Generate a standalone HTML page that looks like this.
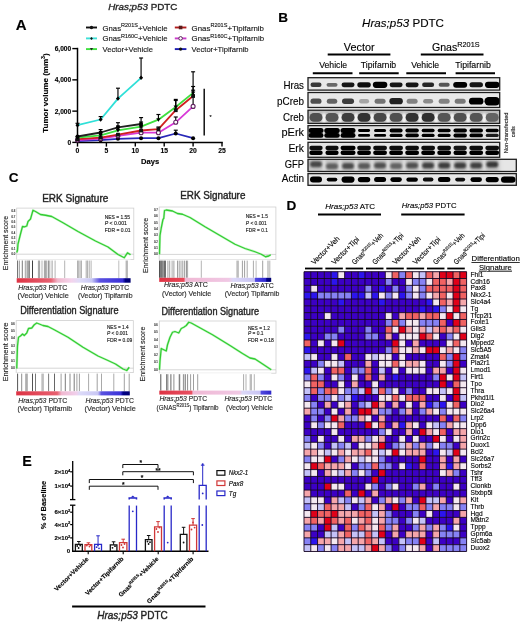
<!DOCTYPE html>
<html><head><meta charset="utf-8"><title>Figure</title>
<style>
html,body{margin:0;padding:0;background:#fff;}
body{width:520px;height:623px;overflow:hidden;}
svg{display:block;font-family:'Liberation Sans', Arial, sans-serif;}
text{stroke:#000;stroke-width:0.22px;stroke-opacity:0.55;}
</style></head><body>
<svg width="520" height="623" viewBox="0 0 520 623">
<rect x="0" y="0" width="520" height="623" fill="#fff"/>
<text x="15.80" y="30.40" font-size="15.0" font-weight="bold" >A</text>
<text x="108.20" y="9.60" font-size="9.7" fill="#222" textLength="69.20" lengthAdjust="spacingAndGlyphs" style="stroke-width:0.4px;stroke:#222;stroke-opacity:0.8"><tspan font-style="italic">Hras;p53</tspan> PDTC</text>
<line x1="77.50" y1="47.80" x2="77.50" y2="143.10" stroke="#000" stroke-width="1.5" />
<line x1="76.80" y1="142.40" x2="222.80" y2="142.40" stroke="#000" stroke-width="1.5" />
<line x1="72.30" y1="142.40" x2="77.50" y2="142.40" stroke="#000" stroke-width="1.4" />
<text x="71.20" y="144.80" font-size="6.6" font-weight="bold" text-anchor="end" >0</text>
<line x1="72.30" y1="111.13" x2="77.50" y2="111.13" stroke="#000" stroke-width="1.4" />
<text x="71.20" y="113.53" font-size="6.6" font-weight="bold" text-anchor="end" >2,000</text>
<line x1="72.30" y1="79.86" x2="77.50" y2="79.86" stroke="#000" stroke-width="1.4" />
<text x="71.20" y="82.26" font-size="6.6" font-weight="bold" text-anchor="end" >4,000</text>
<line x1="72.30" y1="48.59" x2="77.50" y2="48.59" stroke="#000" stroke-width="1.4" />
<text x="71.20" y="50.99" font-size="6.6" font-weight="bold" text-anchor="end" >6,000</text>
<line x1="77.50" y1="142.40" x2="77.50" y2="146.60" stroke="#000" stroke-width="1.4" />
<text x="77.50" y="153.30" font-size="6.8" font-weight="bold" text-anchor="middle" >0</text>
<line x1="106.40" y1="142.40" x2="106.40" y2="146.60" stroke="#000" stroke-width="1.4" />
<text x="106.40" y="153.30" font-size="6.8" font-weight="bold" text-anchor="middle" >5</text>
<line x1="135.30" y1="142.40" x2="135.30" y2="146.60" stroke="#000" stroke-width="1.4" />
<text x="135.30" y="153.30" font-size="6.8" font-weight="bold" text-anchor="middle" >10</text>
<line x1="164.20" y1="142.40" x2="164.20" y2="146.60" stroke="#000" stroke-width="1.4" />
<text x="164.20" y="153.30" font-size="6.8" font-weight="bold" text-anchor="middle" >15</text>
<line x1="193.10" y1="142.40" x2="193.10" y2="146.60" stroke="#000" stroke-width="1.4" />
<text x="193.10" y="153.30" font-size="6.8" font-weight="bold" text-anchor="middle" >20</text>
<line x1="222.00" y1="142.40" x2="222.00" y2="146.60" stroke="#000" stroke-width="1.4" />
<text x="222.00" y="153.30" font-size="6.8" font-weight="bold" text-anchor="middle" >25</text>
<text x="150.20" y="164.00" font-size="7.6" font-weight="bold" text-anchor="middle" >Days</text>
<text transform="translate(48.3,93.0) rotate(-90)" font-size="7.6" font-weight="bold" text-anchor="middle" textLength="79.5" lengthAdjust="spacingAndGlyphs">Tumor volume (mm<tspan font-size="5" dy="-3">3</tspan><tspan dy="3">)</tspan></text>
<polyline points="77.50,141.00 100.62,140.20 117.96,138.80 141.08,138.20 158.42,138.20 175.76,133.50 193.10,138.20" fill="none" stroke="#2828b8" stroke-width="1.8" stroke-linejoin="round" />
<polyline points="77.50,140.00 100.62,138.60 117.96,135.80 141.08,132.70 158.42,132.70 175.76,122.30 193.10,106.40" fill="none" stroke="#d838d8" stroke-width="1.8" stroke-linejoin="round" />
<polyline points="77.50,139.20 100.62,137.60 117.96,134.70 141.08,130.50 158.42,129.20 175.76,110.20 193.10,96.00" fill="none" stroke="#d02020" stroke-width="1.8" stroke-linejoin="round" />
<polyline points="77.50,137.60 100.62,135.30 117.96,130.40 141.08,126.60 158.42,119.70 175.76,107.00 193.10,92.90" fill="none" stroke="#3ee03e" stroke-width="1.8" stroke-linejoin="round" />
<polyline points="77.50,136.50 100.62,132.50 117.96,127.30 141.08,124.00" fill="none" stroke="#222222" stroke-width="1.8" stroke-linejoin="round" />
<polyline points="77.50,125.20 100.62,119.50 117.96,98.60 141.08,77.80" fill="none" stroke="#2fe0d8" stroke-width="1.8" stroke-linejoin="round" />
<circle cx="77.50" cy="141.00" r="2.0" fill="#000"/>
<circle cx="100.62" cy="140.20" r="2.0" fill="#000"/>
<circle cx="117.96" cy="138.80" r="2.0" fill="#000"/>
<circle cx="141.08" cy="138.20" r="2.0" fill="#000"/>
<circle cx="158.42" cy="138.20" r="2.0" fill="#000"/>
<line x1="175.76" y1="133.50" x2="175.76" y2="130.20" stroke="#000" stroke-width="1.15" />
<line x1="173.76" y1="130.20" x2="177.76" y2="130.20" stroke="#000" stroke-width="1.15" />
<circle cx="175.76" cy="133.50" r="2.0" fill="#000"/>
<circle cx="193.10" cy="138.20" r="2.0" fill="#000"/>
<circle cx="77.50" cy="140.00" r="2.0" fill="#fff" stroke="#602060" stroke-width="1.1"/>
<circle cx="100.62" cy="138.60" r="2.0" fill="#fff" stroke="#602060" stroke-width="1.1"/>
<circle cx="117.96" cy="135.80" r="2.0" fill="#fff" stroke="#602060" stroke-width="1.1"/>
<circle cx="141.08" cy="132.70" r="2.0" fill="#fff" stroke="#602060" stroke-width="1.1"/>
<circle cx="158.42" cy="132.70" r="2.0" fill="#fff" stroke="#602060" stroke-width="1.1"/>
<line x1="175.76" y1="122.30" x2="175.76" y2="117.00" stroke="#000" stroke-width="1.15" />
<line x1="173.76" y1="117.00" x2="177.76" y2="117.00" stroke="#000" stroke-width="1.15" />
<circle cx="175.76" cy="122.30" r="2.0" fill="#fff" stroke="#602060" stroke-width="1.1"/>
<line x1="193.10" y1="106.40" x2="193.10" y2="90.20" stroke="#000" stroke-width="1.15" />
<line x1="191.10" y1="90.20" x2="195.10" y2="90.20" stroke="#000" stroke-width="1.15" />
<circle cx="193.10" cy="106.40" r="2.0" fill="#fff" stroke="#602060" stroke-width="1.1"/>
<rect x="75.60" y="137.30" width="3.80" height="3.80" fill="#111" stroke="none" stroke-width="1" />
<rect x="98.72" y="135.70" width="3.80" height="3.80" fill="#111" stroke="none" stroke-width="1" />
<rect x="116.06" y="132.80" width="3.80" height="3.80" fill="#111" stroke="none" stroke-width="1" />
<line x1="141.08" y1="130.50" x2="141.08" y2="127.00" stroke="#000" stroke-width="1.15" />
<line x1="139.08" y1="127.00" x2="143.08" y2="127.00" stroke="#000" stroke-width="1.15" />
<rect x="139.18" y="128.60" width="3.80" height="3.80" fill="#111" stroke="none" stroke-width="1" />
<line x1="158.42" y1="129.20" x2="158.42" y2="127.00" stroke="#000" stroke-width="1.15" />
<line x1="156.42" y1="127.00" x2="160.42" y2="127.00" stroke="#000" stroke-width="1.15" />
<rect x="156.52" y="127.30" width="3.80" height="3.80" fill="#111" stroke="none" stroke-width="1" />
<line x1="175.76" y1="110.20" x2="175.76" y2="99.40" stroke="#000" stroke-width="1.15" />
<line x1="173.76" y1="99.40" x2="177.76" y2="99.40" stroke="#000" stroke-width="1.15" />
<rect x="173.86" y="108.30" width="3.80" height="3.80" fill="#111" stroke="none" stroke-width="1" />
<line x1="193.10" y1="96.00" x2="193.10" y2="86.50" stroke="#000" stroke-width="1.15" />
<line x1="191.10" y1="86.50" x2="195.10" y2="86.50" stroke="#000" stroke-width="1.15" />
<rect x="191.20" y="94.10" width="3.80" height="3.80" fill="#111" stroke="none" stroke-width="1" />
<path d="M75.30,136.10 L79.70,136.10 L77.50,139.60Z" fill="#000"/>
<path d="M98.42,133.80 L102.82,133.80 L100.62,137.30Z" fill="#000"/>
<line x1="117.96" y1="130.40" x2="117.96" y2="126.00" stroke="#000" stroke-width="1.15" />
<line x1="115.96" y1="126.00" x2="119.96" y2="126.00" stroke="#000" stroke-width="1.15" />
<path d="M115.76,128.90 L120.16,128.90 L117.96,132.40Z" fill="#000"/>
<line x1="141.08" y1="126.60" x2="141.08" y2="122.00" stroke="#000" stroke-width="1.15" />
<line x1="139.08" y1="122.00" x2="143.08" y2="122.00" stroke="#000" stroke-width="1.15" />
<path d="M138.88,125.10 L143.28,125.10 L141.08,128.60Z" fill="#000"/>
<line x1="158.42" y1="119.70" x2="158.42" y2="114.50" stroke="#000" stroke-width="1.15" />
<line x1="156.42" y1="114.50" x2="160.42" y2="114.50" stroke="#000" stroke-width="1.15" />
<path d="M156.22,118.20 L160.62,118.20 L158.42,121.70Z" fill="#000"/>
<line x1="175.76" y1="107.00" x2="175.76" y2="100.50" stroke="#000" stroke-width="1.15" />
<line x1="173.76" y1="100.50" x2="177.76" y2="100.50" stroke="#000" stroke-width="1.15" />
<path d="M173.56,105.50 L177.96,105.50 L175.76,109.00Z" fill="#000"/>
<line x1="193.10" y1="92.90" x2="193.10" y2="71.80" stroke="#000" stroke-width="1.15" />
<line x1="191.10" y1="71.80" x2="195.10" y2="71.80" stroke="#000" stroke-width="1.15" />
<path d="M190.90,91.40 L195.30,91.40 L193.10,94.90Z" fill="#000"/>
<circle cx="77.50" cy="136.50" r="2.0" fill="#000"/>
<line x1="100.62" y1="132.50" x2="100.62" y2="129.60" stroke="#000" stroke-width="1.15" />
<line x1="98.62" y1="129.60" x2="102.62" y2="129.60" stroke="#000" stroke-width="1.15" />
<circle cx="100.62" cy="132.50" r="2.0" fill="#000"/>
<line x1="117.96" y1="127.30" x2="117.96" y2="122.70" stroke="#000" stroke-width="1.15" />
<line x1="115.96" y1="122.70" x2="119.96" y2="122.70" stroke="#000" stroke-width="1.15" />
<circle cx="117.96" cy="127.30" r="2.0" fill="#000"/>
<line x1="141.08" y1="124.00" x2="141.08" y2="117.60" stroke="#000" stroke-width="1.15" />
<line x1="139.08" y1="117.60" x2="143.08" y2="117.60" stroke="#000" stroke-width="1.15" />
<circle cx="141.08" cy="124.00" r="2.0" fill="#000"/>
<line x1="77.50" y1="125.20" x2="77.50" y2="123.30" stroke="#000" stroke-width="1.15" />
<line x1="75.50" y1="123.30" x2="79.50" y2="123.30" stroke="#000" stroke-width="1.15" />
<path d="M77.50,123.00 L79.50,125.20 L77.50,127.40 L75.50,125.20Z" fill="#000"/>
<line x1="100.62" y1="119.50" x2="100.62" y2="116.60" stroke="#000" stroke-width="1.15" />
<line x1="98.62" y1="116.60" x2="102.62" y2="116.60" stroke="#000" stroke-width="1.15" />
<path d="M100.62,117.30 L102.62,119.50 L100.62,121.70 L98.62,119.50Z" fill="#000"/>
<line x1="117.96" y1="98.60" x2="117.96" y2="88.20" stroke="#000" stroke-width="1.15" />
<line x1="115.96" y1="88.20" x2="119.96" y2="88.20" stroke="#000" stroke-width="1.15" />
<path d="M117.96,96.40 L119.96,98.60 L117.96,100.80 L115.96,98.60Z" fill="#000"/>
<line x1="141.08" y1="77.80" x2="141.08" y2="58.00" stroke="#000" stroke-width="1.15" />
<line x1="139.08" y1="58.00" x2="143.08" y2="58.00" stroke="#000" stroke-width="1.15" />
<path d="M141.08,75.60 L143.08,77.80 L141.08,80.00 L139.08,77.80Z" fill="#000"/>
<line x1="204.20" y1="88.80" x2="204.20" y2="135.60" stroke="#000" stroke-width="1.4" />
<text x="209.50" y="119.00" font-size="5.5" >*</text>
<line x1="86.00" y1="27.50" x2="97.00" y2="27.50" stroke="#111" stroke-width="1.9" />
<circle cx="91.5" cy="27.5" r="1.7" fill="#111"/>
<text x="102.50" y="30.50" font-size="7.9" fill="#222" textLength="65.00" lengthAdjust="spacingAndGlyphs" >Gnas<tspan font-size="5.6" dy="-3.2">R201S</tspan><tspan dy="3.2">+Vehicle</tspan></text>
<line x1="86.00" y1="38.40" x2="97.00" y2="38.40" stroke="#3fe0d8" stroke-width="1.9" />
<path d="M91.5,36.9 L92.9,38.4 L91.5,39.9 L90.1,38.4Z" fill="#111"/>
<text x="102.50" y="41.40" font-size="7.9" fill="#222" textLength="65.00" lengthAdjust="spacingAndGlyphs" >Gnas<tspan font-size="5.6" dy="-3.2">R160C</tspan><tspan dy="3.2">+Vehicle</tspan></text>
<line x1="86.00" y1="49.10" x2="97.00" y2="49.10" stroke="#3ee03e" stroke-width="1.9" />
<path d="M89.9,48.0 L93.1,48.0 L91.5,50.6Z" fill="#222"/>
<text x="102.50" y="52.10" font-size="7.9" fill="#222" textLength="50.50" lengthAdjust="spacingAndGlyphs" >Vector+Vehicle</text>
<line x1="174.80" y1="27.50" x2="186.40" y2="27.50" stroke="#b01c1c" stroke-width="1.9" />
<rect x="178.80" y="25.70" width="3.60" height="3.60" fill="#5a1a1a" stroke="none" stroke-width="1" />
<text x="191.60" y="30.50" font-size="7.9" fill="#222" textLength="72.40" lengthAdjust="spacingAndGlyphs" >Gnas<tspan font-size="5.6" dy="-3.2">R201S</tspan><tspan dy="3.2">+Tipifarnib</tspan></text>
<line x1="174.80" y1="38.40" x2="186.40" y2="38.40" stroke="#c83cc8" stroke-width="1.9" />
<circle cx="180.60000000000002" cy="38.4" r="1.8" fill="#fff" stroke="#552255" stroke-width="1.0"/>
<text x="191.60" y="41.40" font-size="7.9" fill="#222" textLength="72.40" lengthAdjust="spacingAndGlyphs" >Gnas<tspan font-size="5.6" dy="-3.2">R160C</tspan><tspan dy="3.2">+Tipifarnib</tspan></text>
<line x1="174.80" y1="49.10" x2="186.40" y2="49.10" stroke="#1c1cb0" stroke-width="1.9" />
<circle cx="180.60000000000002" cy="49.1" r="1.7" fill="#111"/>
<text x="191.60" y="52.10" font-size="7.9" fill="#222" textLength="57.00" lengthAdjust="spacingAndGlyphs" >Vector+Tipifarnib</text>
<text x="278.20" y="22.30" font-size="13.6" font-weight="bold" >B</text>
<text x="362.10" y="27.30" font-size="11.2" textLength="81.90" lengthAdjust="spacingAndGlyphs" ><tspan font-style="italic">Hras;p53</tspan> PDTC</text>
<text x="343.80" y="51.00" font-size="10.2" textLength="30.80" lengthAdjust="spacingAndGlyphs" >Vector</text>
<text x="431.90" y="51.00" font-size="10.2" textLength="47.70" lengthAdjust="spacingAndGlyphs" >Gnas<tspan font-size="7" dy="-4">R201S</tspan></text>
<line x1="327.70" y1="54.60" x2="390.40" y2="54.60" stroke="#000" stroke-width="2.0" />
<line x1="420.80" y1="54.60" x2="483.50" y2="54.60" stroke="#000" stroke-width="2.0" />
<text x="319.20" y="68.30" font-size="8.6" textLength="28.00" lengthAdjust="spacingAndGlyphs" >Vehicle</text>
<text x="360.80" y="68.30" font-size="8.6" textLength="35.40" lengthAdjust="spacingAndGlyphs" >Tipifarnib</text>
<text x="411.20" y="68.30" font-size="8.6" textLength="28.00" lengthAdjust="spacingAndGlyphs" >Vehicle</text>
<text x="455.20" y="68.30" font-size="8.6" textLength="35.60" lengthAdjust="spacingAndGlyphs" >Tipifarnib</text>
<line x1="312.80" y1="73.30" x2="352.50" y2="73.30" stroke="#000" stroke-width="2.0" />
<line x1="359.20" y1="73.30" x2="398.70" y2="73.30" stroke="#000" stroke-width="2.0" />
<line x1="406.30" y1="73.30" x2="446.00" y2="73.30" stroke="#000" stroke-width="2.0" />
<line x1="455.60" y1="73.30" x2="495.00" y2="73.30" stroke="#000" stroke-width="2.0" />
<text x="304.00" y="88.70" font-size="10.4" text-anchor="end" textLength="20.60" lengthAdjust="spacingAndGlyphs" >Hras</text>
<text x="304.00" y="104.60" font-size="10.4" text-anchor="end" textLength="26.90" lengthAdjust="spacingAndGlyphs" >pCreb</text>
<text x="304.00" y="120.60" font-size="10.4" text-anchor="end" textLength="21.00" lengthAdjust="spacingAndGlyphs" >Creb</text>
<text x="304.00" y="135.50" font-size="10.4" text-anchor="end" textLength="22.50" lengthAdjust="spacingAndGlyphs" >pErk</text>
<text x="304.00" y="152.00" font-size="10.4" text-anchor="end" textLength="15.60" lengthAdjust="spacingAndGlyphs" >Erk</text>
<text x="304.00" y="167.80" font-size="10.4" text-anchor="end" textLength="19.20" lengthAdjust="spacingAndGlyphs" >GFP</text>
<text x="304.00" y="181.60" font-size="10.4" text-anchor="end" textLength="22.20" lengthAdjust="spacingAndGlyphs" >Actin</text>
<defs><filter id="bb" x="-50%" y="-100%" width="200%" height="300%"><feGaussianBlur stdDeviation="0.7"/></filter><filter id="bs" x="-50%" y="-100%" width="200%" height="300%"><feGaussianBlur stdDeviation="1.3"/></filter><filter id="bx" x="-20%" y="-50%" width="140%" height="200%"><feGaussianBlur stdDeviation="1.0"/></filter></defs>
<rect x="308.00" y="77.70" width="191.70" height="12.40" fill="#e8e8e8" stroke="none" stroke-width="1" />
<g filter="url(#bb)">
<rect x="310.50" y="82.60" width="11.00" height="4.40" rx="2.20" fill="rgb(55,55,55)"/>
<rect x="326.52" y="82.90" width="11.00" height="3.80" rx="1.90" fill="rgb(105,105,105)"/>
<rect x="341.54" y="82.40" width="13.00" height="4.80" rx="2.40" fill="rgb(25,25,25)"/>
<rect x="357.31" y="82.20" width="13.50" height="5.20" rx="2.60" fill="rgb(15,15,15)"/>
<rect x="372.83" y="81.70" width="14.50" height="6.20" rx="3.10" fill="rgb(0,0,0)"/>
<rect x="389.60" y="82.40" width="13.00" height="4.80" rx="2.40" fill="rgb(25,25,25)"/>
<rect x="405.62" y="82.40" width="13.00" height="4.80" rx="2.40" fill="rgb(20,20,20)"/>
<rect x="422.14" y="82.60" width="12.00" height="4.40" rx="2.20" fill="rgb(40,40,40)"/>
<rect x="438.66" y="82.80" width="11.00" height="4.00" rx="2.00" fill="rgb(85,85,85)"/>
<rect x="453.18" y="81.90" width="14.00" height="5.80" rx="2.90" fill="rgb(5,5,5)"/>
<rect x="469.45" y="82.30" width="13.50" height="5.00" rx="2.50" fill="rgb(20,20,20)"/>
<rect x="484.97" y="81.70" width="14.50" height="6.20" rx="3.10" fill="rgb(0,0,0)"/>
</g>
<rect x="308.00" y="77.70" width="191.70" height="12.40" fill="none" stroke="#1e1e1e" stroke-width="1.3" />
<rect x="308.00" y="92.50" width="191.70" height="15.00" fill="#e8e8e8" stroke="none" stroke-width="1" />
<g filter="url(#bb)">
<rect x="310.50" y="98.60" width="11.00" height="5.20" rx="2.60" fill="rgb(80,80,80)"/>
<rect x="326.77" y="98.70" width="10.50" height="5.00" rx="2.50" fill="rgb(100,100,100)"/>
<rect x="342.04" y="98.50" width="12.00" height="5.40" rx="2.70" fill="rgb(60,60,60)"/>
<rect x="359.06" y="99.00" width="10.00" height="4.40" rx="2.20" fill="rgb(165,165,165)"/>
<rect x="374.58" y="98.70" width="11.00" height="5.00" rx="2.50" fill="rgb(115,115,115)"/>
<rect x="389.35" y="98.10" width="13.50" height="6.20" rx="3.10" fill="rgb(35,35,35)"/>
<rect x="406.62" y="98.70" width="11.00" height="5.00" rx="2.50" fill="rgb(130,130,130)"/>
<rect x="423.14" y="98.90" width="10.00" height="4.60" rx="2.30" fill="rgb(140,140,140)"/>
<rect x="438.66" y="98.70" width="11.00" height="5.00" rx="2.50" fill="rgb(130,130,130)"/>
<rect x="454.68" y="98.70" width="11.00" height="5.00" rx="2.50" fill="rgb(120,120,120)"/>
<rect x="468.95" y="97.80" width="14.50" height="6.80" rx="3.40" fill="rgb(5,5,5)"/>
<rect x="484.47" y="97.00" width="15.50" height="8.40" rx="4.20" fill="rgb(0,0,0)"/>
</g>
<rect x="308.00" y="92.50" width="191.70" height="15.00" fill="none" stroke="#1e1e1e" stroke-width="1.3" />
<rect x="308.00" y="110.20" width="191.70" height="13.20" fill="#bcbcbc" stroke="none" stroke-width="1" />
<g filter="url(#bx)">
<ellipse cx="324.01" cy="118.2" rx="2.3" ry="5.2" fill="#f4f4f4"/>
<ellipse cx="340.03" cy="118.2" rx="2.3" ry="5.2" fill="#f4f4f4"/>
<ellipse cx="356.05" cy="118.2" rx="2.3" ry="5.2" fill="#f4f4f4"/>
<ellipse cx="372.07" cy="118.2" rx="2.3" ry="5.2" fill="#f4f4f4"/>
<ellipse cx="388.09" cy="118.2" rx="2.3" ry="5.2" fill="#f4f4f4"/>
<ellipse cx="404.11" cy="118.2" rx="2.3" ry="5.2" fill="#f4f4f4"/>
<ellipse cx="420.13" cy="118.2" rx="2.3" ry="5.2" fill="#f4f4f4"/>
<ellipse cx="436.15" cy="118.2" rx="2.3" ry="5.2" fill="#f4f4f4"/>
<ellipse cx="452.17" cy="118.2" rx="2.3" ry="5.2" fill="#f4f4f4"/>
<ellipse cx="468.19" cy="118.2" rx="2.3" ry="5.2" fill="#f4f4f4"/>
<ellipse cx="484.21" cy="118.2" rx="2.3" ry="5.2" fill="#f4f4f4"/>
</g>
<g filter="url(#bb)">
<rect x="309.50" y="113.00" width="13.00" height="8.80" rx="4.40" fill="rgb(80,80,80)"/>
<rect x="325.52" y="113.00" width="13.00" height="8.80" rx="4.40" fill="rgb(85,85,85)"/>
<rect x="341.54" y="113.00" width="13.00" height="8.80" rx="4.40" fill="rgb(60,60,60)"/>
<rect x="357.56" y="113.00" width="13.00" height="8.80" rx="4.40" fill="rgb(50,50,50)"/>
<rect x="373.58" y="113.00" width="13.00" height="8.80" rx="4.40" fill="rgb(70,70,70)"/>
<rect x="389.60" y="113.00" width="13.00" height="8.80" rx="4.40" fill="rgb(80,80,80)"/>
<rect x="405.62" y="113.00" width="13.00" height="8.80" rx="4.40" fill="rgb(50,50,50)"/>
<rect x="421.64" y="113.00" width="13.00" height="8.80" rx="4.40" fill="rgb(45,45,45)"/>
<rect x="437.66" y="113.00" width="13.00" height="8.80" rx="4.40" fill="rgb(85,85,85)"/>
<rect x="453.68" y="113.00" width="13.00" height="8.80" rx="4.40" fill="rgb(80,80,80)"/>
<rect x="469.70" y="113.00" width="13.00" height="8.80" rx="4.40" fill="rgb(85,85,85)"/>
<rect x="485.72" y="113.00" width="13.00" height="8.80" rx="4.40" fill="rgb(100,100,100)"/>
</g>
<rect x="308.00" y="110.20" width="191.70" height="13.20" fill="none" stroke="#1e1e1e" stroke-width="1.3" />
<rect x="308.00" y="125.60" width="191.70" height="13.80" fill="#e0e0e0" stroke="none" stroke-width="1" />
<g filter="url(#bb)">
<rect x="308.50" y="128.00" width="15.00" height="5.00" rx="2.50" fill="rgb(0,0,0)"/>
<rect x="324.27" y="127.90" width="15.50" height="5.20" rx="2.60" fill="rgb(0,0,0)"/>
<rect x="340.54" y="128.00" width="15.00" height="5.00" rx="2.50" fill="rgb(0,0,0)"/>
<rect x="358.06" y="129.10" width="12.00" height="2.80" rx="1.40" fill="rgb(0,0,0)"/>
<rect x="374.08" y="129.00" width="12.00" height="3.00" rx="1.50" fill="rgb(0,0,0)"/>
<rect x="389.60" y="128.60" width="13.00" height="3.80" rx="1.90" fill="rgb(0,0,0)"/>
<rect x="405.37" y="128.40" width="13.50" height="4.20" rx="2.10" fill="rgb(0,0,0)"/>
<rect x="421.64" y="128.70" width="13.00" height="3.60" rx="1.80" fill="rgb(0,0,0)"/>
<rect x="437.66" y="128.70" width="13.00" height="3.60" rx="1.80" fill="rgb(0,0,0)"/>
<rect x="453.43" y="128.40" width="13.50" height="4.20" rx="2.10" fill="rgb(0,0,0)"/>
<rect x="469.45" y="128.50" width="13.50" height="4.00" rx="2.00" fill="rgb(0,0,0)"/>
<rect x="485.72" y="128.70" width="13.00" height="3.60" rx="1.80" fill="rgb(0,0,0)"/>
</g>
<g filter="url(#bb)">
<rect x="308.50" y="133.10" width="15.00" height="4.60" rx="2.30" fill="rgb(0,0,0)"/>
<rect x="324.27" y="133.00" width="15.50" height="4.80" rx="2.40" fill="rgb(0,0,0)"/>
<rect x="340.54" y="133.10" width="15.00" height="4.60" rx="2.30" fill="rgb(0,0,0)"/>
<rect x="358.06" y="134.10" width="12.00" height="2.60" rx="1.30" fill="rgb(0,0,0)"/>
<rect x="374.08" y="134.10" width="12.00" height="2.60" rx="1.30" fill="rgb(0,0,0)"/>
<rect x="389.60" y="133.70" width="13.00" height="3.40" rx="1.70" fill="rgb(0,0,0)"/>
<rect x="405.37" y="133.60" width="13.50" height="3.60" rx="1.80" fill="rgb(0,0,0)"/>
<rect x="421.64" y="133.70" width="13.00" height="3.40" rx="1.70" fill="rgb(0,0,0)"/>
<rect x="437.66" y="133.70" width="13.00" height="3.40" rx="1.70" fill="rgb(0,0,0)"/>
<rect x="453.43" y="133.40" width="13.50" height="4.00" rx="2.00" fill="rgb(0,0,0)"/>
<rect x="469.45" y="133.50" width="13.50" height="3.80" rx="1.90" fill="rgb(0,0,0)"/>
<rect x="485.72" y="133.70" width="13.00" height="3.40" rx="1.70" fill="rgb(30,30,30)"/>
</g>
<rect x="308.00" y="125.60" width="191.70" height="13.80" fill="none" stroke="#1e1e1e" stroke-width="1.3" />
<rect x="308.00" y="142.30" width="191.70" height="15.00" fill="#e4e4e4" stroke="none" stroke-width="1" />
<g filter="url(#bb)">
<rect x="309.30" y="145.85" width="13.40" height="4.30" rx="2.15" fill="rgb(15,15,15)"/>
<rect x="325.42" y="145.85" width="13.20" height="4.30" rx="2.15" fill="rgb(15,15,15)"/>
<rect x="340.54" y="145.85" width="15.00" height="4.30" rx="2.15" fill="rgb(0,0,0)"/>
<rect x="357.16" y="145.85" width="13.80" height="4.30" rx="2.15" fill="rgb(15,15,15)"/>
<rect x="373.18" y="145.85" width="13.80" height="4.30" rx="2.15" fill="rgb(10,10,10)"/>
<rect x="389.20" y="145.85" width="13.80" height="4.30" rx="2.15" fill="rgb(15,15,15)"/>
<rect x="405.22" y="145.85" width="13.80" height="4.30" rx="2.15" fill="rgb(15,15,15)"/>
<rect x="421.24" y="145.85" width="13.80" height="4.30" rx="2.15" fill="rgb(10,10,10)"/>
<rect x="437.26" y="145.85" width="13.80" height="4.30" rx="2.15" fill="rgb(15,15,15)"/>
<rect x="453.48" y="145.85" width="13.40" height="4.30" rx="2.15" fill="rgb(20,20,20)"/>
<rect x="469.30" y="145.85" width="13.80" height="4.30" rx="2.15" fill="rgb(15,15,15)"/>
<rect x="485.32" y="145.85" width="13.80" height="4.30" rx="2.15" fill="rgb(10,10,10)"/>
</g>
<g filter="url(#bb)">
<rect x="309.30" y="150.50" width="13.40" height="4.60" rx="2.30" fill="rgb(0,0,0)"/>
<rect x="325.42" y="150.50" width="13.20" height="4.60" rx="2.30" fill="rgb(0,0,0)"/>
<rect x="340.54" y="150.50" width="15.00" height="4.60" rx="2.30" fill="rgb(0,0,0)"/>
<rect x="357.16" y="150.50" width="13.80" height="4.60" rx="2.30" fill="rgb(0,0,0)"/>
<rect x="373.18" y="150.50" width="13.80" height="4.60" rx="2.30" fill="rgb(0,0,0)"/>
<rect x="389.20" y="150.50" width="13.80" height="4.60" rx="2.30" fill="rgb(0,0,0)"/>
<rect x="405.22" y="150.50" width="13.80" height="4.60" rx="2.30" fill="rgb(0,0,0)"/>
<rect x="421.24" y="150.50" width="13.80" height="4.60" rx="2.30" fill="rgb(0,0,0)"/>
<rect x="437.26" y="150.50" width="13.80" height="4.60" rx="2.30" fill="rgb(5,5,5)"/>
<rect x="453.48" y="150.50" width="13.40" height="4.60" rx="2.30" fill="rgb(5,5,5)"/>
<rect x="469.30" y="150.50" width="13.80" height="4.60" rx="2.30" fill="rgb(0,0,0)"/>
<rect x="485.32" y="150.50" width="13.80" height="4.60" rx="2.30" fill="rgb(5,5,5)"/>
</g>
<rect x="308.00" y="142.30" width="191.70" height="15.00" fill="none" stroke="#1e1e1e" stroke-width="1.3" />
<rect x="308.00" y="159.30" width="208.30" height="12.20" fill="#c4c4c4" stroke="none" stroke-width="1" />
<rect x="500.50" y="159.30" width="15.80" height="12.20" fill="#e6e6e6" stroke="none" stroke-width="1" />
<g filter="url(#bx)">
<rect x="322.41" y="159.30" width="3.2" height="12.20" fill="#dedede"/>
<rect x="338.43" y="159.30" width="3.2" height="12.20" fill="#dedede"/>
<rect x="354.45" y="159.30" width="3.2" height="12.20" fill="#dedede"/>
<rect x="370.47" y="159.30" width="3.2" height="12.20" fill="#dedede"/>
<rect x="386.49" y="159.30" width="3.2" height="12.20" fill="#dedede"/>
<rect x="402.51" y="159.30" width="3.2" height="12.20" fill="#dedede"/>
<rect x="418.53" y="159.30" width="3.2" height="12.20" fill="#dedede"/>
<rect x="434.55" y="159.30" width="3.2" height="12.20" fill="#dedede"/>
<rect x="450.57" y="159.30" width="3.2" height="12.20" fill="#dedede"/>
<rect x="466.59" y="159.30" width="3.2" height="12.20" fill="#dedede"/>
<rect x="482.61" y="159.30" width="3.2" height="12.20" fill="#dedede"/>
<rect x="498.63" y="159.30" width="3.2" height="12.20" fill="#dedede"/>
</g>
<g filter="url(#bs)">
<rect x="310.00" y="161.20" width="12.00" height="6.00" rx="3.00" fill="rgb(70,70,70)"/>
<rect x="326.02" y="163.20" width="12.00" height="6.00" rx="3.00" fill="rgb(95,95,95)"/>
<rect x="342.04" y="163.10" width="12.00" height="6.00" rx="3.00" fill="rgb(75,75,75)"/>
<rect x="358.06" y="162.90" width="12.00" height="6.00" rx="3.00" fill="rgb(90,90,90)"/>
<rect x="374.08" y="162.60" width="12.00" height="6.00" rx="3.00" fill="rgb(80,80,80)"/>
<rect x="390.10" y="163.10" width="12.00" height="6.00" rx="3.00" fill="rgb(100,100,100)"/>
<rect x="406.12" y="162.60" width="12.00" height="6.00" rx="3.00" fill="rgb(80,80,80)"/>
<rect x="422.14" y="162.60" width="12.00" height="6.00" rx="3.00" fill="rgb(65,65,65)"/>
<rect x="438.16" y="162.60" width="12.00" height="6.00" rx="3.00" fill="rgb(60,60,60)"/>
<rect x="454.18" y="162.60" width="12.00" height="6.00" rx="3.00" fill="rgb(60,60,60)"/>
<rect x="470.20" y="162.60" width="12.00" height="6.00" rx="3.00" fill="rgb(65,65,65)"/>
<rect x="486.22" y="161.60" width="12.00" height="6.00" rx="3.00" fill="rgb(55,55,55)"/>
</g>
<rect x="308.00" y="159.30" width="208.30" height="12.20" fill="none" stroke="#1e1e1e" stroke-width="1.3" />
<rect x="308.00" y="173.60" width="208.30" height="11.70" fill="#e6e6e6" stroke="none" stroke-width="1" />
<g filter="url(#bb)">
<rect x="310.00" y="176.60" width="12.00" height="6.00" rx="3.00" fill="rgb(0,0,0)"/>
<rect x="326.72" y="177.80" width="10.60" height="3.60" rx="1.80" fill="rgb(5,5,5)"/>
<rect x="341.54" y="176.50" width="13.00" height="6.20" rx="3.10" fill="rgb(0,0,0)"/>
<rect x="357.86" y="176.90" width="12.40" height="5.40" rx="2.70" fill="rgb(0,0,0)"/>
<rect x="374.08" y="177.10" width="12.00" height="5.00" rx="2.50" fill="rgb(2,2,2)"/>
<rect x="390.35" y="177.20" width="11.50" height="4.80" rx="2.40" fill="rgb(3,3,3)"/>
<rect x="406.37" y="177.40" width="11.50" height="4.40" rx="2.20" fill="rgb(5,5,5)"/>
<rect x="422.89" y="177.60" width="10.50" height="4.00" rx="2.00" fill="rgb(8,8,8)"/>
<rect x="437.96" y="177.10" width="12.40" height="5.00" rx="2.50" fill="rgb(2,2,2)"/>
<rect x="455.18" y="177.80" width="10.00" height="3.60" rx="1.80" fill="rgb(10,10,10)"/>
<rect x="470.45" y="177.30" width="11.50" height="4.60" rx="2.30" fill="rgb(5,5,5)"/>
<rect x="485.72" y="176.90" width="13.00" height="5.40" rx="2.70" fill="rgb(0,0,0)"/>
<rect x="500.99" y="176.40" width="14.50" height="6.40" rx="3.20" fill="rgb(0,0,0)"/>
</g>
<rect x="308.00" y="173.60" width="208.30" height="11.70" fill="none" stroke="#1e1e1e" stroke-width="1.3" />
<text transform="translate(508.4,153.2) rotate(-90)" font-size="5.8" fill="#222" textLength="40.7" lengthAdjust="spacingAndGlyphs">Non-transfected</text>
<text transform="translate(515.0,137.3) rotate(-90)" font-size="5.8" fill="#222" textLength="11.1" lengthAdjust="spacingAndGlyphs">cells</text>
<text x="8.70" y="181.80" font-size="13.6" font-weight="bold" >C</text>
<defs><linearGradient id="cb0" x1="0" x2="1" y1="0" y2="0"><stop offset="0" stop-color="#dd3344"/><stop offset="0.3" stop-color="#e66070"/><stop offset="0.36" stop-color="#f0b8cc"/><stop offset="0.48" stop-color="#f4d4ec"/><stop offset="0.55" stop-color="#e0dcf8"/><stop offset="0.66" stop-color="#c8c8f4"/><stop offset="0.73" stop-color="#5a50e0"/><stop offset="0.93" stop-color="#3a30d8"/><stop offset="0.955" stop-color="#000080"/><stop offset="1" stop-color="#000070"/></linearGradient></defs>
<text x="42.20" y="202.00" font-size="10.0" fill="#222" textLength="66.10" lengthAdjust="spacingAndGlyphs" style="stroke-width:0.45px;stroke:#222;stroke-opacity:0.8">ERK Signature</text>
<text transform="translate(7.60,243.00) rotate(-90)" font-size="7.2" text-anchor="middle" fill="#333" textLength="54.5" lengthAdjust="spacingAndGlyphs">Enrichment score</text>
<rect x="16.70" y="208.10" width="117.10" height="51.40" fill="#fff" stroke="#cfcfcf" stroke-width="0.8" />
<line x1="16.70" y1="254.20" x2="133.80" y2="254.20" stroke="#b8b8b8" stroke-width="0.6" />
<text x="15.30" y="212.30" font-size="2.8" text-anchor="end" fill="#555" >0.8</text>
<text x="15.30" y="217.66" font-size="2.8" text-anchor="end" fill="#555" >0.7</text>
<text x="15.30" y="223.03" font-size="2.8" text-anchor="end" fill="#555" >0.6</text>
<text x="15.30" y="228.39" font-size="2.8" text-anchor="end" fill="#555" >0.5</text>
<text x="15.30" y="233.75" font-size="2.8" text-anchor="end" fill="#555" >0.4</text>
<text x="15.30" y="239.11" font-size="2.8" text-anchor="end" fill="#555" >0.3</text>
<text x="15.30" y="244.47" font-size="2.8" text-anchor="end" fill="#555" >0.2</text>
<text x="15.30" y="249.84" font-size="2.8" text-anchor="end" fill="#555" >0.1</text>
<text x="15.30" y="255.20" font-size="2.8" text-anchor="end" fill="#555" >0.0</text>
<polyline points="16.75,252.50 17.50,250.25 18.00,244.00 20.50,234.00 22.50,226.50 24.50,226.80 26.75,226.00 28.00,221.50 30.50,219.00 33.00,210.25 35.50,211.50 40.50,214.50 45.50,215.25 51.75,216.50 63.00,222.75 78.00,231.50 95.50,241.00 108.00,247.00 118.00,254.50 124.25,257.75 127.50,252.75 130.50,254.75" fill="none" stroke="#9af09a" stroke-width="2.4" stroke-linejoin="round" stroke-opacity="0.55"/>
<polyline points="16.75,252.50 17.50,250.25 18.00,244.00 20.50,234.00 22.50,226.50 24.50,226.80 26.75,226.00 28.00,221.50 30.50,219.00 33.00,210.25 35.50,211.50 40.50,214.50 45.50,215.25 51.75,216.50 63.00,222.75 78.00,231.50 95.50,241.00 108.00,247.00 118.00,254.50 124.25,257.75 127.50,252.75 130.50,254.75" fill="none" stroke="#33cc33" stroke-width="1.3" stroke-linejoin="round" />
<text x="104.70" y="218.90" font-size="5.4" fill="#222" textLength="25.40" lengthAdjust="spacingAndGlyphs" >NES = 1.55</text>
<text x="104.70" y="225.20" font-size="5.4" fill="#222" textLength="22.30" lengthAdjust="spacingAndGlyphs" ><tspan font-style="italic">P</tspan> &lt; 0.001</text>
<text x="104.70" y="232.20" font-size="5.4" fill="#222" textLength="25.80" lengthAdjust="spacingAndGlyphs" >FDR = 0.01</text>
<rect x="16.70" y="259.50" width="113.90" height="18.70" fill="#fff" stroke="none" stroke-width="1" />
<line x1="17.60" y1="260.50" x2="17.60" y2="278.20" stroke="#000" stroke-width="0.75" stroke-opacity="0.8"/>
<line x1="19.40" y1="260.50" x2="19.40" y2="278.20" stroke="#000" stroke-width="0.75" stroke-opacity="0.5"/>
<line x1="22.30" y1="260.50" x2="22.30" y2="278.20" stroke="#000" stroke-width="0.75" stroke-opacity="0.7"/>
<line x1="25.30" y1="260.50" x2="25.30" y2="278.20" stroke="#000" stroke-width="0.75" stroke-opacity="0.5"/>
<line x1="27.10" y1="260.50" x2="27.10" y2="278.20" stroke="#000" stroke-width="0.75" stroke-opacity="0.6"/>
<line x1="28.30" y1="260.50" x2="28.30" y2="278.20" stroke="#000" stroke-width="0.75" stroke-opacity="0.6"/>
<line x1="29.50" y1="260.50" x2="29.50" y2="278.20" stroke="#000" stroke-width="0.75" stroke-opacity="0.6"/>
<line x1="32.50" y1="260.50" x2="32.50" y2="278.20" stroke="#000" stroke-width="0.75" stroke-opacity="1.0"/>
<line x1="38.40" y1="260.50" x2="38.40" y2="278.20" stroke="#000" stroke-width="0.75" stroke-opacity="0.5"/>
<line x1="39.60" y1="260.50" x2="39.60" y2="278.20" stroke="#000" stroke-width="0.75" stroke-opacity="0.5"/>
<line x1="42.00" y1="260.50" x2="42.00" y2="278.20" stroke="#000" stroke-width="0.75" stroke-opacity="0.4"/>
<line x1="44.40" y1="260.50" x2="44.40" y2="278.20" stroke="#000" stroke-width="0.75" stroke-opacity="0.5"/>
<line x1="45.60" y1="260.50" x2="45.60" y2="278.20" stroke="#000" stroke-width="0.75" stroke-opacity="0.5"/>
<line x1="46.80" y1="260.50" x2="46.80" y2="278.20" stroke="#000" stroke-width="0.75" stroke-opacity="0.5"/>
<line x1="48.60" y1="260.50" x2="48.60" y2="278.20" stroke="#000" stroke-width="0.75" stroke-opacity="0.6"/>
<line x1="49.80" y1="260.50" x2="49.80" y2="278.20" stroke="#000" stroke-width="0.75" stroke-opacity="0.4"/>
<line x1="52.10" y1="260.50" x2="52.10" y2="278.20" stroke="#000" stroke-width="0.75" stroke-opacity="0.5"/>
<line x1="55.10" y1="260.50" x2="55.10" y2="278.20" stroke="#000" stroke-width="0.75" stroke-opacity="0.4"/>
<line x1="64.70" y1="260.50" x2="64.70" y2="278.20" stroke="#000" stroke-width="0.75" stroke-opacity="0.4"/>
<line x1="77.60" y1="260.50" x2="77.60" y2="278.20" stroke="#000" stroke-width="0.75" stroke-opacity="0.45"/>
<line x1="78.80" y1="260.50" x2="78.80" y2="278.20" stroke="#000" stroke-width="0.75" stroke-opacity="0.45"/>
<line x1="80.20" y1="260.50" x2="80.20" y2="278.20" stroke="#000" stroke-width="0.75" stroke-opacity="0.4"/>
<line x1="81.50" y1="260.50" x2="81.50" y2="278.20" stroke="#000" stroke-width="0.75" stroke-opacity="0.4"/>
<line x1="86.20" y1="260.50" x2="86.20" y2="278.20" stroke="#000" stroke-width="0.75" stroke-opacity="0.45"/>
<line x1="87.50" y1="260.50" x2="87.50" y2="278.20" stroke="#000" stroke-width="0.75" stroke-opacity="0.4"/>
<line x1="89.20" y1="260.50" x2="89.20" y2="278.20" stroke="#000" stroke-width="0.75" stroke-opacity="0.45"/>
<line x1="91.10" y1="260.50" x2="91.10" y2="278.20" stroke="#000" stroke-width="0.75" stroke-opacity="0.4"/>
<line x1="118.80" y1="260.50" x2="118.80" y2="278.20" stroke="#000" stroke-width="0.75" stroke-opacity="0.35"/>
<line x1="126.20" y1="260.50" x2="126.20" y2="278.20" stroke="#000" stroke-width="0.75" stroke-opacity="0.5"/>
<line x1="127.40" y1="260.50" x2="127.40" y2="278.20" stroke="#000" stroke-width="0.75" stroke-opacity="0.4"/>
<rect x="16.70" y="278.20" width="113.90" height="4.50" fill="url(#cb0)" stroke="none" stroke-width="1" />
<text x="18.30" y="290.20" font-size="7.0" fill="#333" textLength="49.00" lengthAdjust="spacingAndGlyphs" ><tspan font-style="italic">Hras;p53</tspan> PDTC</text>
<text x="17.50" y="298.30" font-size="7.0" fill="#333" textLength="51.20" lengthAdjust="spacingAndGlyphs" >(Vector) Vehicle</text>
<text x="80.80" y="290.20" font-size="7.0" fill="#333" textLength="48.40" lengthAdjust="spacingAndGlyphs" ><tspan font-style="italic">Hras;p53</tspan> PDTC</text>
<text x="78.00" y="298.30" font-size="7.0" fill="#333" textLength="54.50" lengthAdjust="spacingAndGlyphs" >(Vector) Tipifarnib</text>
<defs><linearGradient id="cb1" x1="0" x2="1" y1="0" y2="0"><stop offset="0" stop-color="#dd3344"/><stop offset="0.22" stop-color="#e84858"/><stop offset="0.235" stop-color="#f0b8d4"/><stop offset="0.62" stop-color="#f0c8e4"/><stop offset="0.66" stop-color="#dcd8f8"/><stop offset="0.85" stop-color="#c8c4f4"/><stop offset="0.86" stop-color="#5048e0"/><stop offset="0.95" stop-color="#3028d0"/><stop offset="0.96" stop-color="#000088"/><stop offset="1" stop-color="#000070"/></linearGradient></defs>
<text x="180.20" y="199.40" font-size="10.0" fill="#222" textLength="65.20" lengthAdjust="spacingAndGlyphs" style="stroke-width:0.45px;stroke:#222;stroke-opacity:0.8">ERK Signature</text>
<text transform="translate(148.00,245.30) rotate(-90)" font-size="7.2" text-anchor="middle" fill="#333" textLength="55.2" lengthAdjust="spacingAndGlyphs">Enrichment score</text>
<rect x="159.20" y="207.00" width="116.70" height="52.60" fill="#fff" stroke="#cfcfcf" stroke-width="0.8" />
<line x1="159.20" y1="254.40" x2="275.90" y2="254.40" stroke="#b8b8b8" stroke-width="0.6" />
<text x="157.80" y="211.00" font-size="2.8" text-anchor="end" fill="#555" >0.7</text>
<text x="157.80" y="217.34" font-size="2.8" text-anchor="end" fill="#555" >0.6</text>
<text x="157.80" y="223.69" font-size="2.8" text-anchor="end" fill="#555" >0.5</text>
<text x="157.80" y="230.03" font-size="2.8" text-anchor="end" fill="#555" >0.4</text>
<text x="157.80" y="236.37" font-size="2.8" text-anchor="end" fill="#555" >0.3</text>
<text x="157.80" y="242.71" font-size="2.8" text-anchor="end" fill="#555" >0.2</text>
<text x="157.80" y="249.06" font-size="2.8" text-anchor="end" fill="#555" >0.1</text>
<text x="157.80" y="255.40" font-size="2.8" text-anchor="end" fill="#555" >0.0</text>
<polyline points="159.50,254.25 160.00,235.50 161.25,228.00 163.00,219.25 163.75,218.50 164.50,210.50 166.25,210.00 172.50,211.00 177.50,213.50 182.50,214.25 190.00,217.50 205.00,226.75 220.00,235.50 235.00,244.25 245.00,248.50 255.00,251.75 261.25,254.25 265.50,256.75 268.75,256.00 270.75,254.75" fill="none" stroke="#9af09a" stroke-width="2.4" stroke-linejoin="round" stroke-opacity="0.55"/>
<polyline points="159.50,254.25 160.00,235.50 161.25,228.00 163.00,219.25 163.75,218.50 164.50,210.50 166.25,210.00 172.50,211.00 177.50,213.50 182.50,214.25 190.00,217.50 205.00,226.75 220.00,235.50 235.00,244.25 245.00,248.50 255.00,251.75 261.25,254.25 265.50,256.75 268.75,256.00 270.75,254.75" fill="none" stroke="#33cc33" stroke-width="1.3" stroke-linejoin="round" />
<text x="245.80" y="218.40" font-size="5.4" fill="#222" textLength="22.20" lengthAdjust="spacingAndGlyphs" >NES = 1.5</text>
<text x="245.80" y="224.90" font-size="5.4" fill="#222" textLength="21.00" lengthAdjust="spacingAndGlyphs" ><tspan font-style="italic">P</tspan> &lt; 0.001</text>
<text x="245.80" y="232.00" font-size="5.4" fill="#222" textLength="22.00" lengthAdjust="spacingAndGlyphs" >FDR = 0.1</text>
<rect x="159.20" y="259.60" width="112.00" height="18.20" fill="#fff" stroke="none" stroke-width="1" />
<line x1="159.60" y1="260.60" x2="159.60" y2="277.80" stroke="#000" stroke-width="0.75" stroke-opacity="1.0"/>
<line x1="160.80" y1="260.60" x2="160.80" y2="277.80" stroke="#000" stroke-width="0.75" stroke-opacity="0.9"/>
<line x1="161.90" y1="260.60" x2="161.90" y2="277.80" stroke="#000" stroke-width="0.75" stroke-opacity="0.9"/>
<line x1="163.10" y1="260.60" x2="163.10" y2="277.80" stroke="#000" stroke-width="0.75" stroke-opacity="0.9"/>
<line x1="164.60" y1="260.60" x2="164.60" y2="277.80" stroke="#000" stroke-width="0.75" stroke-opacity="0.8"/>
<line x1="165.40" y1="260.60" x2="165.40" y2="277.80" stroke="#000" stroke-width="0.75" stroke-opacity="0.8"/>
<line x1="167.90" y1="260.60" x2="167.90" y2="277.80" stroke="#000" stroke-width="0.75" stroke-opacity="0.5"/>
<line x1="169.70" y1="260.60" x2="169.70" y2="277.80" stroke="#000" stroke-width="0.75" stroke-opacity="0.5"/>
<line x1="172.10" y1="260.60" x2="172.10" y2="277.80" stroke="#000" stroke-width="0.75" stroke-opacity="0.45"/>
<line x1="173.90" y1="260.60" x2="173.90" y2="277.80" stroke="#000" stroke-width="0.75" stroke-opacity="0.5"/>
<line x1="177.50" y1="260.60" x2="177.50" y2="277.80" stroke="#000" stroke-width="0.75" stroke-opacity="0.5"/>
<line x1="179.20" y1="260.60" x2="179.20" y2="277.80" stroke="#000" stroke-width="0.75" stroke-opacity="0.5"/>
<line x1="181.00" y1="260.60" x2="181.00" y2="277.80" stroke="#000" stroke-width="0.75" stroke-opacity="0.45"/>
<line x1="182.80" y1="260.60" x2="182.80" y2="277.80" stroke="#000" stroke-width="0.75" stroke-opacity="0.5"/>
<line x1="184.60" y1="260.60" x2="184.60" y2="277.80" stroke="#000" stroke-width="0.75" stroke-opacity="0.5"/>
<line x1="186.40" y1="260.60" x2="186.40" y2="277.80" stroke="#000" stroke-width="0.75" stroke-opacity="0.6"/>
<line x1="187.60" y1="260.60" x2="187.60" y2="277.80" stroke="#000" stroke-width="0.75" stroke-opacity="0.45"/>
<line x1="201.30" y1="260.60" x2="201.30" y2="277.80" stroke="#000" stroke-width="0.75" stroke-opacity="0.4"/>
<line x1="237.00" y1="260.60" x2="237.00" y2="277.80" stroke="#000" stroke-width="0.75" stroke-opacity="0.45"/>
<line x1="238.20" y1="260.60" x2="238.20" y2="277.80" stroke="#000" stroke-width="0.75" stroke-opacity="0.45"/>
<line x1="242.40" y1="260.60" x2="242.40" y2="277.80" stroke="#000" stroke-width="0.75" stroke-opacity="0.5"/>
<line x1="244.60" y1="260.60" x2="244.60" y2="277.80" stroke="#000" stroke-width="0.75" stroke-opacity="0.5"/>
<line x1="247.20" y1="260.60" x2="247.20" y2="277.80" stroke="#000" stroke-width="0.75" stroke-opacity="0.45"/>
<line x1="253.40" y1="260.60" x2="253.40" y2="277.80" stroke="#000" stroke-width="0.75" stroke-opacity="0.45"/>
<line x1="256.10" y1="260.60" x2="256.10" y2="277.80" stroke="#000" stroke-width="0.75" stroke-opacity="0.35"/>
<line x1="262.70" y1="260.60" x2="262.70" y2="277.80" stroke="#000" stroke-width="0.75" stroke-opacity="0.5"/>
<line x1="268.00" y1="260.60" x2="268.00" y2="277.80" stroke="#000" stroke-width="0.75" stroke-opacity="0.5"/>
<line x1="269.80" y1="260.60" x2="269.80" y2="277.80" stroke="#000" stroke-width="0.75" stroke-opacity="0.4"/>
<rect x="159.20" y="277.80" width="112.00" height="4.10" fill="url(#cb1)" stroke="none" stroke-width="1" />
<text x="164.00" y="287.20" font-size="7.0" fill="#333" textLength="44.00" lengthAdjust="spacingAndGlyphs" ><tspan font-style="italic">Hras;p53</tspan> ATC</text>
<text x="162.00" y="295.80" font-size="7.0" fill="#333" textLength="49.20" lengthAdjust="spacingAndGlyphs" >(Vector) Vehicle</text>
<text x="230.40" y="288.30" font-size="7.0" fill="#333" textLength="43.40" lengthAdjust="spacingAndGlyphs" ><tspan font-style="italic">Hras;p53</tspan> ATC</text>
<text x="224.80" y="296.00" font-size="7.0" fill="#333" textLength="54.60" lengthAdjust="spacingAndGlyphs" >(Vector) Tipifarnib</text>
<defs><linearGradient id="cb2" x1="0" x2="1" y1="0" y2="0"><stop offset="0" stop-color="#dd3344"/><stop offset="0.36" stop-color="#e86070"/><stop offset="0.4" stop-color="#f0b8d0"/><stop offset="0.53" stop-color="#f0d0ec"/><stop offset="0.56" stop-color="#dcdaf8"/><stop offset="0.72" stop-color="#c8c6f4"/><stop offset="0.75" stop-color="#5a52e0"/><stop offset="0.92" stop-color="#3a32d8"/><stop offset="0.94" stop-color="#000088"/><stop offset="1" stop-color="#000070"/></linearGradient></defs>
<text x="20.20" y="314.40" font-size="10.0" fill="#222" textLength="98.30" lengthAdjust="spacingAndGlyphs" style="stroke-width:0.45px;stroke:#222;stroke-opacity:0.8">Differentiation Signature</text>
<text transform="translate(7.60,352.00) rotate(-90)" font-size="7.2" text-anchor="middle" fill="#333" textLength="59.2" lengthAdjust="spacingAndGlyphs">Enrichment score</text>
<rect x="16.20" y="320.60" width="117.10" height="52.00" fill="#fff" stroke="#cfcfcf" stroke-width="0.8" />
<line x1="16.20" y1="368.20" x2="133.30" y2="368.20" stroke="#b8b8b8" stroke-width="0.6" />
<text x="14.80" y="324.60" font-size="2.8" text-anchor="end" fill="#555" >0.6</text>
<text x="14.80" y="332.03" font-size="2.8" text-anchor="end" fill="#555" >0.5</text>
<text x="14.80" y="339.47" font-size="2.8" text-anchor="end" fill="#555" >0.4</text>
<text x="14.80" y="346.90" font-size="2.8" text-anchor="end" fill="#555" >0.3</text>
<text x="14.80" y="354.33" font-size="2.8" text-anchor="end" fill="#555" >0.2</text>
<text x="14.80" y="361.77" font-size="2.8" text-anchor="end" fill="#555" >0.1</text>
<text x="14.80" y="369.20" font-size="2.8" text-anchor="end" fill="#555" >0.0</text>
<polyline points="16.75,368.50 17.50,346.00 18.50,337.25 20.50,336.00 22.50,334.00 24.25,335.50 26.75,333.00 28.50,328.50 31.75,328.00 34.25,324.75 36.75,323.00 39.25,324.00 43.00,325.50 48.00,326.50 54.25,329.75 68.00,337.25 83.00,347.25 98.00,356.00 108.00,360.50 115.50,364.00 123.00,369.00 126.75,370.50 129.25,367.25" fill="none" stroke="#9af09a" stroke-width="2.4" stroke-linejoin="round" stroke-opacity="0.55"/>
<polyline points="16.75,368.50 17.50,346.00 18.50,337.25 20.50,336.00 22.50,334.00 24.25,335.50 26.75,333.00 28.50,328.50 31.75,328.00 34.25,324.75 36.75,323.00 39.25,324.00 43.00,325.50 48.00,326.50 54.25,329.75 68.00,337.25 83.00,347.25 98.00,356.00 108.00,360.50 115.50,364.00 123.00,369.00 126.75,370.50 129.25,367.25" fill="none" stroke="#33cc33" stroke-width="1.3" stroke-linejoin="round" />
<text x="106.90" y="328.90" font-size="5.4" fill="#222" textLength="21.80" lengthAdjust="spacingAndGlyphs" >NES = 1.4</text>
<text x="106.90" y="335.20" font-size="5.4" fill="#222" textLength="21.10" lengthAdjust="spacingAndGlyphs" ><tspan font-style="italic">P</tspan> &lt; 0.001</text>
<text x="106.90" y="341.60" font-size="5.4" fill="#222" textLength="25.30" lengthAdjust="spacingAndGlyphs" >FDR = 0.09</text>
<rect x="16.20" y="372.60" width="113.60" height="18.70" fill="#fff" stroke="none" stroke-width="1" />
<line x1="17.60" y1="373.60" x2="17.60" y2="391.30" stroke="#000" stroke-width="0.75" stroke-opacity="0.9"/>
<line x1="21.70" y1="373.60" x2="21.70" y2="391.30" stroke="#000" stroke-width="0.75" stroke-opacity="0.6"/>
<line x1="25.90" y1="373.60" x2="25.90" y2="391.30" stroke="#000" stroke-width="0.75" stroke-opacity="0.6"/>
<line x1="27.10" y1="373.60" x2="27.10" y2="391.30" stroke="#000" stroke-width="0.75" stroke-opacity="0.6"/>
<line x1="32.50" y1="373.60" x2="32.50" y2="391.30" stroke="#000" stroke-width="0.75" stroke-opacity="0.9"/>
<line x1="35.50" y1="373.60" x2="35.50" y2="391.30" stroke="#000" stroke-width="0.75" stroke-opacity="0.7"/>
<line x1="42.00" y1="373.60" x2="42.00" y2="391.30" stroke="#000" stroke-width="0.75" stroke-opacity="0.45"/>
<line x1="43.20" y1="373.60" x2="43.20" y2="391.30" stroke="#000" stroke-width="0.75" stroke-opacity="0.45"/>
<line x1="48.60" y1="373.60" x2="48.60" y2="391.30" stroke="#000" stroke-width="0.75" stroke-opacity="0.7"/>
<line x1="54.50" y1="373.60" x2="54.50" y2="391.30" stroke="#000" stroke-width="0.75" stroke-opacity="0.8"/>
<line x1="61.10" y1="373.60" x2="61.10" y2="391.30" stroke="#000" stroke-width="0.75" stroke-opacity="0.5"/>
<line x1="65.30" y1="373.60" x2="65.30" y2="391.30" stroke="#000" stroke-width="0.75" stroke-opacity="0.7"/>
<line x1="70.00" y1="373.60" x2="70.00" y2="391.30" stroke="#000" stroke-width="0.75" stroke-opacity="0.6"/>
<line x1="74.20" y1="373.60" x2="74.20" y2="391.30" stroke="#000" stroke-width="0.75" stroke-opacity="0.7"/>
<line x1="76.90" y1="373.60" x2="76.90" y2="391.30" stroke="#000" stroke-width="0.75" stroke-opacity="0.5"/>
<line x1="79.40" y1="373.60" x2="79.40" y2="391.30" stroke="#000" stroke-width="0.75" stroke-opacity="0.5"/>
<line x1="88.60" y1="373.60" x2="88.60" y2="391.30" stroke="#000" stroke-width="0.75" stroke-opacity="0.45"/>
<line x1="97.20" y1="373.60" x2="97.20" y2="391.30" stroke="#000" stroke-width="0.75" stroke-opacity="0.5"/>
<line x1="101.50" y1="373.60" x2="101.50" y2="391.30" stroke="#000" stroke-width="0.75" stroke-opacity="0.45"/>
<line x1="113.80" y1="373.60" x2="113.80" y2="391.30" stroke="#000" stroke-width="0.75" stroke-opacity="0.45"/>
<line x1="124.30" y1="373.60" x2="124.30" y2="391.30" stroke="#000" stroke-width="0.75" stroke-opacity="0.5"/>
<line x1="129.20" y1="373.60" x2="129.20" y2="391.30" stroke="#000" stroke-width="0.75" stroke-opacity="0.5"/>
<rect x="16.20" y="391.30" width="113.60" height="4.10" fill="url(#cb2)" stroke="none" stroke-width="1" />
<text x="18.30" y="402.60" font-size="7.0" fill="#333" textLength="49.00" lengthAdjust="spacingAndGlyphs" ><tspan font-style="italic">Hras;p53</tspan> PDTC</text>
<text x="17.50" y="411.00" font-size="7.0" fill="#333" textLength="54.50" lengthAdjust="spacingAndGlyphs" >(Vector) Tipifarnib</text>
<text x="85.50" y="402.60" font-size="7.0" fill="#333" textLength="48.40" lengthAdjust="spacingAndGlyphs" ><tspan font-style="italic">Hras;p53</tspan> PDTC</text>
<text x="84.50" y="411.00" font-size="7.0" fill="#333" textLength="51.20" lengthAdjust="spacingAndGlyphs" >(Vector) Vehicle</text>
<defs><linearGradient id="cb3" x1="0" x2="1" y1="0" y2="0"><stop offset="0" stop-color="#dd3344"/><stop offset="0.29" stop-color="#e85062"/><stop offset="0.3" stop-color="#f0b8d4"/><stop offset="0.72" stop-color="#f0c8e4"/><stop offset="0.74" stop-color="#dcd8f8"/><stop offset="0.9" stop-color="#c8c4f4"/><stop offset="0.91" stop-color="#5048e0"/><stop offset="1" stop-color="#3028c8"/></linearGradient></defs>
<text x="161.50" y="315.20" font-size="10.0" fill="#222" textLength="97.50" lengthAdjust="spacingAndGlyphs" style="stroke-width:0.45px;stroke:#222;stroke-opacity:0.8">Differentiation Signature</text>
<text transform="translate(145.10,354.10) rotate(-90)" font-size="7.2" text-anchor="middle" fill="#333" textLength="54.8" lengthAdjust="spacingAndGlyphs">Enrichment score</text>
<rect x="159.30" y="321.00" width="116.70" height="52.20" fill="#fff" stroke="#cfcfcf" stroke-width="0.8" />
<line x1="159.30" y1="369.80" x2="276.00" y2="369.80" stroke="#b8b8b8" stroke-width="0.6" />
<text x="157.90" y="325.50" font-size="2.8" text-anchor="end" fill="#555" >0.6</text>
<text x="157.90" y="333.05" font-size="2.8" text-anchor="end" fill="#555" >0.5</text>
<text x="157.90" y="340.60" font-size="2.8" text-anchor="end" fill="#555" >0.4</text>
<text x="157.90" y="348.15" font-size="2.8" text-anchor="end" fill="#555" >0.3</text>
<text x="157.90" y="355.70" font-size="2.8" text-anchor="end" fill="#555" >0.2</text>
<text x="157.90" y="363.25" font-size="2.8" text-anchor="end" fill="#555" >0.1</text>
<text x="157.90" y="370.80" font-size="2.8" text-anchor="end" fill="#555" >0.0</text>
<polyline points="159.50,369.75 160.00,361.00 161.25,348.50 163.75,349.75 166.25,351.00 167.50,344.75 170.00,337.25 172.50,332.25 175.00,331.50 178.75,333.00 181.25,328.50 183.75,327.25 186.25,325.50 188.75,322.25 191.25,323.00 212.50,334.75 230.00,345.50 242.50,353.50 250.00,358.00 255.00,359.00 260.00,362.25 271.25,369.75" fill="none" stroke="#9af09a" stroke-width="2.4" stroke-linejoin="round" stroke-opacity="0.55"/>
<polyline points="159.50,369.75 160.00,361.00 161.25,348.50 163.75,349.75 166.25,351.00 167.50,344.75 170.00,337.25 172.50,332.25 175.00,331.50 178.75,333.00 181.25,328.50 183.75,327.25 186.25,325.50 188.75,322.25 191.25,323.00 212.50,334.75 230.00,345.50 242.50,353.50 250.00,358.00 255.00,359.00 260.00,362.25 271.25,369.75" fill="none" stroke="#33cc33" stroke-width="1.3" stroke-linejoin="round" />
<text x="247.90" y="329.60" font-size="5.4" fill="#222" textLength="22.10" lengthAdjust="spacingAndGlyphs" >NES = 1.2</text>
<text x="247.90" y="335.20" font-size="5.4" fill="#222" textLength="15.60" lengthAdjust="spacingAndGlyphs" ><tspan font-style="italic">P</tspan> = 0.1</text>
<text x="247.90" y="342.20" font-size="5.4" fill="#222" textLength="26.00" lengthAdjust="spacingAndGlyphs" >FDR = 0.18</text>
<rect x="159.30" y="373.20" width="112.00" height="17.40" fill="#fff" stroke="none" stroke-width="1" />
<line x1="160.80" y1="374.20" x2="160.80" y2="390.60" stroke="#000" stroke-width="0.75" stroke-opacity="0.9"/>
<line x1="166.70" y1="374.20" x2="166.70" y2="390.60" stroke="#000" stroke-width="0.75" stroke-opacity="0.8"/>
<line x1="167.90" y1="374.20" x2="167.90" y2="390.60" stroke="#000" stroke-width="0.75" stroke-opacity="0.6"/>
<line x1="170.90" y1="374.20" x2="170.90" y2="390.60" stroke="#000" stroke-width="0.75" stroke-opacity="0.8"/>
<line x1="173.90" y1="374.20" x2="173.90" y2="390.60" stroke="#000" stroke-width="0.75" stroke-opacity="0.6"/>
<line x1="179.20" y1="374.20" x2="179.20" y2="390.60" stroke="#000" stroke-width="0.75" stroke-opacity="0.6"/>
<line x1="179.80" y1="374.20" x2="179.80" y2="390.60" stroke="#000" stroke-width="0.75" stroke-opacity="0.5"/>
<line x1="183.40" y1="374.20" x2="183.40" y2="390.60" stroke="#000" stroke-width="0.75" stroke-opacity="0.6"/>
<line x1="185.20" y1="374.20" x2="185.20" y2="390.60" stroke="#000" stroke-width="0.75" stroke-opacity="0.8"/>
<line x1="187.60" y1="374.20" x2="187.60" y2="390.60" stroke="#000" stroke-width="0.75" stroke-opacity="0.6"/>
<line x1="190.60" y1="374.20" x2="190.60" y2="390.60" stroke="#000" stroke-width="0.75" stroke-opacity="0.5"/>
<line x1="193.50" y1="374.20" x2="193.50" y2="390.60" stroke="#000" stroke-width="0.75" stroke-opacity="0.5"/>
<line x1="197.70" y1="374.20" x2="197.70" y2="390.60" stroke="#000" stroke-width="0.75" stroke-opacity="0.5"/>
<line x1="243.60" y1="374.20" x2="243.60" y2="390.60" stroke="#000" stroke-width="0.75" stroke-opacity="0.45"/>
<line x1="246.00" y1="374.20" x2="246.00" y2="390.60" stroke="#000" stroke-width="0.75" stroke-opacity="0.4"/>
<line x1="250.20" y1="374.20" x2="250.20" y2="390.60" stroke="#000" stroke-width="0.75" stroke-opacity="0.45"/>
<line x1="251.40" y1="374.20" x2="251.40" y2="390.60" stroke="#000" stroke-width="0.75" stroke-opacity="0.4"/>
<line x1="254.30" y1="374.20" x2="254.30" y2="390.60" stroke="#000" stroke-width="0.75" stroke-opacity="0.4"/>
<rect x="159.30" y="390.60" width="112.00" height="4.00" fill="url(#cb3)" stroke="none" stroke-width="1" />
<text x="159.50" y="401.10" font-size="7.0" fill="#333" textLength="47.50" lengthAdjust="spacingAndGlyphs" ><tspan font-style="italic">Hras;p53</tspan> PDTC</text>
<text x="156.60" y="409.80" font-size="7.0" fill="#333" textLength="62.00" lengthAdjust="spacingAndGlyphs" >(GNAS<tspan font-size="4.6" dy="-2.6">R201S</tspan><tspan dy="2.6">) Tipifarnib</tspan></text>
<text x="224.40" y="401.10" font-size="7.0" fill="#333" textLength="47.60" lengthAdjust="spacingAndGlyphs" ><tspan font-style="italic">Hras;p53</tspan> PDTC</text>
<text x="225.90" y="409.80" font-size="7.0" fill="#333" textLength="47.00" lengthAdjust="spacingAndGlyphs" >(Vector) Vehicle</text>
<text x="286.40" y="210.20" font-size="13.6" font-weight="bold" >D</text>
<text x="325.20" y="208.80" font-size="7.6" textLength="50.00" lengthAdjust="spacingAndGlyphs" ><tspan font-style="italic">Hras;p53</tspan> ATC</text>
<text x="401.70" y="207.90" font-size="7.6" textLength="54.80" lengthAdjust="spacingAndGlyphs" ><tspan font-style="italic">Hras;p53</tspan> PDTC</text>
<line x1="318.00" y1="214.60" x2="381.00" y2="214.60" stroke="#000" stroke-width="2.0" />
<line x1="401.20" y1="214.60" x2="464.60" y2="214.60" stroke="#000" stroke-width="2.0" />
<line x1="305.00" y1="268.50" x2="322.52" y2="268.50" stroke="#000" stroke-width="1.8" />
<line x1="325.32" y1="268.50" x2="342.85" y2="268.50" stroke="#000" stroke-width="1.8" />
<line x1="345.65" y1="268.50" x2="363.18" y2="268.50" stroke="#000" stroke-width="1.8" />
<line x1="365.98" y1="268.50" x2="383.50" y2="268.50" stroke="#000" stroke-width="1.8" />
<line x1="386.30" y1="268.50" x2="403.82" y2="268.50" stroke="#000" stroke-width="1.8" />
<line x1="406.62" y1="268.50" x2="424.15" y2="268.50" stroke="#000" stroke-width="1.8" />
<line x1="426.95" y1="268.50" x2="444.47" y2="268.50" stroke="#000" stroke-width="1.8" />
<line x1="447.27" y1="268.50" x2="464.80" y2="268.50" stroke="#000" stroke-width="1.8" />
<text transform="translate(314.16,265.0) rotate(-45)" font-size="7.4" textLength="36.5" lengthAdjust="spacingAndGlyphs">Vector+Veh</text>
<text transform="translate(334.49,265.0) rotate(-45)" font-size="7.4" textLength="35.5" lengthAdjust="spacingAndGlyphs">Vector+Tipi</text>
<text transform="translate(354.81,265.0) rotate(-45)" font-size="7.4" textLength="41.0" lengthAdjust="spacingAndGlyphs">Gnas<tspan font-size="4.6" dy="-2.6">R201S</tspan><tspan dy="2.6">+Veh</tspan></text>
<text transform="translate(375.14,265.0) rotate(-45)" font-size="7.4" textLength="41.0" lengthAdjust="spacingAndGlyphs">Gnas<tspan font-size="4.6" dy="-2.6">R201S</tspan><tspan dy="2.6">+Tipi</tspan></text>
<text transform="translate(395.46,265.0) rotate(-45)" font-size="7.4" textLength="36.5" lengthAdjust="spacingAndGlyphs">Vector+Veh</text>
<text transform="translate(415.79,265.0) rotate(-45)" font-size="7.4" textLength="35.5" lengthAdjust="spacingAndGlyphs">Vector+Tipi</text>
<text transform="translate(436.11,265.0) rotate(-45)" font-size="7.4" textLength="41.0" lengthAdjust="spacingAndGlyphs">Gnas<tspan font-size="4.6" dy="-2.6">R201S</tspan><tspan dy="2.6">+Veh</tspan></text>
<text transform="translate(456.44,265.0) rotate(-45)" font-size="7.4" textLength="41.0" lengthAdjust="spacingAndGlyphs">Gnas<tspan font-size="4.6" dy="-2.6">R201S</tspan><tspan dy="2.6">+Tipi</tspan></text>
<rect x="304.00" y="271.70" width="6.83" height="6.87" fill="#3c00c4" stroke="none" stroke-width="1" />
<rect x="310.77" y="271.70" width="6.83" height="6.87" fill="#3c00c4" stroke="none" stroke-width="1" />
<rect x="317.55" y="271.70" width="6.83" height="6.87" fill="#3c00c4" stroke="none" stroke-width="1" />
<rect x="324.32" y="271.70" width="6.83" height="6.87" fill="#3c00c4" stroke="none" stroke-width="1" />
<rect x="331.10" y="271.70" width="6.83" height="6.87" fill="#2c14ee" stroke="none" stroke-width="1" />
<rect x="337.88" y="271.70" width="6.83" height="6.87" fill="#f4e8f0" stroke="none" stroke-width="1" />
<rect x="344.65" y="271.70" width="6.83" height="6.87" fill="#3c00c4" stroke="none" stroke-width="1" />
<rect x="351.43" y="271.70" width="6.83" height="6.87" fill="#3c00c4" stroke="none" stroke-width="1" />
<rect x="358.20" y="271.70" width="6.83" height="6.87" fill="#2c14ee" stroke="none" stroke-width="1" />
<rect x="364.98" y="271.70" width="6.83" height="6.87" fill="#3c00c4" stroke="none" stroke-width="1" />
<rect x="371.75" y="271.70" width="6.83" height="6.87" fill="#3c00c4" stroke="none" stroke-width="1" />
<rect x="378.52" y="271.70" width="6.83" height="6.87" fill="#3c00c4" stroke="none" stroke-width="1" />
<rect x="385.30" y="271.70" width="6.83" height="6.87" fill="#f4e8f0" stroke="none" stroke-width="1" />
<rect x="392.07" y="271.70" width="6.83" height="6.87" fill="#f06262" stroke="none" stroke-width="1" />
<rect x="398.85" y="271.70" width="6.83" height="6.87" fill="#8682f4" stroke="none" stroke-width="1" />
<rect x="405.62" y="271.70" width="6.83" height="6.87" fill="#f06262" stroke="none" stroke-width="1" />
<rect x="412.40" y="271.70" width="6.83" height="6.87" fill="#f4e8f0" stroke="none" stroke-width="1" />
<rect x="419.18" y="271.70" width="6.83" height="6.87" fill="#c4c2f8" stroke="none" stroke-width="1" />
<rect x="425.95" y="271.70" width="6.83" height="6.87" fill="#f06262" stroke="none" stroke-width="1" />
<rect x="432.73" y="271.70" width="6.83" height="6.87" fill="#f5a6aa" stroke="none" stroke-width="1" />
<rect x="439.50" y="271.70" width="6.83" height="6.87" fill="#e00018" stroke="none" stroke-width="1" />
<rect x="446.27" y="271.70" width="6.83" height="6.87" fill="#e00018" stroke="none" stroke-width="1" />
<rect x="453.05" y="271.70" width="6.83" height="6.87" fill="#f06262" stroke="none" stroke-width="1" />
<rect x="459.83" y="271.70" width="6.83" height="6.87" fill="#e00018" stroke="none" stroke-width="1" />
<rect x="304.00" y="278.52" width="6.83" height="6.87" fill="#3c00c4" stroke="none" stroke-width="1" />
<rect x="310.77" y="278.52" width="6.83" height="6.87" fill="#3c00c4" stroke="none" stroke-width="1" />
<rect x="317.55" y="278.52" width="6.83" height="6.87" fill="#3c00c4" stroke="none" stroke-width="1" />
<rect x="324.32" y="278.52" width="6.83" height="6.87" fill="#3c00c4" stroke="none" stroke-width="1" />
<rect x="331.10" y="278.52" width="6.83" height="6.87" fill="#2c14ee" stroke="none" stroke-width="1" />
<rect x="337.88" y="278.52" width="6.83" height="6.87" fill="#3c00c4" stroke="none" stroke-width="1" />
<rect x="344.65" y="278.52" width="6.83" height="6.87" fill="#3c00c4" stroke="none" stroke-width="1" />
<rect x="351.43" y="278.52" width="6.83" height="6.87" fill="#3c00c4" stroke="none" stroke-width="1" />
<rect x="358.20" y="278.52" width="6.83" height="6.87" fill="#3c00c4" stroke="none" stroke-width="1" />
<rect x="364.98" y="278.52" width="6.83" height="6.87" fill="#3c00c4" stroke="none" stroke-width="1" />
<rect x="371.75" y="278.52" width="6.83" height="6.87" fill="#3c00c4" stroke="none" stroke-width="1" />
<rect x="378.52" y="278.52" width="6.83" height="6.87" fill="#3c00c4" stroke="none" stroke-width="1" />
<rect x="385.30" y="278.52" width="6.83" height="6.87" fill="#8682f4" stroke="none" stroke-width="1" />
<rect x="392.07" y="278.52" width="6.83" height="6.87" fill="#3c00c4" stroke="none" stroke-width="1" />
<rect x="398.85" y="278.52" width="6.83" height="6.87" fill="#3c00c4" stroke="none" stroke-width="1" />
<rect x="405.62" y="278.52" width="6.83" height="6.87" fill="#f4e8f0" stroke="none" stroke-width="1" />
<rect x="412.40" y="278.52" width="6.83" height="6.87" fill="#8682f4" stroke="none" stroke-width="1" />
<rect x="419.18" y="278.52" width="6.83" height="6.87" fill="#8682f4" stroke="none" stroke-width="1" />
<rect x="425.95" y="278.52" width="6.83" height="6.87" fill="#f4e8f0" stroke="none" stroke-width="1" />
<rect x="432.73" y="278.52" width="6.83" height="6.87" fill="#f06262" stroke="none" stroke-width="1" />
<rect x="439.50" y="278.52" width="6.83" height="6.87" fill="#f06262" stroke="none" stroke-width="1" />
<rect x="446.27" y="278.52" width="6.83" height="6.87" fill="#f5a6aa" stroke="none" stroke-width="1" />
<rect x="453.05" y="278.52" width="6.83" height="6.87" fill="#e00018" stroke="none" stroke-width="1" />
<rect x="459.83" y="278.52" width="6.83" height="6.87" fill="#f06262" stroke="none" stroke-width="1" />
<rect x="304.00" y="285.35" width="6.83" height="6.87" fill="#3c00c4" stroke="none" stroke-width="1" />
<rect x="310.77" y="285.35" width="6.83" height="6.87" fill="#f4e8f0" stroke="none" stroke-width="1" />
<rect x="317.55" y="285.35" width="6.83" height="6.87" fill="#3c00c4" stroke="none" stroke-width="1" />
<rect x="324.32" y="285.35" width="6.83" height="6.87" fill="#3c00c4" stroke="none" stroke-width="1" />
<rect x="331.10" y="285.35" width="6.83" height="6.87" fill="#3c00c4" stroke="none" stroke-width="1" />
<rect x="337.88" y="285.35" width="6.83" height="6.87" fill="#3c00c4" stroke="none" stroke-width="1" />
<rect x="344.65" y="285.35" width="6.83" height="6.87" fill="#3c00c4" stroke="none" stroke-width="1" />
<rect x="351.43" y="285.35" width="6.83" height="6.87" fill="#3c00c4" stroke="none" stroke-width="1" />
<rect x="358.20" y="285.35" width="6.83" height="6.87" fill="#3c00c4" stroke="none" stroke-width="1" />
<rect x="364.98" y="285.35" width="6.83" height="6.87" fill="#8682f4" stroke="none" stroke-width="1" />
<rect x="371.75" y="285.35" width="6.83" height="6.87" fill="#3c00c4" stroke="none" stroke-width="1" />
<rect x="378.52" y="285.35" width="6.83" height="6.87" fill="#2c14ee" stroke="none" stroke-width="1" />
<rect x="385.30" y="285.35" width="6.83" height="6.87" fill="#3c00c4" stroke="none" stroke-width="1" />
<rect x="392.07" y="285.35" width="6.83" height="6.87" fill="#8682f4" stroke="none" stroke-width="1" />
<rect x="398.85" y="285.35" width="6.83" height="6.87" fill="#3c00c4" stroke="none" stroke-width="1" />
<rect x="405.62" y="285.35" width="6.83" height="6.87" fill="#8682f4" stroke="none" stroke-width="1" />
<rect x="412.40" y="285.35" width="6.83" height="6.87" fill="#f4e8f0" stroke="none" stroke-width="1" />
<rect x="419.18" y="285.35" width="6.83" height="6.87" fill="#8682f4" stroke="none" stroke-width="1" />
<rect x="425.95" y="285.35" width="6.83" height="6.87" fill="#f06262" stroke="none" stroke-width="1" />
<rect x="432.73" y="285.35" width="6.83" height="6.87" fill="#f06262" stroke="none" stroke-width="1" />
<rect x="439.50" y="285.35" width="6.83" height="6.87" fill="#f06262" stroke="none" stroke-width="1" />
<rect x="446.27" y="285.35" width="6.83" height="6.87" fill="#f06262" stroke="none" stroke-width="1" />
<rect x="453.05" y="285.35" width="6.83" height="6.87" fill="#e00018" stroke="none" stroke-width="1" />
<rect x="459.83" y="285.35" width="6.83" height="6.87" fill="#f06262" stroke="none" stroke-width="1" />
<rect x="304.00" y="292.17" width="6.83" height="6.87" fill="#2c14ee" stroke="none" stroke-width="1" />
<rect x="310.77" y="292.17" width="6.83" height="6.87" fill="#2c14ee" stroke="none" stroke-width="1" />
<rect x="317.55" y="292.17" width="6.83" height="6.87" fill="#8682f4" stroke="none" stroke-width="1" />
<rect x="324.32" y="292.17" width="6.83" height="6.87" fill="#8682f4" stroke="none" stroke-width="1" />
<rect x="331.10" y="292.17" width="6.83" height="6.87" fill="#8682f4" stroke="none" stroke-width="1" />
<rect x="337.88" y="292.17" width="6.83" height="6.87" fill="#8682f4" stroke="none" stroke-width="1" />
<rect x="344.65" y="292.17" width="6.83" height="6.87" fill="#8682f4" stroke="none" stroke-width="1" />
<rect x="351.43" y="292.17" width="6.83" height="6.87" fill="#2c14ee" stroke="none" stroke-width="1" />
<rect x="358.20" y="292.17" width="6.83" height="6.87" fill="#2c14ee" stroke="none" stroke-width="1" />
<rect x="364.98" y="292.17" width="6.83" height="6.87" fill="#c4c2f8" stroke="none" stroke-width="1" />
<rect x="371.75" y="292.17" width="6.83" height="6.87" fill="#2c14ee" stroke="none" stroke-width="1" />
<rect x="378.52" y="292.17" width="6.83" height="6.87" fill="#f4e8f0" stroke="none" stroke-width="1" />
<rect x="385.30" y="292.17" width="6.83" height="6.87" fill="#8682f4" stroke="none" stroke-width="1" />
<rect x="392.07" y="292.17" width="6.83" height="6.87" fill="#f4e8f0" stroke="none" stroke-width="1" />
<rect x="398.85" y="292.17" width="6.83" height="6.87" fill="#2c14ee" stroke="none" stroke-width="1" />
<rect x="405.62" y="292.17" width="6.83" height="6.87" fill="#8682f4" stroke="none" stroke-width="1" />
<rect x="412.40" y="292.17" width="6.83" height="6.87" fill="#f4e8f0" stroke="none" stroke-width="1" />
<rect x="419.18" y="292.17" width="6.83" height="6.87" fill="#8682f4" stroke="none" stroke-width="1" />
<rect x="425.95" y="292.17" width="6.83" height="6.87" fill="#f4e8f0" stroke="none" stroke-width="1" />
<rect x="432.73" y="292.17" width="6.83" height="6.87" fill="#f5a6aa" stroke="none" stroke-width="1" />
<rect x="439.50" y="292.17" width="6.83" height="6.87" fill="#f06262" stroke="none" stroke-width="1" />
<rect x="446.27" y="292.17" width="6.83" height="6.87" fill="#f4e8f0" stroke="none" stroke-width="1" />
<rect x="453.05" y="292.17" width="6.83" height="6.87" fill="#e00018" stroke="none" stroke-width="1" />
<rect x="459.83" y="292.17" width="6.83" height="6.87" fill="#f06262" stroke="none" stroke-width="1" />
<rect x="304.00" y="299.00" width="6.83" height="6.87" fill="#3c00c4" stroke="none" stroke-width="1" />
<rect x="310.77" y="299.00" width="6.83" height="6.87" fill="#3c00c4" stroke="none" stroke-width="1" />
<rect x="317.55" y="299.00" width="6.83" height="6.87" fill="#3c00c4" stroke="none" stroke-width="1" />
<rect x="324.32" y="299.00" width="6.83" height="6.87" fill="#3c00c4" stroke="none" stroke-width="1" />
<rect x="331.10" y="299.00" width="6.83" height="6.87" fill="#3c00c4" stroke="none" stroke-width="1" />
<rect x="337.88" y="299.00" width="6.83" height="6.87" fill="#2c14ee" stroke="none" stroke-width="1" />
<rect x="344.65" y="299.00" width="6.83" height="6.87" fill="#3c00c4" stroke="none" stroke-width="1" />
<rect x="351.43" y="299.00" width="6.83" height="6.87" fill="#3c00c4" stroke="none" stroke-width="1" />
<rect x="358.20" y="299.00" width="6.83" height="6.87" fill="#3c00c4" stroke="none" stroke-width="1" />
<rect x="364.98" y="299.00" width="6.83" height="6.87" fill="#3c00c4" stroke="none" stroke-width="1" />
<rect x="371.75" y="299.00" width="6.83" height="6.87" fill="#3c00c4" stroke="none" stroke-width="1" />
<rect x="378.52" y="299.00" width="6.83" height="6.87" fill="#2c14ee" stroke="none" stroke-width="1" />
<rect x="385.30" y="299.00" width="6.83" height="6.87" fill="#3c00c4" stroke="none" stroke-width="1" />
<rect x="392.07" y="299.00" width="6.83" height="6.87" fill="#3c00c4" stroke="none" stroke-width="1" />
<rect x="398.85" y="299.00" width="6.83" height="6.87" fill="#3c00c4" stroke="none" stroke-width="1" />
<rect x="405.62" y="299.00" width="6.83" height="6.87" fill="#3c00c4" stroke="none" stroke-width="1" />
<rect x="412.40" y="299.00" width="6.83" height="6.87" fill="#3c00c4" stroke="none" stroke-width="1" />
<rect x="419.18" y="299.00" width="6.83" height="6.87" fill="#3c00c4" stroke="none" stroke-width="1" />
<rect x="425.95" y="299.00" width="6.83" height="6.87" fill="#2c14ee" stroke="none" stroke-width="1" />
<rect x="432.73" y="299.00" width="6.83" height="6.87" fill="#f4e8f0" stroke="none" stroke-width="1" />
<rect x="439.50" y="299.00" width="6.83" height="6.87" fill="#f06262" stroke="none" stroke-width="1" />
<rect x="446.27" y="299.00" width="6.83" height="6.87" fill="#f5a6aa" stroke="none" stroke-width="1" />
<rect x="453.05" y="299.00" width="6.83" height="6.87" fill="#e00018" stroke="none" stroke-width="1" />
<rect x="459.83" y="299.00" width="6.83" height="6.87" fill="#f5a6aa" stroke="none" stroke-width="1" />
<rect x="304.00" y="305.82" width="6.83" height="6.87" fill="#3c00c4" stroke="none" stroke-width="1" />
<rect x="310.77" y="305.82" width="6.83" height="6.87" fill="#3c00c4" stroke="none" stroke-width="1" />
<rect x="317.55" y="305.82" width="6.83" height="6.87" fill="#3c00c4" stroke="none" stroke-width="1" />
<rect x="324.32" y="305.82" width="6.83" height="6.87" fill="#3c00c4" stroke="none" stroke-width="1" />
<rect x="331.10" y="305.82" width="6.83" height="6.87" fill="#3c00c4" stroke="none" stroke-width="1" />
<rect x="337.88" y="305.82" width="6.83" height="6.87" fill="#3c00c4" stroke="none" stroke-width="1" />
<rect x="344.65" y="305.82" width="6.83" height="6.87" fill="#3c00c4" stroke="none" stroke-width="1" />
<rect x="351.43" y="305.82" width="6.83" height="6.87" fill="#3c00c4" stroke="none" stroke-width="1" />
<rect x="358.20" y="305.82" width="6.83" height="6.87" fill="#3c00c4" stroke="none" stroke-width="1" />
<rect x="364.98" y="305.82" width="6.83" height="6.87" fill="#3c00c4" stroke="none" stroke-width="1" />
<rect x="371.75" y="305.82" width="6.83" height="6.87" fill="#3c00c4" stroke="none" stroke-width="1" />
<rect x="378.52" y="305.82" width="6.83" height="6.87" fill="#3c00c4" stroke="none" stroke-width="1" />
<rect x="385.30" y="305.82" width="6.83" height="6.87" fill="#3c00c4" stroke="none" stroke-width="1" />
<rect x="392.07" y="305.82" width="6.83" height="6.87" fill="#3c00c4" stroke="none" stroke-width="1" />
<rect x="398.85" y="305.82" width="6.83" height="6.87" fill="#3c00c4" stroke="none" stroke-width="1" />
<rect x="405.62" y="305.82" width="6.83" height="6.87" fill="#3c00c4" stroke="none" stroke-width="1" />
<rect x="412.40" y="305.82" width="6.83" height="6.87" fill="#3c00c4" stroke="none" stroke-width="1" />
<rect x="419.18" y="305.82" width="6.83" height="6.87" fill="#2c14ee" stroke="none" stroke-width="1" />
<rect x="425.95" y="305.82" width="6.83" height="6.87" fill="#3c00c4" stroke="none" stroke-width="1" />
<rect x="432.73" y="305.82" width="6.83" height="6.87" fill="#2c14ee" stroke="none" stroke-width="1" />
<rect x="439.50" y="305.82" width="6.83" height="6.87" fill="#8682f4" stroke="none" stroke-width="1" />
<rect x="446.27" y="305.82" width="6.83" height="6.87" fill="#f4e8f0" stroke="none" stroke-width="1" />
<rect x="453.05" y="305.82" width="6.83" height="6.87" fill="#e00018" stroke="none" stroke-width="1" />
<rect x="459.83" y="305.82" width="6.83" height="6.87" fill="#f4e8f0" stroke="none" stroke-width="1" />
<rect x="304.00" y="312.64" width="6.83" height="6.87" fill="#3c00c4" stroke="none" stroke-width="1" />
<rect x="310.77" y="312.64" width="6.83" height="6.87" fill="#3c00c4" stroke="none" stroke-width="1" />
<rect x="317.55" y="312.64" width="6.83" height="6.87" fill="#3c00c4" stroke="none" stroke-width="1" />
<rect x="324.32" y="312.64" width="6.83" height="6.87" fill="#f4e8f0" stroke="none" stroke-width="1" />
<rect x="331.10" y="312.64" width="6.83" height="6.87" fill="#3c00c4" stroke="none" stroke-width="1" />
<rect x="337.88" y="312.64" width="6.83" height="6.87" fill="#3c00c4" stroke="none" stroke-width="1" />
<rect x="344.65" y="312.64" width="6.83" height="6.87" fill="#3c00c4" stroke="none" stroke-width="1" />
<rect x="351.43" y="312.64" width="6.83" height="6.87" fill="#3c00c4" stroke="none" stroke-width="1" />
<rect x="358.20" y="312.64" width="6.83" height="6.87" fill="#3c00c4" stroke="none" stroke-width="1" />
<rect x="364.98" y="312.64" width="6.83" height="6.87" fill="#3c00c4" stroke="none" stroke-width="1" />
<rect x="371.75" y="312.64" width="6.83" height="6.87" fill="#3c00c4" stroke="none" stroke-width="1" />
<rect x="378.52" y="312.64" width="6.83" height="6.87" fill="#3c00c4" stroke="none" stroke-width="1" />
<rect x="385.30" y="312.64" width="6.83" height="6.87" fill="#f4e8f0" stroke="none" stroke-width="1" />
<rect x="392.07" y="312.64" width="6.83" height="6.87" fill="#3c00c4" stroke="none" stroke-width="1" />
<rect x="398.85" y="312.64" width="6.83" height="6.87" fill="#f5a6aa" stroke="none" stroke-width="1" />
<rect x="405.62" y="312.64" width="6.83" height="6.87" fill="#f06262" stroke="none" stroke-width="1" />
<rect x="412.40" y="312.64" width="6.83" height="6.87" fill="#f06262" stroke="none" stroke-width="1" />
<rect x="419.18" y="312.64" width="6.83" height="6.87" fill="#f5a6aa" stroke="none" stroke-width="1" />
<rect x="425.95" y="312.64" width="6.83" height="6.87" fill="#f06262" stroke="none" stroke-width="1" />
<rect x="432.73" y="312.64" width="6.83" height="6.87" fill="#f06262" stroke="none" stroke-width="1" />
<rect x="439.50" y="312.64" width="6.83" height="6.87" fill="#f4e8f0" stroke="none" stroke-width="1" />
<rect x="446.27" y="312.64" width="6.83" height="6.87" fill="#e00018" stroke="none" stroke-width="1" />
<rect x="453.05" y="312.64" width="6.83" height="6.87" fill="#f4e8f0" stroke="none" stroke-width="1" />
<rect x="459.83" y="312.64" width="6.83" height="6.87" fill="#f06262" stroke="none" stroke-width="1" />
<rect x="304.00" y="319.47" width="6.83" height="6.87" fill="#3c00c4" stroke="none" stroke-width="1" />
<rect x="310.77" y="319.47" width="6.83" height="6.87" fill="#3c00c4" stroke="none" stroke-width="1" />
<rect x="317.55" y="319.47" width="6.83" height="6.87" fill="#3c00c4" stroke="none" stroke-width="1" />
<rect x="324.32" y="319.47" width="6.83" height="6.87" fill="#3c00c4" stroke="none" stroke-width="1" />
<rect x="331.10" y="319.47" width="6.83" height="6.87" fill="#3c00c4" stroke="none" stroke-width="1" />
<rect x="337.88" y="319.47" width="6.83" height="6.87" fill="#3c00c4" stroke="none" stroke-width="1" />
<rect x="344.65" y="319.47" width="6.83" height="6.87" fill="#3c00c4" stroke="none" stroke-width="1" />
<rect x="351.43" y="319.47" width="6.83" height="6.87" fill="#3c00c4" stroke="none" stroke-width="1" />
<rect x="358.20" y="319.47" width="6.83" height="6.87" fill="#3c00c4" stroke="none" stroke-width="1" />
<rect x="364.98" y="319.47" width="6.83" height="6.87" fill="#3c00c4" stroke="none" stroke-width="1" />
<rect x="371.75" y="319.47" width="6.83" height="6.87" fill="#3c00c4" stroke="none" stroke-width="1" />
<rect x="378.52" y="319.47" width="6.83" height="6.87" fill="#3c00c4" stroke="none" stroke-width="1" />
<rect x="385.30" y="319.47" width="6.83" height="6.87" fill="#8682f4" stroke="none" stroke-width="1" />
<rect x="392.07" y="319.47" width="6.83" height="6.87" fill="#f06262" stroke="none" stroke-width="1" />
<rect x="398.85" y="319.47" width="6.83" height="6.87" fill="#8682f4" stroke="none" stroke-width="1" />
<rect x="405.62" y="319.47" width="6.83" height="6.87" fill="#f4e8f0" stroke="none" stroke-width="1" />
<rect x="412.40" y="319.47" width="6.83" height="6.87" fill="#f4e8f0" stroke="none" stroke-width="1" />
<rect x="419.18" y="319.47" width="6.83" height="6.87" fill="#8682f4" stroke="none" stroke-width="1" />
<rect x="425.95" y="319.47" width="6.83" height="6.87" fill="#8682f4" stroke="none" stroke-width="1" />
<rect x="432.73" y="319.47" width="6.83" height="6.87" fill="#8682f4" stroke="none" stroke-width="1" />
<rect x="439.50" y="319.47" width="6.83" height="6.87" fill="#f06262" stroke="none" stroke-width="1" />
<rect x="446.27" y="319.47" width="6.83" height="6.87" fill="#3c00c4" stroke="none" stroke-width="1" />
<rect x="453.05" y="319.47" width="6.83" height="6.87" fill="#e00018" stroke="none" stroke-width="1" />
<rect x="459.83" y="319.47" width="6.83" height="6.87" fill="#f06262" stroke="none" stroke-width="1" />
<rect x="304.00" y="326.29" width="6.83" height="6.87" fill="#3c00c4" stroke="none" stroke-width="1" />
<rect x="310.77" y="326.29" width="6.83" height="6.87" fill="#3c00c4" stroke="none" stroke-width="1" />
<rect x="317.55" y="326.29" width="6.83" height="6.87" fill="#3c00c4" stroke="none" stroke-width="1" />
<rect x="324.32" y="326.29" width="6.83" height="6.87" fill="#3c00c4" stroke="none" stroke-width="1" />
<rect x="331.10" y="326.29" width="6.83" height="6.87" fill="#3c00c4" stroke="none" stroke-width="1" />
<rect x="337.88" y="326.29" width="6.83" height="6.87" fill="#8682f4" stroke="none" stroke-width="1" />
<rect x="344.65" y="326.29" width="6.83" height="6.87" fill="#3c00c4" stroke="none" stroke-width="1" />
<rect x="351.43" y="326.29" width="6.83" height="6.87" fill="#3c00c4" stroke="none" stroke-width="1" />
<rect x="358.20" y="326.29" width="6.83" height="6.87" fill="#3c00c4" stroke="none" stroke-width="1" />
<rect x="364.98" y="326.29" width="6.83" height="6.87" fill="#8682f4" stroke="none" stroke-width="1" />
<rect x="371.75" y="326.29" width="6.83" height="6.87" fill="#3c00c4" stroke="none" stroke-width="1" />
<rect x="378.52" y="326.29" width="6.83" height="6.87" fill="#3c00c4" stroke="none" stroke-width="1" />
<rect x="385.30" y="326.29" width="6.83" height="6.87" fill="#f06262" stroke="none" stroke-width="1" />
<rect x="392.07" y="326.29" width="6.83" height="6.87" fill="#f4e8f0" stroke="none" stroke-width="1" />
<rect x="398.85" y="326.29" width="6.83" height="6.87" fill="#e00018" stroke="none" stroke-width="1" />
<rect x="405.62" y="326.29" width="6.83" height="6.87" fill="#f5a6aa" stroke="none" stroke-width="1" />
<rect x="412.40" y="326.29" width="6.83" height="6.87" fill="#f4e8f0" stroke="none" stroke-width="1" />
<rect x="419.18" y="326.29" width="6.83" height="6.87" fill="#f5a6aa" stroke="none" stroke-width="1" />
<rect x="425.95" y="326.29" width="6.83" height="6.87" fill="#c4c2f8" stroke="none" stroke-width="1" />
<rect x="432.73" y="326.29" width="6.83" height="6.87" fill="#f5a6aa" stroke="none" stroke-width="1" />
<rect x="439.50" y="326.29" width="6.83" height="6.87" fill="#f06262" stroke="none" stroke-width="1" />
<rect x="446.27" y="326.29" width="6.83" height="6.87" fill="#f5a6aa" stroke="none" stroke-width="1" />
<rect x="453.05" y="326.29" width="6.83" height="6.87" fill="#f06262" stroke="none" stroke-width="1" />
<rect x="459.83" y="326.29" width="6.83" height="6.87" fill="#f4e8f0" stroke="none" stroke-width="1" />
<rect x="304.00" y="333.12" width="6.83" height="6.87" fill="#2c14ee" stroke="none" stroke-width="1" />
<rect x="310.77" y="333.12" width="6.83" height="6.87" fill="#3c00c4" stroke="none" stroke-width="1" />
<rect x="317.55" y="333.12" width="6.83" height="6.87" fill="#3c00c4" stroke="none" stroke-width="1" />
<rect x="324.32" y="333.12" width="6.83" height="6.87" fill="#8682f4" stroke="none" stroke-width="1" />
<rect x="331.10" y="333.12" width="6.83" height="6.87" fill="#8682f4" stroke="none" stroke-width="1" />
<rect x="337.88" y="333.12" width="6.83" height="6.87" fill="#3c00c4" stroke="none" stroke-width="1" />
<rect x="344.65" y="333.12" width="6.83" height="6.87" fill="#3c00c4" stroke="none" stroke-width="1" />
<rect x="351.43" y="333.12" width="6.83" height="6.87" fill="#3c00c4" stroke="none" stroke-width="1" />
<rect x="358.20" y="333.12" width="6.83" height="6.87" fill="#3c00c4" stroke="none" stroke-width="1" />
<rect x="364.98" y="333.12" width="6.83" height="6.87" fill="#8682f4" stroke="none" stroke-width="1" />
<rect x="371.75" y="333.12" width="6.83" height="6.87" fill="#8682f4" stroke="none" stroke-width="1" />
<rect x="378.52" y="333.12" width="6.83" height="6.87" fill="#3c00c4" stroke="none" stroke-width="1" />
<rect x="385.30" y="333.12" width="6.83" height="6.87" fill="#f5a6aa" stroke="none" stroke-width="1" />
<rect x="392.07" y="333.12" width="6.83" height="6.87" fill="#3c00c4" stroke="none" stroke-width="1" />
<rect x="398.85" y="333.12" width="6.83" height="6.87" fill="#f4e8f0" stroke="none" stroke-width="1" />
<rect x="405.62" y="333.12" width="6.83" height="6.87" fill="#f4e8f0" stroke="none" stroke-width="1" />
<rect x="412.40" y="333.12" width="6.83" height="6.87" fill="#f4e8f0" stroke="none" stroke-width="1" />
<rect x="419.18" y="333.12" width="6.83" height="6.87" fill="#e00018" stroke="none" stroke-width="1" />
<rect x="425.95" y="333.12" width="6.83" height="6.87" fill="#f06262" stroke="none" stroke-width="1" />
<rect x="432.73" y="333.12" width="6.83" height="6.87" fill="#f4e8f0" stroke="none" stroke-width="1" />
<rect x="439.50" y="333.12" width="6.83" height="6.87" fill="#3c00c4" stroke="none" stroke-width="1" />
<rect x="446.27" y="333.12" width="6.83" height="6.87" fill="#8682f4" stroke="none" stroke-width="1" />
<rect x="453.05" y="333.12" width="6.83" height="6.87" fill="#f4e8f0" stroke="none" stroke-width="1" />
<rect x="459.83" y="333.12" width="6.83" height="6.87" fill="#e00018" stroke="none" stroke-width="1" />
<rect x="304.00" y="339.94" width="6.83" height="6.87" fill="#f06262" stroke="none" stroke-width="1" />
<rect x="310.77" y="339.94" width="6.83" height="6.87" fill="#3c00c4" stroke="none" stroke-width="1" />
<rect x="317.55" y="339.94" width="6.83" height="6.87" fill="#f4e8f0" stroke="none" stroke-width="1" />
<rect x="324.32" y="339.94" width="6.83" height="6.87" fill="#3c00c4" stroke="none" stroke-width="1" />
<rect x="331.10" y="339.94" width="6.83" height="6.87" fill="#f4e8f0" stroke="none" stroke-width="1" />
<rect x="337.88" y="339.94" width="6.83" height="6.87" fill="#e00018" stroke="none" stroke-width="1" />
<rect x="344.65" y="339.94" width="6.83" height="6.87" fill="#3c00c4" stroke="none" stroke-width="1" />
<rect x="351.43" y="339.94" width="6.83" height="6.87" fill="#3c00c4" stroke="none" stroke-width="1" />
<rect x="358.20" y="339.94" width="6.83" height="6.87" fill="#3c00c4" stroke="none" stroke-width="1" />
<rect x="364.98" y="339.94" width="6.83" height="6.87" fill="#3c00c4" stroke="none" stroke-width="1" />
<rect x="371.75" y="339.94" width="6.83" height="6.87" fill="#3c00c4" stroke="none" stroke-width="1" />
<rect x="378.52" y="339.94" width="6.83" height="6.87" fill="#3c00c4" stroke="none" stroke-width="1" />
<rect x="385.30" y="339.94" width="6.83" height="6.87" fill="#3c00c4" stroke="none" stroke-width="1" />
<rect x="392.07" y="339.94" width="6.83" height="6.87" fill="#e00018" stroke="none" stroke-width="1" />
<rect x="398.85" y="339.94" width="6.83" height="6.87" fill="#f4e8f0" stroke="none" stroke-width="1" />
<rect x="405.62" y="339.94" width="6.83" height="6.87" fill="#3c00c4" stroke="none" stroke-width="1" />
<rect x="412.40" y="339.94" width="6.83" height="6.87" fill="#f5a6aa" stroke="none" stroke-width="1" />
<rect x="419.18" y="339.94" width="6.83" height="6.87" fill="#3c00c4" stroke="none" stroke-width="1" />
<rect x="425.95" y="339.94" width="6.83" height="6.87" fill="#3c00c4" stroke="none" stroke-width="1" />
<rect x="432.73" y="339.94" width="6.83" height="6.87" fill="#3c00c4" stroke="none" stroke-width="1" />
<rect x="439.50" y="339.94" width="6.83" height="6.87" fill="#3c00c4" stroke="none" stroke-width="1" />
<rect x="446.27" y="339.94" width="6.83" height="6.87" fill="#f4e8f0" stroke="none" stroke-width="1" />
<rect x="453.05" y="339.94" width="6.83" height="6.87" fill="#f06262" stroke="none" stroke-width="1" />
<rect x="459.83" y="339.94" width="6.83" height="6.87" fill="#f4e8f0" stroke="none" stroke-width="1" />
<rect x="304.00" y="346.76" width="6.83" height="6.87" fill="#2c14ee" stroke="none" stroke-width="1" />
<rect x="310.77" y="346.76" width="6.83" height="6.87" fill="#3c00c4" stroke="none" stroke-width="1" />
<rect x="317.55" y="346.76" width="6.83" height="6.87" fill="#3c00c4" stroke="none" stroke-width="1" />
<rect x="324.32" y="346.76" width="6.83" height="6.87" fill="#3c00c4" stroke="none" stroke-width="1" />
<rect x="331.10" y="346.76" width="6.83" height="6.87" fill="#3c00c4" stroke="none" stroke-width="1" />
<rect x="337.88" y="346.76" width="6.83" height="6.87" fill="#3c00c4" stroke="none" stroke-width="1" />
<rect x="344.65" y="346.76" width="6.83" height="6.87" fill="#3c00c4" stroke="none" stroke-width="1" />
<rect x="351.43" y="346.76" width="6.83" height="6.87" fill="#3c00c4" stroke="none" stroke-width="1" />
<rect x="358.20" y="346.76" width="6.83" height="6.87" fill="#3c00c4" stroke="none" stroke-width="1" />
<rect x="364.98" y="346.76" width="6.83" height="6.87" fill="#3c00c4" stroke="none" stroke-width="1" />
<rect x="371.75" y="346.76" width="6.83" height="6.87" fill="#3c00c4" stroke="none" stroke-width="1" />
<rect x="378.52" y="346.76" width="6.83" height="6.87" fill="#3c00c4" stroke="none" stroke-width="1" />
<rect x="385.30" y="346.76" width="6.83" height="6.87" fill="#8682f4" stroke="none" stroke-width="1" />
<rect x="392.07" y="346.76" width="6.83" height="6.87" fill="#f06262" stroke="none" stroke-width="1" />
<rect x="398.85" y="346.76" width="6.83" height="6.87" fill="#f4e8f0" stroke="none" stroke-width="1" />
<rect x="405.62" y="346.76" width="6.83" height="6.87" fill="#f4e8f0" stroke="none" stroke-width="1" />
<rect x="412.40" y="346.76" width="6.83" height="6.87" fill="#f5a6aa" stroke="none" stroke-width="1" />
<rect x="419.18" y="346.76" width="6.83" height="6.87" fill="#f4e8f0" stroke="none" stroke-width="1" />
<rect x="425.95" y="346.76" width="6.83" height="6.87" fill="#e00018" stroke="none" stroke-width="1" />
<rect x="432.73" y="346.76" width="6.83" height="6.87" fill="#e00018" stroke="none" stroke-width="1" />
<rect x="439.50" y="346.76" width="6.83" height="6.87" fill="#f4e8f0" stroke="none" stroke-width="1" />
<rect x="446.27" y="346.76" width="6.83" height="6.87" fill="#f5a6aa" stroke="none" stroke-width="1" />
<rect x="453.05" y="346.76" width="6.83" height="6.87" fill="#f4e8f0" stroke="none" stroke-width="1" />
<rect x="459.83" y="346.76" width="6.83" height="6.87" fill="#8682f4" stroke="none" stroke-width="1" />
<rect x="304.00" y="353.59" width="6.83" height="6.87" fill="#c4c2f8" stroke="none" stroke-width="1" />
<rect x="310.77" y="353.59" width="6.83" height="6.87" fill="#f4e8f0" stroke="none" stroke-width="1" />
<rect x="317.55" y="353.59" width="6.83" height="6.87" fill="#3c00c4" stroke="none" stroke-width="1" />
<rect x="324.32" y="353.59" width="6.83" height="6.87" fill="#3c00c4" stroke="none" stroke-width="1" />
<rect x="331.10" y="353.59" width="6.83" height="6.87" fill="#f4e8f0" stroke="none" stroke-width="1" />
<rect x="337.88" y="353.59" width="6.83" height="6.87" fill="#3c00c4" stroke="none" stroke-width="1" />
<rect x="344.65" y="353.59" width="6.83" height="6.87" fill="#f06262" stroke="none" stroke-width="1" />
<rect x="351.43" y="353.59" width="6.83" height="6.87" fill="#3c00c4" stroke="none" stroke-width="1" />
<rect x="358.20" y="353.59" width="6.83" height="6.87" fill="#3c00c4" stroke="none" stroke-width="1" />
<rect x="364.98" y="353.59" width="6.83" height="6.87" fill="#f4e8f0" stroke="none" stroke-width="1" />
<rect x="371.75" y="353.59" width="6.83" height="6.87" fill="#c4c2f8" stroke="none" stroke-width="1" />
<rect x="378.52" y="353.59" width="6.83" height="6.87" fill="#f4e8f0" stroke="none" stroke-width="1" />
<rect x="385.30" y="353.59" width="6.83" height="6.87" fill="#f4e8f0" stroke="none" stroke-width="1" />
<rect x="392.07" y="353.59" width="6.83" height="6.87" fill="#3c00c4" stroke="none" stroke-width="1" />
<rect x="398.85" y="353.59" width="6.83" height="6.87" fill="#f4e8f0" stroke="none" stroke-width="1" />
<rect x="405.62" y="353.59" width="6.83" height="6.87" fill="#3c00c4" stroke="none" stroke-width="1" />
<rect x="412.40" y="353.59" width="6.83" height="6.87" fill="#3c00c4" stroke="none" stroke-width="1" />
<rect x="419.18" y="353.59" width="6.83" height="6.87" fill="#3c00c4" stroke="none" stroke-width="1" />
<rect x="425.95" y="353.59" width="6.83" height="6.87" fill="#3c00c4" stroke="none" stroke-width="1" />
<rect x="432.73" y="353.59" width="6.83" height="6.87" fill="#3c00c4" stroke="none" stroke-width="1" />
<rect x="439.50" y="353.59" width="6.83" height="6.87" fill="#f06262" stroke="none" stroke-width="1" />
<rect x="446.27" y="353.59" width="6.83" height="6.87" fill="#8682f4" stroke="none" stroke-width="1" />
<rect x="453.05" y="353.59" width="6.83" height="6.87" fill="#e00018" stroke="none" stroke-width="1" />
<rect x="459.83" y="353.59" width="6.83" height="6.87" fill="#8682f4" stroke="none" stroke-width="1" />
<rect x="304.00" y="360.41" width="6.83" height="6.87" fill="#3c00c4" stroke="none" stroke-width="1" />
<rect x="310.77" y="360.41" width="6.83" height="6.87" fill="#3c00c4" stroke="none" stroke-width="1" />
<rect x="317.55" y="360.41" width="6.83" height="6.87" fill="#8682f4" stroke="none" stroke-width="1" />
<rect x="324.32" y="360.41" width="6.83" height="6.87" fill="#f4e8f0" stroke="none" stroke-width="1" />
<rect x="331.10" y="360.41" width="6.83" height="6.87" fill="#f4e8f0" stroke="none" stroke-width="1" />
<rect x="337.88" y="360.41" width="6.83" height="6.87" fill="#c4c2f8" stroke="none" stroke-width="1" />
<rect x="344.65" y="360.41" width="6.83" height="6.87" fill="#3c00c4" stroke="none" stroke-width="1" />
<rect x="351.43" y="360.41" width="6.83" height="6.87" fill="#3c00c4" stroke="none" stroke-width="1" />
<rect x="358.20" y="360.41" width="6.83" height="6.87" fill="#3c00c4" stroke="none" stroke-width="1" />
<rect x="364.98" y="360.41" width="6.83" height="6.87" fill="#f5a6aa" stroke="none" stroke-width="1" />
<rect x="371.75" y="360.41" width="6.83" height="6.87" fill="#3c00c4" stroke="none" stroke-width="1" />
<rect x="378.52" y="360.41" width="6.83" height="6.87" fill="#f4e8f0" stroke="none" stroke-width="1" />
<rect x="385.30" y="360.41" width="6.83" height="6.87" fill="#f4e8f0" stroke="none" stroke-width="1" />
<rect x="392.07" y="360.41" width="6.83" height="6.87" fill="#f06262" stroke="none" stroke-width="1" />
<rect x="398.85" y="360.41" width="6.83" height="6.87" fill="#f4e8f0" stroke="none" stroke-width="1" />
<rect x="405.62" y="360.41" width="6.83" height="6.87" fill="#f5a6aa" stroke="none" stroke-width="1" />
<rect x="412.40" y="360.41" width="6.83" height="6.87" fill="#f5a6aa" stroke="none" stroke-width="1" />
<rect x="419.18" y="360.41" width="6.83" height="6.87" fill="#f4e8f0" stroke="none" stroke-width="1" />
<rect x="425.95" y="360.41" width="6.83" height="6.87" fill="#3c00c4" stroke="none" stroke-width="1" />
<rect x="432.73" y="360.41" width="6.83" height="6.87" fill="#3c00c4" stroke="none" stroke-width="1" />
<rect x="439.50" y="360.41" width="6.83" height="6.87" fill="#f4e8f0" stroke="none" stroke-width="1" />
<rect x="446.27" y="360.41" width="6.83" height="6.87" fill="#8682f4" stroke="none" stroke-width="1" />
<rect x="453.05" y="360.41" width="6.83" height="6.87" fill="#e00018" stroke="none" stroke-width="1" />
<rect x="459.83" y="360.41" width="6.83" height="6.87" fill="#3c00c4" stroke="none" stroke-width="1" />
<rect x="304.00" y="367.24" width="6.83" height="6.87" fill="#2c14ee" stroke="none" stroke-width="1" />
<rect x="310.77" y="367.24" width="6.83" height="6.87" fill="#c4c2f8" stroke="none" stroke-width="1" />
<rect x="317.55" y="367.24" width="6.83" height="6.87" fill="#f4e8f0" stroke="none" stroke-width="1" />
<rect x="324.32" y="367.24" width="6.83" height="6.87" fill="#3c00c4" stroke="none" stroke-width="1" />
<rect x="331.10" y="367.24" width="6.83" height="6.87" fill="#f06262" stroke="none" stroke-width="1" />
<rect x="337.88" y="367.24" width="6.83" height="6.87" fill="#f06262" stroke="none" stroke-width="1" />
<rect x="344.65" y="367.24" width="6.83" height="6.87" fill="#3c00c4" stroke="none" stroke-width="1" />
<rect x="351.43" y="367.24" width="6.83" height="6.87" fill="#8682f4" stroke="none" stroke-width="1" />
<rect x="358.20" y="367.24" width="6.83" height="6.87" fill="#8682f4" stroke="none" stroke-width="1" />
<rect x="364.98" y="367.24" width="6.83" height="6.87" fill="#f06262" stroke="none" stroke-width="1" />
<rect x="371.75" y="367.24" width="6.83" height="6.87" fill="#3c00c4" stroke="none" stroke-width="1" />
<rect x="378.52" y="367.24" width="6.83" height="6.87" fill="#c4c2f8" stroke="none" stroke-width="1" />
<rect x="385.30" y="367.24" width="6.83" height="6.87" fill="#3c00c4" stroke="none" stroke-width="1" />
<rect x="392.07" y="367.24" width="6.83" height="6.87" fill="#f4e8f0" stroke="none" stroke-width="1" />
<rect x="398.85" y="367.24" width="6.83" height="6.87" fill="#3c00c4" stroke="none" stroke-width="1" />
<rect x="405.62" y="367.24" width="6.83" height="6.87" fill="#f4e8f0" stroke="none" stroke-width="1" />
<rect x="412.40" y="367.24" width="6.83" height="6.87" fill="#f4e8f0" stroke="none" stroke-width="1" />
<rect x="419.18" y="367.24" width="6.83" height="6.87" fill="#f4e8f0" stroke="none" stroke-width="1" />
<rect x="425.95" y="367.24" width="6.83" height="6.87" fill="#3c00c4" stroke="none" stroke-width="1" />
<rect x="432.73" y="367.24" width="6.83" height="6.87" fill="#f5a6aa" stroke="none" stroke-width="1" />
<rect x="439.50" y="367.24" width="6.83" height="6.87" fill="#f5a6aa" stroke="none" stroke-width="1" />
<rect x="446.27" y="367.24" width="6.83" height="6.87" fill="#3c00c4" stroke="none" stroke-width="1" />
<rect x="453.05" y="367.24" width="6.83" height="6.87" fill="#e00018" stroke="none" stroke-width="1" />
<rect x="459.83" y="367.24" width="6.83" height="6.87" fill="#f4e8f0" stroke="none" stroke-width="1" />
<rect x="304.00" y="374.06" width="6.83" height="6.87" fill="#8682f4" stroke="none" stroke-width="1" />
<rect x="310.77" y="374.06" width="6.83" height="6.87" fill="#f06262" stroke="none" stroke-width="1" />
<rect x="317.55" y="374.06" width="6.83" height="6.87" fill="#8682f4" stroke="none" stroke-width="1" />
<rect x="324.32" y="374.06" width="6.83" height="6.87" fill="#3c00c4" stroke="none" stroke-width="1" />
<rect x="331.10" y="374.06" width="6.83" height="6.87" fill="#f4e8f0" stroke="none" stroke-width="1" />
<rect x="337.88" y="374.06" width="6.83" height="6.87" fill="#8682f4" stroke="none" stroke-width="1" />
<rect x="344.65" y="374.06" width="6.83" height="6.87" fill="#3c00c4" stroke="none" stroke-width="1" />
<rect x="351.43" y="374.06" width="6.83" height="6.87" fill="#f4e8f0" stroke="none" stroke-width="1" />
<rect x="358.20" y="374.06" width="6.83" height="6.87" fill="#3c00c4" stroke="none" stroke-width="1" />
<rect x="364.98" y="374.06" width="6.83" height="6.87" fill="#f06262" stroke="none" stroke-width="1" />
<rect x="371.75" y="374.06" width="6.83" height="6.87" fill="#3c00c4" stroke="none" stroke-width="1" />
<rect x="378.52" y="374.06" width="6.83" height="6.87" fill="#f5a6aa" stroke="none" stroke-width="1" />
<rect x="385.30" y="374.06" width="6.83" height="6.87" fill="#3c00c4" stroke="none" stroke-width="1" />
<rect x="392.07" y="374.06" width="6.83" height="6.87" fill="#2c14ee" stroke="none" stroke-width="1" />
<rect x="398.85" y="374.06" width="6.83" height="6.87" fill="#3c00c4" stroke="none" stroke-width="1" />
<rect x="405.62" y="374.06" width="6.83" height="6.87" fill="#3c00c4" stroke="none" stroke-width="1" />
<rect x="412.40" y="374.06" width="6.83" height="6.87" fill="#3c00c4" stroke="none" stroke-width="1" />
<rect x="419.18" y="374.06" width="6.83" height="6.87" fill="#3c00c4" stroke="none" stroke-width="1" />
<rect x="425.95" y="374.06" width="6.83" height="6.87" fill="#3c00c4" stroke="none" stroke-width="1" />
<rect x="432.73" y="374.06" width="6.83" height="6.87" fill="#8682f4" stroke="none" stroke-width="1" />
<rect x="439.50" y="374.06" width="6.83" height="6.87" fill="#e00018" stroke="none" stroke-width="1" />
<rect x="446.27" y="374.06" width="6.83" height="6.87" fill="#f4e8f0" stroke="none" stroke-width="1" />
<rect x="453.05" y="374.06" width="6.83" height="6.87" fill="#e00018" stroke="none" stroke-width="1" />
<rect x="459.83" y="374.06" width="6.83" height="6.87" fill="#c4c2f8" stroke="none" stroke-width="1" />
<rect x="304.00" y="380.88" width="6.83" height="6.87" fill="#f4e8f0" stroke="none" stroke-width="1" />
<rect x="310.77" y="380.88" width="6.83" height="6.87" fill="#f06262" stroke="none" stroke-width="1" />
<rect x="317.55" y="380.88" width="6.83" height="6.87" fill="#f06262" stroke="none" stroke-width="1" />
<rect x="324.32" y="380.88" width="6.83" height="6.87" fill="#3c00c4" stroke="none" stroke-width="1" />
<rect x="331.10" y="380.88" width="6.83" height="6.87" fill="#3c00c4" stroke="none" stroke-width="1" />
<rect x="337.88" y="380.88" width="6.83" height="6.87" fill="#f4e8f0" stroke="none" stroke-width="1" />
<rect x="344.65" y="380.88" width="6.83" height="6.87" fill="#3c00c4" stroke="none" stroke-width="1" />
<rect x="351.43" y="380.88" width="6.83" height="6.87" fill="#f5a6aa" stroke="none" stroke-width="1" />
<rect x="358.20" y="380.88" width="6.83" height="6.87" fill="#3c00c4" stroke="none" stroke-width="1" />
<rect x="364.98" y="380.88" width="6.83" height="6.87" fill="#3c00c4" stroke="none" stroke-width="1" />
<rect x="371.75" y="380.88" width="6.83" height="6.87" fill="#f4e8f0" stroke="none" stroke-width="1" />
<rect x="378.52" y="380.88" width="6.83" height="6.87" fill="#3c00c4" stroke="none" stroke-width="1" />
<rect x="385.30" y="380.88" width="6.83" height="6.87" fill="#3c00c4" stroke="none" stroke-width="1" />
<rect x="392.07" y="380.88" width="6.83" height="6.87" fill="#3c00c4" stroke="none" stroke-width="1" />
<rect x="398.85" y="380.88" width="6.83" height="6.87" fill="#3c00c4" stroke="none" stroke-width="1" />
<rect x="405.62" y="380.88" width="6.83" height="6.87" fill="#3c00c4" stroke="none" stroke-width="1" />
<rect x="412.40" y="380.88" width="6.83" height="6.87" fill="#3c00c4" stroke="none" stroke-width="1" />
<rect x="419.18" y="380.88" width="6.83" height="6.87" fill="#3c00c4" stroke="none" stroke-width="1" />
<rect x="425.95" y="380.88" width="6.83" height="6.87" fill="#3c00c4" stroke="none" stroke-width="1" />
<rect x="432.73" y="380.88" width="6.83" height="6.87" fill="#3c00c4" stroke="none" stroke-width="1" />
<rect x="439.50" y="380.88" width="6.83" height="6.87" fill="#e00018" stroke="none" stroke-width="1" />
<rect x="446.27" y="380.88" width="6.83" height="6.87" fill="#3c00c4" stroke="none" stroke-width="1" />
<rect x="453.05" y="380.88" width="6.83" height="6.87" fill="#f06262" stroke="none" stroke-width="1" />
<rect x="459.83" y="380.88" width="6.83" height="6.87" fill="#f4e8f0" stroke="none" stroke-width="1" />
<rect x="304.00" y="387.71" width="6.83" height="6.87" fill="#c4c2f8" stroke="none" stroke-width="1" />
<rect x="310.77" y="387.71" width="6.83" height="6.87" fill="#f06262" stroke="none" stroke-width="1" />
<rect x="317.55" y="387.71" width="6.83" height="6.87" fill="#8682f4" stroke="none" stroke-width="1" />
<rect x="324.32" y="387.71" width="6.83" height="6.87" fill="#f06262" stroke="none" stroke-width="1" />
<rect x="331.10" y="387.71" width="6.83" height="6.87" fill="#f06262" stroke="none" stroke-width="1" />
<rect x="337.88" y="387.71" width="6.83" height="6.87" fill="#f4e8f0" stroke="none" stroke-width="1" />
<rect x="344.65" y="387.71" width="6.83" height="6.87" fill="#8682f4" stroke="none" stroke-width="1" />
<rect x="351.43" y="387.71" width="6.83" height="6.87" fill="#8682f4" stroke="none" stroke-width="1" />
<rect x="358.20" y="387.71" width="6.83" height="6.87" fill="#c4c2f8" stroke="none" stroke-width="1" />
<rect x="364.98" y="387.71" width="6.83" height="6.87" fill="#e00018" stroke="none" stroke-width="1" />
<rect x="371.75" y="387.71" width="6.83" height="6.87" fill="#c4c2f8" stroke="none" stroke-width="1" />
<rect x="378.52" y="387.71" width="6.83" height="6.87" fill="#f06262" stroke="none" stroke-width="1" />
<rect x="385.30" y="387.71" width="6.83" height="6.87" fill="#8682f4" stroke="none" stroke-width="1" />
<rect x="392.07" y="387.71" width="6.83" height="6.87" fill="#f4e8f0" stroke="none" stroke-width="1" />
<rect x="398.85" y="387.71" width="6.83" height="6.87" fill="#3c00c4" stroke="none" stroke-width="1" />
<rect x="405.62" y="387.71" width="6.83" height="6.87" fill="#8682f4" stroke="none" stroke-width="1" />
<rect x="412.40" y="387.71" width="6.83" height="6.87" fill="#3c00c4" stroke="none" stroke-width="1" />
<rect x="419.18" y="387.71" width="6.83" height="6.87" fill="#3c00c4" stroke="none" stroke-width="1" />
<rect x="425.95" y="387.71" width="6.83" height="6.87" fill="#f4e8f0" stroke="none" stroke-width="1" />
<rect x="432.73" y="387.71" width="6.83" height="6.87" fill="#f4e8f0" stroke="none" stroke-width="1" />
<rect x="439.50" y="387.71" width="6.83" height="6.87" fill="#c4c2f8" stroke="none" stroke-width="1" />
<rect x="446.27" y="387.71" width="6.83" height="6.87" fill="#f4e8f0" stroke="none" stroke-width="1" />
<rect x="453.05" y="387.71" width="6.83" height="6.87" fill="#e00018" stroke="none" stroke-width="1" />
<rect x="459.83" y="387.71" width="6.83" height="6.87" fill="#f4e8f0" stroke="none" stroke-width="1" />
<rect x="304.00" y="394.53" width="6.83" height="6.87" fill="#8682f4" stroke="none" stroke-width="1" />
<rect x="310.77" y="394.53" width="6.83" height="6.87" fill="#3c00c4" stroke="none" stroke-width="1" />
<rect x="317.55" y="394.53" width="6.83" height="6.87" fill="#8682f4" stroke="none" stroke-width="1" />
<rect x="324.32" y="394.53" width="6.83" height="6.87" fill="#8682f4" stroke="none" stroke-width="1" />
<rect x="331.10" y="394.53" width="6.83" height="6.87" fill="#f4e8f0" stroke="none" stroke-width="1" />
<rect x="337.88" y="394.53" width="6.83" height="6.87" fill="#8682f4" stroke="none" stroke-width="1" />
<rect x="344.65" y="394.53" width="6.83" height="6.87" fill="#c4c2f8" stroke="none" stroke-width="1" />
<rect x="351.43" y="394.53" width="6.83" height="6.87" fill="#2c14ee" stroke="none" stroke-width="1" />
<rect x="358.20" y="394.53" width="6.83" height="6.87" fill="#3c00c4" stroke="none" stroke-width="1" />
<rect x="364.98" y="394.53" width="6.83" height="6.87" fill="#3c00c4" stroke="none" stroke-width="1" />
<rect x="371.75" y="394.53" width="6.83" height="6.87" fill="#3c00c4" stroke="none" stroke-width="1" />
<rect x="378.52" y="394.53" width="6.83" height="6.87" fill="#f4e8f0" stroke="none" stroke-width="1" />
<rect x="385.30" y="394.53" width="6.83" height="6.87" fill="#f4e8f0" stroke="none" stroke-width="1" />
<rect x="392.07" y="394.53" width="6.83" height="6.87" fill="#f06262" stroke="none" stroke-width="1" />
<rect x="398.85" y="394.53" width="6.83" height="6.87" fill="#f4e8f0" stroke="none" stroke-width="1" />
<rect x="405.62" y="394.53" width="6.83" height="6.87" fill="#f06262" stroke="none" stroke-width="1" />
<rect x="412.40" y="394.53" width="6.83" height="6.87" fill="#f06262" stroke="none" stroke-width="1" />
<rect x="419.18" y="394.53" width="6.83" height="6.87" fill="#f06262" stroke="none" stroke-width="1" />
<rect x="425.95" y="394.53" width="6.83" height="6.87" fill="#3c00c4" stroke="none" stroke-width="1" />
<rect x="432.73" y="394.53" width="6.83" height="6.87" fill="#3c00c4" stroke="none" stroke-width="1" />
<rect x="439.50" y="394.53" width="6.83" height="6.87" fill="#f4e8f0" stroke="none" stroke-width="1" />
<rect x="446.27" y="394.53" width="6.83" height="6.87" fill="#3c00c4" stroke="none" stroke-width="1" />
<rect x="453.05" y="394.53" width="6.83" height="6.87" fill="#e00018" stroke="none" stroke-width="1" />
<rect x="459.83" y="394.53" width="6.83" height="6.87" fill="#c4c2f8" stroke="none" stroke-width="1" />
<rect x="304.00" y="401.36" width="6.83" height="6.87" fill="#f4e8f0" stroke="none" stroke-width="1" />
<rect x="310.77" y="401.36" width="6.83" height="6.87" fill="#8682f4" stroke="none" stroke-width="1" />
<rect x="317.55" y="401.36" width="6.83" height="6.87" fill="#3c00c4" stroke="none" stroke-width="1" />
<rect x="324.32" y="401.36" width="6.83" height="6.87" fill="#f5a6aa" stroke="none" stroke-width="1" />
<rect x="331.10" y="401.36" width="6.83" height="6.87" fill="#3c00c4" stroke="none" stroke-width="1" />
<rect x="337.88" y="401.36" width="6.83" height="6.87" fill="#f4e8f0" stroke="none" stroke-width="1" />
<rect x="344.65" y="401.36" width="6.83" height="6.87" fill="#f5a6aa" stroke="none" stroke-width="1" />
<rect x="351.43" y="401.36" width="6.83" height="6.87" fill="#3c00c4" stroke="none" stroke-width="1" />
<rect x="358.20" y="401.36" width="6.83" height="6.87" fill="#8682f4" stroke="none" stroke-width="1" />
<rect x="364.98" y="401.36" width="6.83" height="6.87" fill="#c4c2f8" stroke="none" stroke-width="1" />
<rect x="371.75" y="401.36" width="6.83" height="6.87" fill="#e00018" stroke="none" stroke-width="1" />
<rect x="378.52" y="401.36" width="6.83" height="6.87" fill="#f5a6aa" stroke="none" stroke-width="1" />
<rect x="385.30" y="401.36" width="6.83" height="6.87" fill="#3c00c4" stroke="none" stroke-width="1" />
<rect x="392.07" y="401.36" width="6.83" height="6.87" fill="#f5a6aa" stroke="none" stroke-width="1" />
<rect x="398.85" y="401.36" width="6.83" height="6.87" fill="#3c00c4" stroke="none" stroke-width="1" />
<rect x="405.62" y="401.36" width="6.83" height="6.87" fill="#f4e8f0" stroke="none" stroke-width="1" />
<rect x="412.40" y="401.36" width="6.83" height="6.87" fill="#3c00c4" stroke="none" stroke-width="1" />
<rect x="419.18" y="401.36" width="6.83" height="6.87" fill="#f5a6aa" stroke="none" stroke-width="1" />
<rect x="425.95" y="401.36" width="6.83" height="6.87" fill="#2c14ee" stroke="none" stroke-width="1" />
<rect x="432.73" y="401.36" width="6.83" height="6.87" fill="#8682f4" stroke="none" stroke-width="1" />
<rect x="439.50" y="401.36" width="6.83" height="6.87" fill="#2c14ee" stroke="none" stroke-width="1" />
<rect x="446.27" y="401.36" width="6.83" height="6.87" fill="#f4e8f0" stroke="none" stroke-width="1" />
<rect x="453.05" y="401.36" width="6.83" height="6.87" fill="#f06262" stroke="none" stroke-width="1" />
<rect x="459.83" y="401.36" width="6.83" height="6.87" fill="#3c00c4" stroke="none" stroke-width="1" />
<rect x="304.00" y="408.18" width="6.83" height="6.87" fill="#f5a6aa" stroke="none" stroke-width="1" />
<rect x="310.77" y="408.18" width="6.83" height="6.87" fill="#8682f4" stroke="none" stroke-width="1" />
<rect x="317.55" y="408.18" width="6.83" height="6.87" fill="#8682f4" stroke="none" stroke-width="1" />
<rect x="324.32" y="408.18" width="6.83" height="6.87" fill="#3c00c4" stroke="none" stroke-width="1" />
<rect x="331.10" y="408.18" width="6.83" height="6.87" fill="#f4e8f0" stroke="none" stroke-width="1" />
<rect x="337.88" y="408.18" width="6.83" height="6.87" fill="#3c00c4" stroke="none" stroke-width="1" />
<rect x="344.65" y="408.18" width="6.83" height="6.87" fill="#f5a6aa" stroke="none" stroke-width="1" />
<rect x="351.43" y="408.18" width="6.83" height="6.87" fill="#3c00c4" stroke="none" stroke-width="1" />
<rect x="358.20" y="408.18" width="6.83" height="6.87" fill="#e00018" stroke="none" stroke-width="1" />
<rect x="364.98" y="408.18" width="6.83" height="6.87" fill="#e00018" stroke="none" stroke-width="1" />
<rect x="371.75" y="408.18" width="6.83" height="6.87" fill="#f5a6aa" stroke="none" stroke-width="1" />
<rect x="378.52" y="408.18" width="6.83" height="6.87" fill="#8682f4" stroke="none" stroke-width="1" />
<rect x="385.30" y="408.18" width="6.83" height="6.87" fill="#8682f4" stroke="none" stroke-width="1" />
<rect x="392.07" y="408.18" width="6.83" height="6.87" fill="#3c00c4" stroke="none" stroke-width="1" />
<rect x="398.85" y="408.18" width="6.83" height="6.87" fill="#8682f4" stroke="none" stroke-width="1" />
<rect x="405.62" y="408.18" width="6.83" height="6.87" fill="#f5a6aa" stroke="none" stroke-width="1" />
<rect x="412.40" y="408.18" width="6.83" height="6.87" fill="#3c00c4" stroke="none" stroke-width="1" />
<rect x="419.18" y="408.18" width="6.83" height="6.87" fill="#8682f4" stroke="none" stroke-width="1" />
<rect x="425.95" y="408.18" width="6.83" height="6.87" fill="#f5a6aa" stroke="none" stroke-width="1" />
<rect x="432.73" y="408.18" width="6.83" height="6.87" fill="#f4e8f0" stroke="none" stroke-width="1" />
<rect x="439.50" y="408.18" width="6.83" height="6.87" fill="#8682f4" stroke="none" stroke-width="1" />
<rect x="446.27" y="408.18" width="6.83" height="6.87" fill="#f4e8f0" stroke="none" stroke-width="1" />
<rect x="453.05" y="408.18" width="6.83" height="6.87" fill="#f4e8f0" stroke="none" stroke-width="1" />
<rect x="459.83" y="408.18" width="6.83" height="6.87" fill="#f4e8f0" stroke="none" stroke-width="1" />
<rect x="304.00" y="415.00" width="6.83" height="6.87" fill="#3c00c4" stroke="none" stroke-width="1" />
<rect x="310.77" y="415.00" width="6.83" height="6.87" fill="#8682f4" stroke="none" stroke-width="1" />
<rect x="317.55" y="415.00" width="6.83" height="6.87" fill="#3c00c4" stroke="none" stroke-width="1" />
<rect x="324.32" y="415.00" width="6.83" height="6.87" fill="#8682f4" stroke="none" stroke-width="1" />
<rect x="331.10" y="415.00" width="6.83" height="6.87" fill="#e00018" stroke="none" stroke-width="1" />
<rect x="337.88" y="415.00" width="6.83" height="6.87" fill="#f5a6aa" stroke="none" stroke-width="1" />
<rect x="344.65" y="415.00" width="6.83" height="6.87" fill="#8682f4" stroke="none" stroke-width="1" />
<rect x="351.43" y="415.00" width="6.83" height="6.87" fill="#8682f4" stroke="none" stroke-width="1" />
<rect x="358.20" y="415.00" width="6.83" height="6.87" fill="#f5a6aa" stroke="none" stroke-width="1" />
<rect x="364.98" y="415.00" width="6.83" height="6.87" fill="#f4e8f0" stroke="none" stroke-width="1" />
<rect x="371.75" y="415.00" width="6.83" height="6.87" fill="#3c00c4" stroke="none" stroke-width="1" />
<rect x="378.52" y="415.00" width="6.83" height="6.87" fill="#f5a6aa" stroke="none" stroke-width="1" />
<rect x="385.30" y="415.00" width="6.83" height="6.87" fill="#3c00c4" stroke="none" stroke-width="1" />
<rect x="392.07" y="415.00" width="6.83" height="6.87" fill="#3c00c4" stroke="none" stroke-width="1" />
<rect x="398.85" y="415.00" width="6.83" height="6.87" fill="#3c00c4" stroke="none" stroke-width="1" />
<rect x="405.62" y="415.00" width="6.83" height="6.87" fill="#3c00c4" stroke="none" stroke-width="1" />
<rect x="412.40" y="415.00" width="6.83" height="6.87" fill="#3c00c4" stroke="none" stroke-width="1" />
<rect x="419.18" y="415.00" width="6.83" height="6.87" fill="#3c00c4" stroke="none" stroke-width="1" />
<rect x="425.95" y="415.00" width="6.83" height="6.87" fill="#3c00c4" stroke="none" stroke-width="1" />
<rect x="432.73" y="415.00" width="6.83" height="6.87" fill="#3c00c4" stroke="none" stroke-width="1" />
<rect x="439.50" y="415.00" width="6.83" height="6.87" fill="#f06262" stroke="none" stroke-width="1" />
<rect x="446.27" y="415.00" width="6.83" height="6.87" fill="#3c00c4" stroke="none" stroke-width="1" />
<rect x="453.05" y="415.00" width="6.83" height="6.87" fill="#f06262" stroke="none" stroke-width="1" />
<rect x="459.83" y="415.00" width="6.83" height="6.87" fill="#8682f4" stroke="none" stroke-width="1" />
<rect x="304.00" y="421.83" width="6.83" height="6.87" fill="#3c00c4" stroke="none" stroke-width="1" />
<rect x="310.77" y="421.83" width="6.83" height="6.87" fill="#f4e8f0" stroke="none" stroke-width="1" />
<rect x="317.55" y="421.83" width="6.83" height="6.87" fill="#8682f4" stroke="none" stroke-width="1" />
<rect x="324.32" y="421.83" width="6.83" height="6.87" fill="#f4e8f0" stroke="none" stroke-width="1" />
<rect x="331.10" y="421.83" width="6.83" height="6.87" fill="#f4e8f0" stroke="none" stroke-width="1" />
<rect x="337.88" y="421.83" width="6.83" height="6.87" fill="#f06262" stroke="none" stroke-width="1" />
<rect x="344.65" y="421.83" width="6.83" height="6.87" fill="#3c00c4" stroke="none" stroke-width="1" />
<rect x="351.43" y="421.83" width="6.83" height="6.87" fill="#3c00c4" stroke="none" stroke-width="1" />
<rect x="358.20" y="421.83" width="6.83" height="6.87" fill="#3c00c4" stroke="none" stroke-width="1" />
<rect x="364.98" y="421.83" width="6.83" height="6.87" fill="#e00018" stroke="none" stroke-width="1" />
<rect x="371.75" y="421.83" width="6.83" height="6.87" fill="#f4e8f0" stroke="none" stroke-width="1" />
<rect x="378.52" y="421.83" width="6.83" height="6.87" fill="#f06262" stroke="none" stroke-width="1" />
<rect x="385.30" y="421.83" width="6.83" height="6.87" fill="#3c00c4" stroke="none" stroke-width="1" />
<rect x="392.07" y="421.83" width="6.83" height="6.87" fill="#f5a6aa" stroke="none" stroke-width="1" />
<rect x="398.85" y="421.83" width="6.83" height="6.87" fill="#2c14ee" stroke="none" stroke-width="1" />
<rect x="405.62" y="421.83" width="6.83" height="6.87" fill="#f5a6aa" stroke="none" stroke-width="1" />
<rect x="412.40" y="421.83" width="6.83" height="6.87" fill="#f4e8f0" stroke="none" stroke-width="1" />
<rect x="419.18" y="421.83" width="6.83" height="6.87" fill="#3c00c4" stroke="none" stroke-width="1" />
<rect x="425.95" y="421.83" width="6.83" height="6.87" fill="#f4e8f0" stroke="none" stroke-width="1" />
<rect x="432.73" y="421.83" width="6.83" height="6.87" fill="#c4c2f8" stroke="none" stroke-width="1" />
<rect x="439.50" y="421.83" width="6.83" height="6.87" fill="#8682f4" stroke="none" stroke-width="1" />
<rect x="446.27" y="421.83" width="6.83" height="6.87" fill="#f5a6aa" stroke="none" stroke-width="1" />
<rect x="453.05" y="421.83" width="6.83" height="6.87" fill="#f4e8f0" stroke="none" stroke-width="1" />
<rect x="459.83" y="421.83" width="6.83" height="6.87" fill="#f4e8f0" stroke="none" stroke-width="1" />
<rect x="304.00" y="428.65" width="6.83" height="6.87" fill="#3c00c4" stroke="none" stroke-width="1" />
<rect x="310.77" y="428.65" width="6.83" height="6.87" fill="#3c00c4" stroke="none" stroke-width="1" />
<rect x="317.55" y="428.65" width="6.83" height="6.87" fill="#3c00c4" stroke="none" stroke-width="1" />
<rect x="324.32" y="428.65" width="6.83" height="6.87" fill="#3c00c4" stroke="none" stroke-width="1" />
<rect x="331.10" y="428.65" width="6.83" height="6.87" fill="#f4e8f0" stroke="none" stroke-width="1" />
<rect x="337.88" y="428.65" width="6.83" height="6.87" fill="#3c00c4" stroke="none" stroke-width="1" />
<rect x="344.65" y="428.65" width="6.83" height="6.87" fill="#3c00c4" stroke="none" stroke-width="1" />
<rect x="351.43" y="428.65" width="6.83" height="6.87" fill="#3c00c4" stroke="none" stroke-width="1" />
<rect x="358.20" y="428.65" width="6.83" height="6.87" fill="#3c00c4" stroke="none" stroke-width="1" />
<rect x="364.98" y="428.65" width="6.83" height="6.87" fill="#3c00c4" stroke="none" stroke-width="1" />
<rect x="371.75" y="428.65" width="6.83" height="6.87" fill="#3c00c4" stroke="none" stroke-width="1" />
<rect x="378.52" y="428.65" width="6.83" height="6.87" fill="#8682f4" stroke="none" stroke-width="1" />
<rect x="385.30" y="428.65" width="6.83" height="6.87" fill="#f4e8f0" stroke="none" stroke-width="1" />
<rect x="392.07" y="428.65" width="6.83" height="6.87" fill="#3c00c4" stroke="none" stroke-width="1" />
<rect x="398.85" y="428.65" width="6.83" height="6.87" fill="#3c00c4" stroke="none" stroke-width="1" />
<rect x="405.62" y="428.65" width="6.83" height="6.87" fill="#f5a6aa" stroke="none" stroke-width="1" />
<rect x="412.40" y="428.65" width="6.83" height="6.87" fill="#3c00c4" stroke="none" stroke-width="1" />
<rect x="419.18" y="428.65" width="6.83" height="6.87" fill="#e00018" stroke="none" stroke-width="1" />
<rect x="425.95" y="428.65" width="6.83" height="6.87" fill="#f5a6aa" stroke="none" stroke-width="1" />
<rect x="432.73" y="428.65" width="6.83" height="6.87" fill="#f4e8f0" stroke="none" stroke-width="1" />
<rect x="439.50" y="428.65" width="6.83" height="6.87" fill="#f06262" stroke="none" stroke-width="1" />
<rect x="446.27" y="428.65" width="6.83" height="6.87" fill="#3c00c4" stroke="none" stroke-width="1" />
<rect x="453.05" y="428.65" width="6.83" height="6.87" fill="#f5a6aa" stroke="none" stroke-width="1" />
<rect x="459.83" y="428.65" width="6.83" height="6.87" fill="#f5a6aa" stroke="none" stroke-width="1" />
<rect x="304.00" y="435.48" width="6.83" height="6.87" fill="#8682f4" stroke="none" stroke-width="1" />
<rect x="310.77" y="435.48" width="6.83" height="6.87" fill="#3c00c4" stroke="none" stroke-width="1" />
<rect x="317.55" y="435.48" width="6.83" height="6.87" fill="#f4e8f0" stroke="none" stroke-width="1" />
<rect x="324.32" y="435.48" width="6.83" height="6.87" fill="#3c00c4" stroke="none" stroke-width="1" />
<rect x="331.10" y="435.48" width="6.83" height="6.87" fill="#3c00c4" stroke="none" stroke-width="1" />
<rect x="337.88" y="435.48" width="6.83" height="6.87" fill="#f4e8f0" stroke="none" stroke-width="1" />
<rect x="344.65" y="435.48" width="6.83" height="6.87" fill="#3c00c4" stroke="none" stroke-width="1" />
<rect x="351.43" y="435.48" width="6.83" height="6.87" fill="#f5a6aa" stroke="none" stroke-width="1" />
<rect x="358.20" y="435.48" width="6.83" height="6.87" fill="#f5a6aa" stroke="none" stroke-width="1" />
<rect x="364.98" y="435.48" width="6.83" height="6.87" fill="#8682f4" stroke="none" stroke-width="1" />
<rect x="371.75" y="435.48" width="6.83" height="6.87" fill="#f4e8f0" stroke="none" stroke-width="1" />
<rect x="378.52" y="435.48" width="6.83" height="6.87" fill="#f5a6aa" stroke="none" stroke-width="1" />
<rect x="385.30" y="435.48" width="6.83" height="6.87" fill="#3c00c4" stroke="none" stroke-width="1" />
<rect x="392.07" y="435.48" width="6.83" height="6.87" fill="#3c00c4" stroke="none" stroke-width="1" />
<rect x="398.85" y="435.48" width="6.83" height="6.87" fill="#f4e8f0" stroke="none" stroke-width="1" />
<rect x="405.62" y="435.48" width="6.83" height="6.87" fill="#3c00c4" stroke="none" stroke-width="1" />
<rect x="412.40" y="435.48" width="6.83" height="6.87" fill="#f4e8f0" stroke="none" stroke-width="1" />
<rect x="419.18" y="435.48" width="6.83" height="6.87" fill="#3c00c4" stroke="none" stroke-width="1" />
<rect x="425.95" y="435.48" width="6.83" height="6.87" fill="#3c00c4" stroke="none" stroke-width="1" />
<rect x="432.73" y="435.48" width="6.83" height="6.87" fill="#e00018" stroke="none" stroke-width="1" />
<rect x="439.50" y="435.48" width="6.83" height="6.87" fill="#f4e8f0" stroke="none" stroke-width="1" />
<rect x="446.27" y="435.48" width="6.83" height="6.87" fill="#3c00c4" stroke="none" stroke-width="1" />
<rect x="453.05" y="435.48" width="6.83" height="6.87" fill="#f4e8f0" stroke="none" stroke-width="1" />
<rect x="459.83" y="435.48" width="6.83" height="6.87" fill="#f5a6aa" stroke="none" stroke-width="1" />
<rect x="304.00" y="442.30" width="6.83" height="6.87" fill="#c4c2f8" stroke="none" stroke-width="1" />
<rect x="310.77" y="442.30" width="6.83" height="6.87" fill="#f4e8f0" stroke="none" stroke-width="1" />
<rect x="317.55" y="442.30" width="6.83" height="6.87" fill="#8682f4" stroke="none" stroke-width="1" />
<rect x="324.32" y="442.30" width="6.83" height="6.87" fill="#3c00c4" stroke="none" stroke-width="1" />
<rect x="331.10" y="442.30" width="6.83" height="6.87" fill="#c4c2f8" stroke="none" stroke-width="1" />
<rect x="337.88" y="442.30" width="6.83" height="6.87" fill="#8682f4" stroke="none" stroke-width="1" />
<rect x="344.65" y="442.30" width="6.83" height="6.87" fill="#c4c2f8" stroke="none" stroke-width="1" />
<rect x="351.43" y="442.30" width="6.83" height="6.87" fill="#3c00c4" stroke="none" stroke-width="1" />
<rect x="358.20" y="442.30" width="6.83" height="6.87" fill="#f4e8f0" stroke="none" stroke-width="1" />
<rect x="364.98" y="442.30" width="6.83" height="6.87" fill="#f4e8f0" stroke="none" stroke-width="1" />
<rect x="371.75" y="442.30" width="6.83" height="6.87" fill="#f5a6aa" stroke="none" stroke-width="1" />
<rect x="378.52" y="442.30" width="6.83" height="6.87" fill="#e00018" stroke="none" stroke-width="1" />
<rect x="385.30" y="442.30" width="6.83" height="6.87" fill="#3c00c4" stroke="none" stroke-width="1" />
<rect x="392.07" y="442.30" width="6.83" height="6.87" fill="#8682f4" stroke="none" stroke-width="1" />
<rect x="398.85" y="442.30" width="6.83" height="6.87" fill="#c4c2f8" stroke="none" stroke-width="1" />
<rect x="405.62" y="442.30" width="6.83" height="6.87" fill="#f5a6aa" stroke="none" stroke-width="1" />
<rect x="412.40" y="442.30" width="6.83" height="6.87" fill="#8682f4" stroke="none" stroke-width="1" />
<rect x="419.18" y="442.30" width="6.83" height="6.87" fill="#f5a6aa" stroke="none" stroke-width="1" />
<rect x="425.95" y="442.30" width="6.83" height="6.87" fill="#8682f4" stroke="none" stroke-width="1" />
<rect x="432.73" y="442.30" width="6.83" height="6.87" fill="#f4e8f0" stroke="none" stroke-width="1" />
<rect x="439.50" y="442.30" width="6.83" height="6.87" fill="#8682f4" stroke="none" stroke-width="1" />
<rect x="446.27" y="442.30" width="6.83" height="6.87" fill="#8682f4" stroke="none" stroke-width="1" />
<rect x="453.05" y="442.30" width="6.83" height="6.87" fill="#3c00c4" stroke="none" stroke-width="1" />
<rect x="459.83" y="442.30" width="6.83" height="6.87" fill="#f5a6aa" stroke="none" stroke-width="1" />
<rect x="304.00" y="449.12" width="6.83" height="6.87" fill="#f5a6aa" stroke="none" stroke-width="1" />
<rect x="310.77" y="449.12" width="6.83" height="6.87" fill="#f5a6aa" stroke="none" stroke-width="1" />
<rect x="317.55" y="449.12" width="6.83" height="6.87" fill="#f4e8f0" stroke="none" stroke-width="1" />
<rect x="324.32" y="449.12" width="6.83" height="6.87" fill="#c4c2f8" stroke="none" stroke-width="1" />
<rect x="331.10" y="449.12" width="6.83" height="6.87" fill="#f4e8f0" stroke="none" stroke-width="1" />
<rect x="337.88" y="449.12" width="6.83" height="6.87" fill="#f5a6aa" stroke="none" stroke-width="1" />
<rect x="344.65" y="449.12" width="6.83" height="6.87" fill="#f4e8f0" stroke="none" stroke-width="1" />
<rect x="351.43" y="449.12" width="6.83" height="6.87" fill="#f5a6aa" stroke="none" stroke-width="1" />
<rect x="358.20" y="449.12" width="6.83" height="6.87" fill="#f5a6aa" stroke="none" stroke-width="1" />
<rect x="364.98" y="449.12" width="6.83" height="6.87" fill="#f06262" stroke="none" stroke-width="1" />
<rect x="371.75" y="449.12" width="6.83" height="6.87" fill="#f4e8f0" stroke="none" stroke-width="1" />
<rect x="378.52" y="449.12" width="6.83" height="6.87" fill="#c4c2f8" stroke="none" stroke-width="1" />
<rect x="385.30" y="449.12" width="6.83" height="6.87" fill="#f4e8f0" stroke="none" stroke-width="1" />
<rect x="392.07" y="449.12" width="6.83" height="6.87" fill="#e00018" stroke="none" stroke-width="1" />
<rect x="398.85" y="449.12" width="6.83" height="6.87" fill="#f4e8f0" stroke="none" stroke-width="1" />
<rect x="405.62" y="449.12" width="6.83" height="6.87" fill="#f5a6aa" stroke="none" stroke-width="1" />
<rect x="412.40" y="449.12" width="6.83" height="6.87" fill="#f5a6aa" stroke="none" stroke-width="1" />
<rect x="419.18" y="449.12" width="6.83" height="6.87" fill="#f5a6aa" stroke="none" stroke-width="1" />
<rect x="425.95" y="449.12" width="6.83" height="6.87" fill="#3c00c4" stroke="none" stroke-width="1" />
<rect x="432.73" y="449.12" width="6.83" height="6.87" fill="#2c14ee" stroke="none" stroke-width="1" />
<rect x="439.50" y="449.12" width="6.83" height="6.87" fill="#f4e8f0" stroke="none" stroke-width="1" />
<rect x="446.27" y="449.12" width="6.83" height="6.87" fill="#c4c2f8" stroke="none" stroke-width="1" />
<rect x="453.05" y="449.12" width="6.83" height="6.87" fill="#e00018" stroke="none" stroke-width="1" />
<rect x="459.83" y="449.12" width="6.83" height="6.87" fill="#f4e8f0" stroke="none" stroke-width="1" />
<rect x="304.00" y="455.95" width="6.83" height="6.87" fill="#8682f4" stroke="none" stroke-width="1" />
<rect x="310.77" y="455.95" width="6.83" height="6.87" fill="#f4e8f0" stroke="none" stroke-width="1" />
<rect x="317.55" y="455.95" width="6.83" height="6.87" fill="#f4e8f0" stroke="none" stroke-width="1" />
<rect x="324.32" y="455.95" width="6.83" height="6.87" fill="#e00018" stroke="none" stroke-width="1" />
<rect x="331.10" y="455.95" width="6.83" height="6.87" fill="#3c00c4" stroke="none" stroke-width="1" />
<rect x="337.88" y="455.95" width="6.83" height="6.87" fill="#8682f4" stroke="none" stroke-width="1" />
<rect x="344.65" y="455.95" width="6.83" height="6.87" fill="#f5a6aa" stroke="none" stroke-width="1" />
<rect x="351.43" y="455.95" width="6.83" height="6.87" fill="#f4e8f0" stroke="none" stroke-width="1" />
<rect x="358.20" y="455.95" width="6.83" height="6.87" fill="#c4c2f8" stroke="none" stroke-width="1" />
<rect x="364.98" y="455.95" width="6.83" height="6.87" fill="#f4e8f0" stroke="none" stroke-width="1" />
<rect x="371.75" y="455.95" width="6.83" height="6.87" fill="#f4e8f0" stroke="none" stroke-width="1" />
<rect x="378.52" y="455.95" width="6.83" height="6.87" fill="#8682f4" stroke="none" stroke-width="1" />
<rect x="385.30" y="455.95" width="6.83" height="6.87" fill="#3c00c4" stroke="none" stroke-width="1" />
<rect x="392.07" y="455.95" width="6.83" height="6.87" fill="#3c00c4" stroke="none" stroke-width="1" />
<rect x="398.85" y="455.95" width="6.83" height="6.87" fill="#3c00c4" stroke="none" stroke-width="1" />
<rect x="405.62" y="455.95" width="6.83" height="6.87" fill="#3c00c4" stroke="none" stroke-width="1" />
<rect x="412.40" y="455.95" width="6.83" height="6.87" fill="#3c00c4" stroke="none" stroke-width="1" />
<rect x="419.18" y="455.95" width="6.83" height="6.87" fill="#e00018" stroke="none" stroke-width="1" />
<rect x="425.95" y="455.95" width="6.83" height="6.87" fill="#3c00c4" stroke="none" stroke-width="1" />
<rect x="432.73" y="455.95" width="6.83" height="6.87" fill="#3c00c4" stroke="none" stroke-width="1" />
<rect x="439.50" y="455.95" width="6.83" height="6.87" fill="#f5a6aa" stroke="none" stroke-width="1" />
<rect x="446.27" y="455.95" width="6.83" height="6.87" fill="#3c00c4" stroke="none" stroke-width="1" />
<rect x="453.05" y="455.95" width="6.83" height="6.87" fill="#f5a6aa" stroke="none" stroke-width="1" />
<rect x="459.83" y="455.95" width="6.83" height="6.87" fill="#3c00c4" stroke="none" stroke-width="1" />
<rect x="304.00" y="462.77" width="6.83" height="6.87" fill="#f4e8f0" stroke="none" stroke-width="1" />
<rect x="310.77" y="462.77" width="6.83" height="6.87" fill="#e00018" stroke="none" stroke-width="1" />
<rect x="317.55" y="462.77" width="6.83" height="6.87" fill="#f06262" stroke="none" stroke-width="1" />
<rect x="324.32" y="462.77" width="6.83" height="6.87" fill="#f5a6aa" stroke="none" stroke-width="1" />
<rect x="331.10" y="462.77" width="6.83" height="6.87" fill="#f5a6aa" stroke="none" stroke-width="1" />
<rect x="337.88" y="462.77" width="6.83" height="6.87" fill="#f5a6aa" stroke="none" stroke-width="1" />
<rect x="344.65" y="462.77" width="6.83" height="6.87" fill="#f4e8f0" stroke="none" stroke-width="1" />
<rect x="351.43" y="462.77" width="6.83" height="6.87" fill="#3c00c4" stroke="none" stroke-width="1" />
<rect x="358.20" y="462.77" width="6.83" height="6.87" fill="#8682f4" stroke="none" stroke-width="1" />
<rect x="364.98" y="462.77" width="6.83" height="6.87" fill="#8682f4" stroke="none" stroke-width="1" />
<rect x="371.75" y="462.77" width="6.83" height="6.87" fill="#f06262" stroke="none" stroke-width="1" />
<rect x="378.52" y="462.77" width="6.83" height="6.87" fill="#8682f4" stroke="none" stroke-width="1" />
<rect x="385.30" y="462.77" width="6.83" height="6.87" fill="#8682f4" stroke="none" stroke-width="1" />
<rect x="392.07" y="462.77" width="6.83" height="6.87" fill="#3c00c4" stroke="none" stroke-width="1" />
<rect x="398.85" y="462.77" width="6.83" height="6.87" fill="#f4e8f0" stroke="none" stroke-width="1" />
<rect x="405.62" y="462.77" width="6.83" height="6.87" fill="#2c14ee" stroke="none" stroke-width="1" />
<rect x="412.40" y="462.77" width="6.83" height="6.87" fill="#3c00c4" stroke="none" stroke-width="1" />
<rect x="419.18" y="462.77" width="6.83" height="6.87" fill="#f06262" stroke="none" stroke-width="1" />
<rect x="425.95" y="462.77" width="6.83" height="6.87" fill="#3c00c4" stroke="none" stroke-width="1" />
<rect x="432.73" y="462.77" width="6.83" height="6.87" fill="#3c00c4" stroke="none" stroke-width="1" />
<rect x="439.50" y="462.77" width="6.83" height="6.87" fill="#f5a6aa" stroke="none" stroke-width="1" />
<rect x="446.27" y="462.77" width="6.83" height="6.87" fill="#2c14ee" stroke="none" stroke-width="1" />
<rect x="453.05" y="462.77" width="6.83" height="6.87" fill="#f5a6aa" stroke="none" stroke-width="1" />
<rect x="459.83" y="462.77" width="6.83" height="6.87" fill="#f4e8f0" stroke="none" stroke-width="1" />
<rect x="304.00" y="469.60" width="6.83" height="6.87" fill="#c4c2f8" stroke="none" stroke-width="1" />
<rect x="310.77" y="469.60" width="6.83" height="6.87" fill="#f4e8f0" stroke="none" stroke-width="1" />
<rect x="317.55" y="469.60" width="6.83" height="6.87" fill="#3c00c4" stroke="none" stroke-width="1" />
<rect x="324.32" y="469.60" width="6.83" height="6.87" fill="#f5a6aa" stroke="none" stroke-width="1" />
<rect x="331.10" y="469.60" width="6.83" height="6.87" fill="#f4e8f0" stroke="none" stroke-width="1" />
<rect x="337.88" y="469.60" width="6.83" height="6.87" fill="#c4c2f8" stroke="none" stroke-width="1" />
<rect x="344.65" y="469.60" width="6.83" height="6.87" fill="#f5a6aa" stroke="none" stroke-width="1" />
<rect x="351.43" y="469.60" width="6.83" height="6.87" fill="#8682f4" stroke="none" stroke-width="1" />
<rect x="358.20" y="469.60" width="6.83" height="6.87" fill="#f4e8f0" stroke="none" stroke-width="1" />
<rect x="364.98" y="469.60" width="6.83" height="6.87" fill="#8682f4" stroke="none" stroke-width="1" />
<rect x="371.75" y="469.60" width="6.83" height="6.87" fill="#3c00c4" stroke="none" stroke-width="1" />
<rect x="378.52" y="469.60" width="6.83" height="6.87" fill="#e00018" stroke="none" stroke-width="1" />
<rect x="385.30" y="469.60" width="6.83" height="6.87" fill="#3c00c4" stroke="none" stroke-width="1" />
<rect x="392.07" y="469.60" width="6.83" height="6.87" fill="#3c00c4" stroke="none" stroke-width="1" />
<rect x="398.85" y="469.60" width="6.83" height="6.87" fill="#3c00c4" stroke="none" stroke-width="1" />
<rect x="405.62" y="469.60" width="6.83" height="6.87" fill="#3c00c4" stroke="none" stroke-width="1" />
<rect x="412.40" y="469.60" width="6.83" height="6.87" fill="#3c00c4" stroke="none" stroke-width="1" />
<rect x="419.18" y="469.60" width="6.83" height="6.87" fill="#3c00c4" stroke="none" stroke-width="1" />
<rect x="425.95" y="469.60" width="6.83" height="6.87" fill="#3c00c4" stroke="none" stroke-width="1" />
<rect x="432.73" y="469.60" width="6.83" height="6.87" fill="#3c00c4" stroke="none" stroke-width="1" />
<rect x="439.50" y="469.60" width="6.83" height="6.87" fill="#f4e8f0" stroke="none" stroke-width="1" />
<rect x="446.27" y="469.60" width="6.83" height="6.87" fill="#f5a6aa" stroke="none" stroke-width="1" />
<rect x="453.05" y="469.60" width="6.83" height="6.87" fill="#8682f4" stroke="none" stroke-width="1" />
<rect x="459.83" y="469.60" width="6.83" height="6.87" fill="#3c00c4" stroke="none" stroke-width="1" />
<rect x="304.00" y="476.42" width="6.83" height="6.87" fill="#3c00c4" stroke="none" stroke-width="1" />
<rect x="310.77" y="476.42" width="6.83" height="6.87" fill="#3c00c4" stroke="none" stroke-width="1" />
<rect x="317.55" y="476.42" width="6.83" height="6.87" fill="#3c00c4" stroke="none" stroke-width="1" />
<rect x="324.32" y="476.42" width="6.83" height="6.87" fill="#3c00c4" stroke="none" stroke-width="1" />
<rect x="331.10" y="476.42" width="6.83" height="6.87" fill="#3c00c4" stroke="none" stroke-width="1" />
<rect x="337.88" y="476.42" width="6.83" height="6.87" fill="#3c00c4" stroke="none" stroke-width="1" />
<rect x="344.65" y="476.42" width="6.83" height="6.87" fill="#3c00c4" stroke="none" stroke-width="1" />
<rect x="351.43" y="476.42" width="6.83" height="6.87" fill="#3c00c4" stroke="none" stroke-width="1" />
<rect x="358.20" y="476.42" width="6.83" height="6.87" fill="#3c00c4" stroke="none" stroke-width="1" />
<rect x="364.98" y="476.42" width="6.83" height="6.87" fill="#3c00c4" stroke="none" stroke-width="1" />
<rect x="371.75" y="476.42" width="6.83" height="6.87" fill="#e00018" stroke="none" stroke-width="1" />
<rect x="378.52" y="476.42" width="6.83" height="6.87" fill="#3c00c4" stroke="none" stroke-width="1" />
<rect x="385.30" y="476.42" width="6.83" height="6.87" fill="#3c00c4" stroke="none" stroke-width="1" />
<rect x="392.07" y="476.42" width="6.83" height="6.87" fill="#3c00c4" stroke="none" stroke-width="1" />
<rect x="398.85" y="476.42" width="6.83" height="6.87" fill="#3c00c4" stroke="none" stroke-width="1" />
<rect x="405.62" y="476.42" width="6.83" height="6.87" fill="#3c00c4" stroke="none" stroke-width="1" />
<rect x="412.40" y="476.42" width="6.83" height="6.87" fill="#3c00c4" stroke="none" stroke-width="1" />
<rect x="419.18" y="476.42" width="6.83" height="6.87" fill="#3c00c4" stroke="none" stroke-width="1" />
<rect x="425.95" y="476.42" width="6.83" height="6.87" fill="#3c00c4" stroke="none" stroke-width="1" />
<rect x="432.73" y="476.42" width="6.83" height="6.87" fill="#3c00c4" stroke="none" stroke-width="1" />
<rect x="439.50" y="476.42" width="6.83" height="6.87" fill="#3c00c4" stroke="none" stroke-width="1" />
<rect x="446.27" y="476.42" width="6.83" height="6.87" fill="#3c00c4" stroke="none" stroke-width="1" />
<rect x="453.05" y="476.42" width="6.83" height="6.87" fill="#3c00c4" stroke="none" stroke-width="1" />
<rect x="459.83" y="476.42" width="6.83" height="6.87" fill="#3c00c4" stroke="none" stroke-width="1" />
<rect x="304.00" y="483.24" width="6.83" height="6.87" fill="#3c00c4" stroke="none" stroke-width="1" />
<rect x="310.77" y="483.24" width="6.83" height="6.87" fill="#3c00c4" stroke="none" stroke-width="1" />
<rect x="317.55" y="483.24" width="6.83" height="6.87" fill="#3c00c4" stroke="none" stroke-width="1" />
<rect x="324.32" y="483.24" width="6.83" height="6.87" fill="#e00018" stroke="none" stroke-width="1" />
<rect x="331.10" y="483.24" width="6.83" height="6.87" fill="#f4e8f0" stroke="none" stroke-width="1" />
<rect x="337.88" y="483.24" width="6.83" height="6.87" fill="#f4e8f0" stroke="none" stroke-width="1" />
<rect x="344.65" y="483.24" width="6.83" height="6.87" fill="#3c00c4" stroke="none" stroke-width="1" />
<rect x="351.43" y="483.24" width="6.83" height="6.87" fill="#3c00c4" stroke="none" stroke-width="1" />
<rect x="358.20" y="483.24" width="6.83" height="6.87" fill="#3c00c4" stroke="none" stroke-width="1" />
<rect x="364.98" y="483.24" width="6.83" height="6.87" fill="#f4e8f0" stroke="none" stroke-width="1" />
<rect x="371.75" y="483.24" width="6.83" height="6.87" fill="#8682f4" stroke="none" stroke-width="1" />
<rect x="378.52" y="483.24" width="6.83" height="6.87" fill="#3c00c4" stroke="none" stroke-width="1" />
<rect x="385.30" y="483.24" width="6.83" height="6.87" fill="#8682f4" stroke="none" stroke-width="1" />
<rect x="392.07" y="483.24" width="6.83" height="6.87" fill="#f4e8f0" stroke="none" stroke-width="1" />
<rect x="398.85" y="483.24" width="6.83" height="6.87" fill="#3c00c4" stroke="none" stroke-width="1" />
<rect x="405.62" y="483.24" width="6.83" height="6.87" fill="#3c00c4" stroke="none" stroke-width="1" />
<rect x="412.40" y="483.24" width="6.83" height="6.87" fill="#8682f4" stroke="none" stroke-width="1" />
<rect x="419.18" y="483.24" width="6.83" height="6.87" fill="#f5a6aa" stroke="none" stroke-width="1" />
<rect x="425.95" y="483.24" width="6.83" height="6.87" fill="#3c00c4" stroke="none" stroke-width="1" />
<rect x="432.73" y="483.24" width="6.83" height="6.87" fill="#8682f4" stroke="none" stroke-width="1" />
<rect x="439.50" y="483.24" width="6.83" height="6.87" fill="#3c00c4" stroke="none" stroke-width="1" />
<rect x="446.27" y="483.24" width="6.83" height="6.87" fill="#3c00c4" stroke="none" stroke-width="1" />
<rect x="453.05" y="483.24" width="6.83" height="6.87" fill="#f4e8f0" stroke="none" stroke-width="1" />
<rect x="459.83" y="483.24" width="6.83" height="6.87" fill="#3c00c4" stroke="none" stroke-width="1" />
<rect x="304.00" y="490.07" width="6.83" height="6.87" fill="#f5a6aa" stroke="none" stroke-width="1" />
<rect x="310.77" y="490.07" width="6.83" height="6.87" fill="#3c00c4" stroke="none" stroke-width="1" />
<rect x="317.55" y="490.07" width="6.83" height="6.87" fill="#3c00c4" stroke="none" stroke-width="1" />
<rect x="324.32" y="490.07" width="6.83" height="6.87" fill="#3c00c4" stroke="none" stroke-width="1" />
<rect x="331.10" y="490.07" width="6.83" height="6.87" fill="#3c00c4" stroke="none" stroke-width="1" />
<rect x="337.88" y="490.07" width="6.83" height="6.87" fill="#3c00c4" stroke="none" stroke-width="1" />
<rect x="344.65" y="490.07" width="6.83" height="6.87" fill="#f06262" stroke="none" stroke-width="1" />
<rect x="351.43" y="490.07" width="6.83" height="6.87" fill="#3c00c4" stroke="none" stroke-width="1" />
<rect x="358.20" y="490.07" width="6.83" height="6.87" fill="#e00018" stroke="none" stroke-width="1" />
<rect x="364.98" y="490.07" width="6.83" height="6.87" fill="#3c00c4" stroke="none" stroke-width="1" />
<rect x="371.75" y="490.07" width="6.83" height="6.87" fill="#f5a6aa" stroke="none" stroke-width="1" />
<rect x="378.52" y="490.07" width="6.83" height="6.87" fill="#3c00c4" stroke="none" stroke-width="1" />
<rect x="385.30" y="490.07" width="6.83" height="6.87" fill="#3c00c4" stroke="none" stroke-width="1" />
<rect x="392.07" y="490.07" width="6.83" height="6.87" fill="#3c00c4" stroke="none" stroke-width="1" />
<rect x="398.85" y="490.07" width="6.83" height="6.87" fill="#3c00c4" stroke="none" stroke-width="1" />
<rect x="405.62" y="490.07" width="6.83" height="6.87" fill="#3c00c4" stroke="none" stroke-width="1" />
<rect x="412.40" y="490.07" width="6.83" height="6.87" fill="#3c00c4" stroke="none" stroke-width="1" />
<rect x="419.18" y="490.07" width="6.83" height="6.87" fill="#3c00c4" stroke="none" stroke-width="1" />
<rect x="425.95" y="490.07" width="6.83" height="6.87" fill="#3c00c4" stroke="none" stroke-width="1" />
<rect x="432.73" y="490.07" width="6.83" height="6.87" fill="#3c00c4" stroke="none" stroke-width="1" />
<rect x="439.50" y="490.07" width="6.83" height="6.87" fill="#3c00c4" stroke="none" stroke-width="1" />
<rect x="446.27" y="490.07" width="6.83" height="6.87" fill="#3c00c4" stroke="none" stroke-width="1" />
<rect x="453.05" y="490.07" width="6.83" height="6.87" fill="#3c00c4" stroke="none" stroke-width="1" />
<rect x="459.83" y="490.07" width="6.83" height="6.87" fill="#3c00c4" stroke="none" stroke-width="1" />
<rect x="304.00" y="496.89" width="6.83" height="6.87" fill="#c4c2f8" stroke="none" stroke-width="1" />
<rect x="310.77" y="496.89" width="6.83" height="6.87" fill="#f4e8f0" stroke="none" stroke-width="1" />
<rect x="317.55" y="496.89" width="6.83" height="6.87" fill="#f4e8f0" stroke="none" stroke-width="1" />
<rect x="324.32" y="496.89" width="6.83" height="6.87" fill="#3c00c4" stroke="none" stroke-width="1" />
<rect x="331.10" y="496.89" width="6.83" height="6.87" fill="#f5a6aa" stroke="none" stroke-width="1" />
<rect x="337.88" y="496.89" width="6.83" height="6.87" fill="#c4c2f8" stroke="none" stroke-width="1" />
<rect x="344.65" y="496.89" width="6.83" height="6.87" fill="#8682f4" stroke="none" stroke-width="1" />
<rect x="351.43" y="496.89" width="6.83" height="6.87" fill="#f4e8f0" stroke="none" stroke-width="1" />
<rect x="358.20" y="496.89" width="6.83" height="6.87" fill="#c4c2f8" stroke="none" stroke-width="1" />
<rect x="364.98" y="496.89" width="6.83" height="6.87" fill="#f5a6aa" stroke="none" stroke-width="1" />
<rect x="371.75" y="496.89" width="6.83" height="6.87" fill="#3c00c4" stroke="none" stroke-width="1" />
<rect x="378.52" y="496.89" width="6.83" height="6.87" fill="#8682f4" stroke="none" stroke-width="1" />
<rect x="385.30" y="496.89" width="6.83" height="6.87" fill="#f5a6aa" stroke="none" stroke-width="1" />
<rect x="392.07" y="496.89" width="6.83" height="6.87" fill="#f4e8f0" stroke="none" stroke-width="1" />
<rect x="398.85" y="496.89" width="6.83" height="6.87" fill="#8682f4" stroke="none" stroke-width="1" />
<rect x="405.62" y="496.89" width="6.83" height="6.87" fill="#f5a6aa" stroke="none" stroke-width="1" />
<rect x="412.40" y="496.89" width="6.83" height="6.87" fill="#3c00c4" stroke="none" stroke-width="1" />
<rect x="419.18" y="496.89" width="6.83" height="6.87" fill="#e00018" stroke="none" stroke-width="1" />
<rect x="425.95" y="496.89" width="6.83" height="6.87" fill="#c4c2f8" stroke="none" stroke-width="1" />
<rect x="432.73" y="496.89" width="6.83" height="6.87" fill="#c4c2f8" stroke="none" stroke-width="1" />
<rect x="439.50" y="496.89" width="6.83" height="6.87" fill="#f5a6aa" stroke="none" stroke-width="1" />
<rect x="446.27" y="496.89" width="6.83" height="6.87" fill="#3c00c4" stroke="none" stroke-width="1" />
<rect x="453.05" y="496.89" width="6.83" height="6.87" fill="#f4e8f0" stroke="none" stroke-width="1" />
<rect x="459.83" y="496.89" width="6.83" height="6.87" fill="#f5a6aa" stroke="none" stroke-width="1" />
<rect x="304.00" y="503.72" width="6.83" height="6.87" fill="#8682f4" stroke="none" stroke-width="1" />
<rect x="310.77" y="503.72" width="6.83" height="6.87" fill="#f4e8f0" stroke="none" stroke-width="1" />
<rect x="317.55" y="503.72" width="6.83" height="6.87" fill="#c4c2f8" stroke="none" stroke-width="1" />
<rect x="324.32" y="503.72" width="6.83" height="6.87" fill="#f06262" stroke="none" stroke-width="1" />
<rect x="331.10" y="503.72" width="6.83" height="6.87" fill="#f5a6aa" stroke="none" stroke-width="1" />
<rect x="337.88" y="503.72" width="6.83" height="6.87" fill="#f5a6aa" stroke="none" stroke-width="1" />
<rect x="344.65" y="503.72" width="6.83" height="6.87" fill="#c4c2f8" stroke="none" stroke-width="1" />
<rect x="351.43" y="503.72" width="6.83" height="6.87" fill="#3c00c4" stroke="none" stroke-width="1" />
<rect x="358.20" y="503.72" width="6.83" height="6.87" fill="#8682f4" stroke="none" stroke-width="1" />
<rect x="364.98" y="503.72" width="6.83" height="6.87" fill="#f06262" stroke="none" stroke-width="1" />
<rect x="371.75" y="503.72" width="6.83" height="6.87" fill="#f4e8f0" stroke="none" stroke-width="1" />
<rect x="378.52" y="503.72" width="6.83" height="6.87" fill="#f5a6aa" stroke="none" stroke-width="1" />
<rect x="385.30" y="503.72" width="6.83" height="6.87" fill="#3c00c4" stroke="none" stroke-width="1" />
<rect x="392.07" y="503.72" width="6.83" height="6.87" fill="#e00018" stroke="none" stroke-width="1" />
<rect x="398.85" y="503.72" width="6.83" height="6.87" fill="#3c00c4" stroke="none" stroke-width="1" />
<rect x="405.62" y="503.72" width="6.83" height="6.87" fill="#8682f4" stroke="none" stroke-width="1" />
<rect x="412.40" y="503.72" width="6.83" height="6.87" fill="#8682f4" stroke="none" stroke-width="1" />
<rect x="419.18" y="503.72" width="6.83" height="6.87" fill="#f06262" stroke="none" stroke-width="1" />
<rect x="425.95" y="503.72" width="6.83" height="6.87" fill="#8682f4" stroke="none" stroke-width="1" />
<rect x="432.73" y="503.72" width="6.83" height="6.87" fill="#f5a6aa" stroke="none" stroke-width="1" />
<rect x="439.50" y="503.72" width="6.83" height="6.87" fill="#8682f4" stroke="none" stroke-width="1" />
<rect x="446.27" y="503.72" width="6.83" height="6.87" fill="#8682f4" stroke="none" stroke-width="1" />
<rect x="453.05" y="503.72" width="6.83" height="6.87" fill="#f4e8f0" stroke="none" stroke-width="1" />
<rect x="459.83" y="503.72" width="6.83" height="6.87" fill="#8682f4" stroke="none" stroke-width="1" />
<rect x="304.00" y="510.54" width="6.83" height="6.87" fill="#f4e8f0" stroke="none" stroke-width="1" />
<rect x="310.77" y="510.54" width="6.83" height="6.87" fill="#e00018" stroke="none" stroke-width="1" />
<rect x="317.55" y="510.54" width="6.83" height="6.87" fill="#f06262" stroke="none" stroke-width="1" />
<rect x="324.32" y="510.54" width="6.83" height="6.87" fill="#f06262" stroke="none" stroke-width="1" />
<rect x="331.10" y="510.54" width="6.83" height="6.87" fill="#e00018" stroke="none" stroke-width="1" />
<rect x="337.88" y="510.54" width="6.83" height="6.87" fill="#f5a6aa" stroke="none" stroke-width="1" />
<rect x="344.65" y="510.54" width="6.83" height="6.87" fill="#f5a6aa" stroke="none" stroke-width="1" />
<rect x="351.43" y="510.54" width="6.83" height="6.87" fill="#f5a6aa" stroke="none" stroke-width="1" />
<rect x="358.20" y="510.54" width="6.83" height="6.87" fill="#f06262" stroke="none" stroke-width="1" />
<rect x="364.98" y="510.54" width="6.83" height="6.87" fill="#f06262" stroke="none" stroke-width="1" />
<rect x="371.75" y="510.54" width="6.83" height="6.87" fill="#c4c2f8" stroke="none" stroke-width="1" />
<rect x="378.52" y="510.54" width="6.83" height="6.87" fill="#f5a6aa" stroke="none" stroke-width="1" />
<rect x="385.30" y="510.54" width="6.83" height="6.87" fill="#8682f4" stroke="none" stroke-width="1" />
<rect x="392.07" y="510.54" width="6.83" height="6.87" fill="#3c00c4" stroke="none" stroke-width="1" />
<rect x="398.85" y="510.54" width="6.83" height="6.87" fill="#3c00c4" stroke="none" stroke-width="1" />
<rect x="405.62" y="510.54" width="6.83" height="6.87" fill="#3c00c4" stroke="none" stroke-width="1" />
<rect x="412.40" y="510.54" width="6.83" height="6.87" fill="#8682f4" stroke="none" stroke-width="1" />
<rect x="419.18" y="510.54" width="6.83" height="6.87" fill="#3c00c4" stroke="none" stroke-width="1" />
<rect x="425.95" y="510.54" width="6.83" height="6.87" fill="#f4e8f0" stroke="none" stroke-width="1" />
<rect x="432.73" y="510.54" width="6.83" height="6.87" fill="#3c00c4" stroke="none" stroke-width="1" />
<rect x="439.50" y="510.54" width="6.83" height="6.87" fill="#2c14ee" stroke="none" stroke-width="1" />
<rect x="446.27" y="510.54" width="6.83" height="6.87" fill="#3c00c4" stroke="none" stroke-width="1" />
<rect x="453.05" y="510.54" width="6.83" height="6.87" fill="#3c00c4" stroke="none" stroke-width="1" />
<rect x="459.83" y="510.54" width="6.83" height="6.87" fill="#f5a6aa" stroke="none" stroke-width="1" />
<rect x="304.00" y="517.36" width="6.83" height="6.87" fill="#f5a6aa" stroke="none" stroke-width="1" />
<rect x="310.77" y="517.36" width="6.83" height="6.87" fill="#f06262" stroke="none" stroke-width="1" />
<rect x="317.55" y="517.36" width="6.83" height="6.87" fill="#f5a6aa" stroke="none" stroke-width="1" />
<rect x="324.32" y="517.36" width="6.83" height="6.87" fill="#e00018" stroke="none" stroke-width="1" />
<rect x="331.10" y="517.36" width="6.83" height="6.87" fill="#f06262" stroke="none" stroke-width="1" />
<rect x="337.88" y="517.36" width="6.83" height="6.87" fill="#f5a6aa" stroke="none" stroke-width="1" />
<rect x="344.65" y="517.36" width="6.83" height="6.87" fill="#f06262" stroke="none" stroke-width="1" />
<rect x="351.43" y="517.36" width="6.83" height="6.87" fill="#f4e8f0" stroke="none" stroke-width="1" />
<rect x="358.20" y="517.36" width="6.83" height="6.87" fill="#f5a6aa" stroke="none" stroke-width="1" />
<rect x="364.98" y="517.36" width="6.83" height="6.87" fill="#f06262" stroke="none" stroke-width="1" />
<rect x="371.75" y="517.36" width="6.83" height="6.87" fill="#f4e8f0" stroke="none" stroke-width="1" />
<rect x="378.52" y="517.36" width="6.83" height="6.87" fill="#f5a6aa" stroke="none" stroke-width="1" />
<rect x="385.30" y="517.36" width="6.83" height="6.87" fill="#8682f4" stroke="none" stroke-width="1" />
<rect x="392.07" y="517.36" width="6.83" height="6.87" fill="#8682f4" stroke="none" stroke-width="1" />
<rect x="398.85" y="517.36" width="6.83" height="6.87" fill="#3c00c4" stroke="none" stroke-width="1" />
<rect x="405.62" y="517.36" width="6.83" height="6.87" fill="#8682f4" stroke="none" stroke-width="1" />
<rect x="412.40" y="517.36" width="6.83" height="6.87" fill="#f4e8f0" stroke="none" stroke-width="1" />
<rect x="419.18" y="517.36" width="6.83" height="6.87" fill="#c4c2f8" stroke="none" stroke-width="1" />
<rect x="425.95" y="517.36" width="6.83" height="6.87" fill="#3c00c4" stroke="none" stroke-width="1" />
<rect x="432.73" y="517.36" width="6.83" height="6.87" fill="#3c00c4" stroke="none" stroke-width="1" />
<rect x="439.50" y="517.36" width="6.83" height="6.87" fill="#3c00c4" stroke="none" stroke-width="1" />
<rect x="446.27" y="517.36" width="6.83" height="6.87" fill="#3c00c4" stroke="none" stroke-width="1" />
<rect x="453.05" y="517.36" width="6.83" height="6.87" fill="#f5a6aa" stroke="none" stroke-width="1" />
<rect x="459.83" y="517.36" width="6.83" height="6.87" fill="#3c00c4" stroke="none" stroke-width="1" />
<rect x="304.00" y="524.19" width="6.83" height="6.87" fill="#8682f4" stroke="none" stroke-width="1" />
<rect x="310.77" y="524.19" width="6.83" height="6.87" fill="#8682f4" stroke="none" stroke-width="1" />
<rect x="317.55" y="524.19" width="6.83" height="6.87" fill="#3c00c4" stroke="none" stroke-width="1" />
<rect x="324.32" y="524.19" width="6.83" height="6.87" fill="#e00018" stroke="none" stroke-width="1" />
<rect x="331.10" y="524.19" width="6.83" height="6.87" fill="#c4c2f8" stroke="none" stroke-width="1" />
<rect x="337.88" y="524.19" width="6.83" height="6.87" fill="#3c00c4" stroke="none" stroke-width="1" />
<rect x="344.65" y="524.19" width="6.83" height="6.87" fill="#f06262" stroke="none" stroke-width="1" />
<rect x="351.43" y="524.19" width="6.83" height="6.87" fill="#8682f4" stroke="none" stroke-width="1" />
<rect x="358.20" y="524.19" width="6.83" height="6.87" fill="#f06262" stroke="none" stroke-width="1" />
<rect x="364.98" y="524.19" width="6.83" height="6.87" fill="#f5a6aa" stroke="none" stroke-width="1" />
<rect x="371.75" y="524.19" width="6.83" height="6.87" fill="#f4e8f0" stroke="none" stroke-width="1" />
<rect x="378.52" y="524.19" width="6.83" height="6.87" fill="#f06262" stroke="none" stroke-width="1" />
<rect x="385.30" y="524.19" width="6.83" height="6.87" fill="#8682f4" stroke="none" stroke-width="1" />
<rect x="392.07" y="524.19" width="6.83" height="6.87" fill="#f5a6aa" stroke="none" stroke-width="1" />
<rect x="398.85" y="524.19" width="6.83" height="6.87" fill="#3c00c4" stroke="none" stroke-width="1" />
<rect x="405.62" y="524.19" width="6.83" height="6.87" fill="#3c00c4" stroke="none" stroke-width="1" />
<rect x="412.40" y="524.19" width="6.83" height="6.87" fill="#8682f4" stroke="none" stroke-width="1" />
<rect x="419.18" y="524.19" width="6.83" height="6.87" fill="#f5a6aa" stroke="none" stroke-width="1" />
<rect x="425.95" y="524.19" width="6.83" height="6.87" fill="#8682f4" stroke="none" stroke-width="1" />
<rect x="432.73" y="524.19" width="6.83" height="6.87" fill="#f5a6aa" stroke="none" stroke-width="1" />
<rect x="439.50" y="524.19" width="6.83" height="6.87" fill="#8682f4" stroke="none" stroke-width="1" />
<rect x="446.27" y="524.19" width="6.83" height="6.87" fill="#2c14ee" stroke="none" stroke-width="1" />
<rect x="453.05" y="524.19" width="6.83" height="6.87" fill="#f4e8f0" stroke="none" stroke-width="1" />
<rect x="459.83" y="524.19" width="6.83" height="6.87" fill="#3c00c4" stroke="none" stroke-width="1" />
<rect x="304.00" y="531.01" width="6.83" height="6.87" fill="#f5a6aa" stroke="none" stroke-width="1" />
<rect x="310.77" y="531.01" width="6.83" height="6.87" fill="#3c00c4" stroke="none" stroke-width="1" />
<rect x="317.55" y="531.01" width="6.83" height="6.87" fill="#3c00c4" stroke="none" stroke-width="1" />
<rect x="324.32" y="531.01" width="6.83" height="6.87" fill="#c4c2f8" stroke="none" stroke-width="1" />
<rect x="331.10" y="531.01" width="6.83" height="6.87" fill="#c4c2f8" stroke="none" stroke-width="1" />
<rect x="337.88" y="531.01" width="6.83" height="6.87" fill="#f5a6aa" stroke="none" stroke-width="1" />
<rect x="344.65" y="531.01" width="6.83" height="6.87" fill="#f06262" stroke="none" stroke-width="1" />
<rect x="351.43" y="531.01" width="6.83" height="6.87" fill="#c4c2f8" stroke="none" stroke-width="1" />
<rect x="358.20" y="531.01" width="6.83" height="6.87" fill="#c4c2f8" stroke="none" stroke-width="1" />
<rect x="364.98" y="531.01" width="6.83" height="6.87" fill="#f06262" stroke="none" stroke-width="1" />
<rect x="371.75" y="531.01" width="6.83" height="6.87" fill="#c4c2f8" stroke="none" stroke-width="1" />
<rect x="378.52" y="531.01" width="6.83" height="6.87" fill="#e00018" stroke="none" stroke-width="1" />
<rect x="385.30" y="531.01" width="6.83" height="6.87" fill="#3c00c4" stroke="none" stroke-width="1" />
<rect x="392.07" y="531.01" width="6.83" height="6.87" fill="#f5a6aa" stroke="none" stroke-width="1" />
<rect x="398.85" y="531.01" width="6.83" height="6.87" fill="#3c00c4" stroke="none" stroke-width="1" />
<rect x="405.62" y="531.01" width="6.83" height="6.87" fill="#f5a6aa" stroke="none" stroke-width="1" />
<rect x="412.40" y="531.01" width="6.83" height="6.87" fill="#f5a6aa" stroke="none" stroke-width="1" />
<rect x="419.18" y="531.01" width="6.83" height="6.87" fill="#f5a6aa" stroke="none" stroke-width="1" />
<rect x="425.95" y="531.01" width="6.83" height="6.87" fill="#3c00c4" stroke="none" stroke-width="1" />
<rect x="432.73" y="531.01" width="6.83" height="6.87" fill="#f5a6aa" stroke="none" stroke-width="1" />
<rect x="439.50" y="531.01" width="6.83" height="6.87" fill="#8682f4" stroke="none" stroke-width="1" />
<rect x="446.27" y="531.01" width="6.83" height="6.87" fill="#8682f4" stroke="none" stroke-width="1" />
<rect x="453.05" y="531.01" width="6.83" height="6.87" fill="#8682f4" stroke="none" stroke-width="1" />
<rect x="459.83" y="531.01" width="6.83" height="6.87" fill="#3c00c4" stroke="none" stroke-width="1" />
<rect x="304.00" y="537.84" width="6.83" height="6.87" fill="#8682f4" stroke="none" stroke-width="1" />
<rect x="310.77" y="537.84" width="6.83" height="6.87" fill="#2c14ee" stroke="none" stroke-width="1" />
<rect x="317.55" y="537.84" width="6.83" height="6.87" fill="#f5a6aa" stroke="none" stroke-width="1" />
<rect x="324.32" y="537.84" width="6.83" height="6.87" fill="#f5a6aa" stroke="none" stroke-width="1" />
<rect x="331.10" y="537.84" width="6.83" height="6.87" fill="#f4e8f0" stroke="none" stroke-width="1" />
<rect x="337.88" y="537.84" width="6.83" height="6.87" fill="#f5a6aa" stroke="none" stroke-width="1" />
<rect x="344.65" y="537.84" width="6.83" height="6.87" fill="#c4c2f8" stroke="none" stroke-width="1" />
<rect x="351.43" y="537.84" width="6.83" height="6.87" fill="#f5a6aa" stroke="none" stroke-width="1" />
<rect x="358.20" y="537.84" width="6.83" height="6.87" fill="#f5a6aa" stroke="none" stroke-width="1" />
<rect x="364.98" y="537.84" width="6.83" height="6.87" fill="#f06262" stroke="none" stroke-width="1" />
<rect x="371.75" y="537.84" width="6.83" height="6.87" fill="#f5a6aa" stroke="none" stroke-width="1" />
<rect x="378.52" y="537.84" width="6.83" height="6.87" fill="#c4c2f8" stroke="none" stroke-width="1" />
<rect x="385.30" y="537.84" width="6.83" height="6.87" fill="#3c00c4" stroke="none" stroke-width="1" />
<rect x="392.07" y="537.84" width="6.83" height="6.87" fill="#3c00c4" stroke="none" stroke-width="1" />
<rect x="398.85" y="537.84" width="6.83" height="6.87" fill="#c4c2f8" stroke="none" stroke-width="1" />
<rect x="405.62" y="537.84" width="6.83" height="6.87" fill="#8682f4" stroke="none" stroke-width="1" />
<rect x="412.40" y="537.84" width="6.83" height="6.87" fill="#8682f4" stroke="none" stroke-width="1" />
<rect x="419.18" y="537.84" width="6.83" height="6.87" fill="#e00018" stroke="none" stroke-width="1" />
<rect x="425.95" y="537.84" width="6.83" height="6.87" fill="#3c00c4" stroke="none" stroke-width="1" />
<rect x="432.73" y="537.84" width="6.83" height="6.87" fill="#c4c2f8" stroke="none" stroke-width="1" />
<rect x="439.50" y="537.84" width="6.83" height="6.87" fill="#3c00c4" stroke="none" stroke-width="1" />
<rect x="446.27" y="537.84" width="6.83" height="6.87" fill="#3c00c4" stroke="none" stroke-width="1" />
<rect x="453.05" y="537.84" width="6.83" height="6.87" fill="#3c00c4" stroke="none" stroke-width="1" />
<rect x="459.83" y="537.84" width="6.83" height="6.87" fill="#8682f4" stroke="none" stroke-width="1" />
<rect x="304.00" y="544.66" width="6.83" height="6.87" fill="#c4c2f8" stroke="none" stroke-width="1" />
<rect x="310.77" y="544.66" width="6.83" height="6.87" fill="#f4e8f0" stroke="none" stroke-width="1" />
<rect x="317.55" y="544.66" width="6.83" height="6.87" fill="#8682f4" stroke="none" stroke-width="1" />
<rect x="324.32" y="544.66" width="6.83" height="6.87" fill="#f4e8f0" stroke="none" stroke-width="1" />
<rect x="331.10" y="544.66" width="6.83" height="6.87" fill="#8682f4" stroke="none" stroke-width="1" />
<rect x="337.88" y="544.66" width="6.83" height="6.87" fill="#f5a6aa" stroke="none" stroke-width="1" />
<rect x="344.65" y="544.66" width="6.83" height="6.87" fill="#f5a6aa" stroke="none" stroke-width="1" />
<rect x="351.43" y="544.66" width="6.83" height="6.87" fill="#c4c2f8" stroke="none" stroke-width="1" />
<rect x="358.20" y="544.66" width="6.83" height="6.87" fill="#c4c2f8" stroke="none" stroke-width="1" />
<rect x="364.98" y="544.66" width="6.83" height="6.87" fill="#f5a6aa" stroke="none" stroke-width="1" />
<rect x="371.75" y="544.66" width="6.83" height="6.87" fill="#e00018" stroke="none" stroke-width="1" />
<rect x="378.52" y="544.66" width="6.83" height="6.87" fill="#f5a6aa" stroke="none" stroke-width="1" />
<rect x="385.30" y="544.66" width="6.83" height="6.87" fill="#8682f4" stroke="none" stroke-width="1" />
<rect x="392.07" y="544.66" width="6.83" height="6.87" fill="#3c00c4" stroke="none" stroke-width="1" />
<rect x="398.85" y="544.66" width="6.83" height="6.87" fill="#8682f4" stroke="none" stroke-width="1" />
<rect x="405.62" y="544.66" width="6.83" height="6.87" fill="#f4e8f0" stroke="none" stroke-width="1" />
<rect x="412.40" y="544.66" width="6.83" height="6.87" fill="#f4e8f0" stroke="none" stroke-width="1" />
<rect x="419.18" y="544.66" width="6.83" height="6.87" fill="#f5a6aa" stroke="none" stroke-width="1" />
<rect x="425.95" y="544.66" width="6.83" height="6.87" fill="#3c00c4" stroke="none" stroke-width="1" />
<rect x="432.73" y="544.66" width="6.83" height="6.87" fill="#f5a6aa" stroke="none" stroke-width="1" />
<rect x="439.50" y="544.66" width="6.83" height="6.87" fill="#8682f4" stroke="none" stroke-width="1" />
<rect x="446.27" y="544.66" width="6.83" height="6.87" fill="#8682f4" stroke="none" stroke-width="1" />
<rect x="453.05" y="544.66" width="6.83" height="6.87" fill="#8682f4" stroke="none" stroke-width="1" />
<rect x="459.83" y="544.66" width="6.83" height="6.87" fill="#8682f4" stroke="none" stroke-width="1" />
<path d="M304.00,271.70V551.48M310.77,271.70V551.48M317.55,271.70V551.48M324.32,271.70V551.48M331.10,271.70V551.48M337.88,271.70V551.48M344.65,271.70V551.48M351.43,271.70V551.48M358.20,271.70V551.48M364.98,271.70V551.48M371.75,271.70V551.48M378.52,271.70V551.48M385.30,271.70V551.48M392.07,271.70V551.48M398.85,271.70V551.48M405.62,271.70V551.48M412.40,271.70V551.48M419.18,271.70V551.48M425.95,271.70V551.48M432.73,271.70V551.48M439.50,271.70V551.48M446.27,271.70V551.48M453.05,271.70V551.48M459.83,271.70V551.48M466.60,271.70V551.48M304.00,271.70H466.60M304.00,278.52H466.60M304.00,285.35H466.60M304.00,292.17H466.60M304.00,299.00H466.60M304.00,305.82H466.60M304.00,312.64H466.60M304.00,319.47H466.60M304.00,326.29H466.60M304.00,333.12H466.60M304.00,339.94H466.60M304.00,346.76H466.60M304.00,353.59H466.60M304.00,360.41H466.60M304.00,367.24H466.60M304.00,374.06H466.60M304.00,380.88H466.60M304.00,387.71H466.60M304.00,394.53H466.60M304.00,401.36H466.60M304.00,408.18H466.60M304.00,415.00H466.60M304.00,421.83H466.60M304.00,428.65H466.60M304.00,435.48H466.60M304.00,442.30H466.60M304.00,449.12H466.60M304.00,455.95H466.60M304.00,462.77H466.60M304.00,469.60H466.60M304.00,476.42H466.60M304.00,483.24H466.60M304.00,490.07H466.60M304.00,496.89H466.60M304.00,503.72H466.60M304.00,510.54H466.60M304.00,517.36H466.60M304.00,524.19H466.60M304.00,531.01H466.60M304.00,537.84H466.60M304.00,544.66H466.60M304.00,551.48H466.60" stroke="#12001e" stroke-width="1.0" stroke-opacity="0.9" fill="none"/>
<text x="470.60" y="276.70" font-size="6.6" >Fhl1</text>
<text x="470.60" y="283.52" font-size="6.6" >Cdh16</text>
<text x="470.60" y="290.35" font-size="6.6" >Pax8</text>
<text x="470.60" y="297.17" font-size="6.6" >Nkx2-1</text>
<text x="470.60" y="304.00" font-size="6.6" >Slc4a4</text>
<text x="470.60" y="310.82" font-size="6.6" >Tg</text>
<text x="470.60" y="317.64" font-size="6.6" >Tfcp2l1</text>
<text x="470.60" y="324.47" font-size="6.6" >Foxe1</text>
<text x="470.60" y="331.29" font-size="6.6" >Glis3</text>
<text x="470.60" y="338.12" font-size="6.6" >Dlg2</text>
<text x="470.60" y="344.94" font-size="6.6" >Mpped2</text>
<text x="470.60" y="351.76" font-size="6.6" >Slc5A5</text>
<text x="470.60" y="358.59" font-size="6.6" >Zmat4</text>
<text x="470.60" y="365.41" font-size="6.6" >Pla2r1</text>
<text x="470.60" y="372.24" font-size="6.6" >Lmod1</text>
<text x="470.60" y="379.06" font-size="6.6" >Flrt1</text>
<text x="470.60" y="385.88" font-size="6.6" >Tpo</text>
<text x="470.60" y="392.71" font-size="6.6" >Thra</text>
<text x="470.60" y="399.53" font-size="6.6" >Pkhd1l1</text>
<text x="470.60" y="406.36" font-size="6.6" >Dio2</text>
<text x="470.60" y="413.18" font-size="6.6" >Slc26a4</text>
<text x="470.60" y="420.00" font-size="6.6" >Lrp2</text>
<text x="470.60" y="426.83" font-size="6.6" >Dpp6</text>
<text x="470.60" y="433.65" font-size="6.6" >Dio1</text>
<text x="470.60" y="440.48" font-size="6.6" >Grin2c</text>
<text x="470.60" y="447.30" font-size="6.6" >Duox1</text>
<text x="470.60" y="454.12" font-size="6.6" >Bcl2</text>
<text x="470.60" y="460.95" font-size="6.6" >Slc26a7</text>
<text x="470.60" y="467.77" font-size="6.6" >Sorbs2</text>
<text x="470.60" y="474.60" font-size="6.6" >Tshr</text>
<text x="470.60" y="481.42" font-size="6.6" >Tff3</text>
<text x="470.60" y="488.24" font-size="6.6" >Clonkb</text>
<text x="470.60" y="495.07" font-size="6.6" >Stxbp5l</text>
<text x="470.60" y="501.89" font-size="6.6" >Kit</text>
<text x="470.60" y="508.72" font-size="6.6" >Thrb</text>
<text x="470.60" y="515.54" font-size="6.6" >Hgd</text>
<text x="470.60" y="522.36" font-size="6.6" >Matn2</text>
<text x="470.60" y="529.19" font-size="6.6" >Tppp</text>
<text x="470.60" y="536.01" font-size="6.6" >Gpm6a</text>
<text x="470.60" y="542.84" font-size="6.6" >Slc5ab</text>
<text x="470.60" y="549.66" font-size="6.6" >Duox2</text>
<text x="471.50" y="261.10" font-size="7.8" textLength="48.30" lengthAdjust="spacingAndGlyphs" text-decoration="underline">Differentiation</text>
<text x="479.00" y="269.80" font-size="7.8" textLength="32.90" lengthAdjust="spacingAndGlyphs" text-decoration="underline">Signature</text>
<text x="22.20" y="465.50" font-size="14.4" font-weight="bold" >E</text>
<line x1="72.70" y1="460.90" x2="72.70" y2="499.60" stroke="#000" stroke-width="1.3" />
<line x1="72.70" y1="505.20" x2="72.70" y2="551.80" stroke="#000" stroke-width="1.3" />
<line x1="70.00" y1="499.60" x2="75.40" y2="499.60" stroke="#000" stroke-width="1.3" />
<line x1="70.00" y1="505.20" x2="75.40" y2="505.20" stroke="#000" stroke-width="1.3" />
<line x1="70.20" y1="471.80" x2="72.70" y2="471.80" stroke="#000" stroke-width="1.2" />
<text x="70.40" y="473.90" font-size="6.0" font-weight="bold" text-anchor="end" >2×10<tspan font-size="4.2" dy="-2.4">4</tspan></text>
<line x1="70.20" y1="486.10" x2="72.70" y2="486.10" stroke="#000" stroke-width="1.2" />
<text x="70.40" y="488.20" font-size="6.0" font-weight="bold" text-anchor="end" >1×10<tspan font-size="4.2" dy="-2.4">4</tspan></text>
<line x1="70.20" y1="512.20" x2="72.70" y2="512.20" stroke="#000" stroke-width="1.2" />
<text x="70.40" y="514.30" font-size="6.0" font-weight="bold" text-anchor="end" >6×10<tspan font-size="4.2" dy="-2.4">2</tspan></text>
<line x1="70.20" y1="524.60" x2="72.70" y2="524.60" stroke="#000" stroke-width="1.2" />
<text x="70.40" y="526.70" font-size="6.0" font-weight="bold" text-anchor="end" >4×10<tspan font-size="4.2" dy="-2.4">2</tspan></text>
<line x1="70.20" y1="537.90" x2="72.70" y2="537.90" stroke="#000" stroke-width="1.2" />
<text x="70.40" y="540.00" font-size="6.0" font-weight="bold" text-anchor="end" >2×10<tspan font-size="4.2" dy="-2.4">2</tspan></text>
<text x="70.20" y="553.20" font-size="6.0" font-weight="bold" text-anchor="end" >0</text>
<text transform="translate(45.7,505.0) rotate(-90)" font-size="7.4" font-weight="bold" text-anchor="middle" textLength="48.5" lengthAdjust="spacingAndGlyphs">% of Baseline</text>
<line x1="72.10" y1="551.20" x2="208.50" y2="551.20" stroke="#000" stroke-width="1.4" />
<line x1="88.20" y1="551.20" x2="88.20" y2="554.20" stroke="#000" stroke-width="1.1" />
<line x1="123.20" y1="551.20" x2="123.20" y2="554.20" stroke="#000" stroke-width="1.1" />
<line x1="158.20" y1="551.20" x2="158.20" y2="554.20" stroke="#000" stroke-width="1.1" />
<line x1="193.10" y1="551.20" x2="193.10" y2="554.20" stroke="#000" stroke-width="1.1" />
<path d="M75.40,551.20V544.30H82.30V551.20" fill="none" stroke="#111" stroke-width="1.3"/>
<line x1="78.85" y1="544.30" x2="78.85" y2="541.50" stroke="#111" stroke-width="1.0" />
<line x1="77.05" y1="541.50" x2="80.65" y2="541.50" stroke="#111" stroke-width="1.0" />
<circle cx="77.20" cy="546.00" r="0.9" fill="#111"/>
<circle cx="80.20" cy="545.50" r="0.9" fill="#111"/>
<circle cx="78.60" cy="548.00" r="0.9" fill="#111"/>
<path d="M85.00,551.20V544.60H91.80V551.20" fill="none" stroke="#d03838" stroke-width="1.3"/>
<line x1="88.40" y1="544.60" x2="88.40" y2="542.80" stroke="#d03838" stroke-width="1.0" />
<line x1="86.60" y1="542.80" x2="90.20" y2="542.80" stroke="#d03838" stroke-width="1.0" />
<circle cx="86.80" cy="545.60" r="0.9" fill="#d03838"/>
<circle cx="89.50" cy="546.60" r="0.9" fill="#d03838"/>
<circle cx="90.60" cy="545.20" r="0.9" fill="#d03838"/>
<path d="M94.60,551.20V544.30H101.50V551.20" fill="none" stroke="#2828c8" stroke-width="1.3"/>
<line x1="98.05" y1="544.30" x2="98.05" y2="535.80" stroke="#2828c8" stroke-width="1.0" />
<line x1="96.25" y1="535.80" x2="99.85" y2="535.80" stroke="#2828c8" stroke-width="1.0" />
<circle cx="96.60" cy="547.20" r="0.9" fill="#2828c8"/>
<circle cx="99.00" cy="548.30" r="0.9" fill="#2828c8"/>
<circle cx="98.00" cy="545.60" r="0.9" fill="#2828c8"/>
<path d="M110.30,551.20V544.80H116.90V551.20" fill="none" stroke="#111" stroke-width="1.3"/>
<line x1="113.60" y1="544.80" x2="113.60" y2="541.80" stroke="#111" stroke-width="1.0" />
<line x1="111.80" y1="541.80" x2="115.40" y2="541.80" stroke="#111" stroke-width="1.0" />
<circle cx="112.50" cy="547.80" r="0.9" fill="#111"/>
<circle cx="115.00" cy="546.20" r="0.9" fill="#111"/>
<path d="M119.50,551.20V542.60H126.90V551.20" fill="none" stroke="#d03838" stroke-width="1.3"/>
<line x1="123.20" y1="542.60" x2="123.20" y2="539.20" stroke="#d03838" stroke-width="1.0" />
<line x1="121.40" y1="539.20" x2="125.00" y2="539.20" stroke="#d03838" stroke-width="1.0" />
<circle cx="121.50" cy="545.00" r="0.9" fill="#d03838"/>
<circle cx="124.50" cy="544.00" r="0.9" fill="#d03838"/>
<circle cx="123.00" cy="547.50" r="0.9" fill="#d03838"/>
<line x1="129.20" y1="551.20" x2="129.20" y2="505.60" stroke="#2828c8" stroke-width="1.3" />
<line x1="136.50" y1="551.20" x2="136.50" y2="505.60" stroke="#2828c8" stroke-width="1.3" />
<line x1="164.20" y1="551.20" x2="164.20" y2="505.60" stroke="#2828c8" stroke-width="1.3" />
<line x1="171.20" y1="551.20" x2="171.20" y2="505.60" stroke="#2828c8" stroke-width="1.3" />
<line x1="199.20" y1="551.20" x2="199.20" y2="505.60" stroke="#2828c8" stroke-width="1.3" />
<line x1="206.20" y1="551.20" x2="206.20" y2="505.60" stroke="#2828c8" stroke-width="1.3" />
<circle cx="132.8" cy="511.3" r="0.9" fill="#2828c8"/>
<circle cx="167.7" cy="542.6" r="0.9" fill="#2828c8"/>
<circle cx="202.3" cy="525.0" r="0.9" fill="#2828c8"/>
<path d="M129.20,499.6V497.9H136.50V499.6" fill="none" stroke="#2828c8" stroke-width="1.5"/>
<path d="M130.65,497.6 L132.85,495.6 L135.05,497.6Z" fill="#2828c8"/>
<path d="M164.20,499.6V497.9H171.20V499.6" fill="none" stroke="#2828c8" stroke-width="1.5"/>
<path d="M165.50,497.6 L167.70,495.6 L169.90,497.6Z" fill="#2828c8"/>
<path d="M199.2,499.6V485.3H206.2V499.6" fill="none" stroke="#2828c8" stroke-width="1.3"/>
<line x1="202.70" y1="485.30" x2="202.70" y2="465.20" stroke="#2828c8" stroke-width="1.0" />
<line x1="200.90" y1="465.20" x2="204.50" y2="465.20" stroke="#2828c8" stroke-width="1.0" />
<circle cx="202.7" cy="493.4" r="0.9" fill="#2828c8"/>
<circle cx="202.7" cy="464.2" r="1.0" fill="#2828c8"/>
<path d="M145.40,551.20V539.60H152.00V551.20" fill="none" stroke="#111" stroke-width="1.3"/>
<line x1="148.70" y1="539.60" x2="148.70" y2="535.50" stroke="#111" stroke-width="1.0" />
<line x1="146.90" y1="535.50" x2="150.50" y2="535.50" stroke="#111" stroke-width="1.0" />
<circle cx="147.50" cy="541.50" r="0.9" fill="#111"/>
<circle cx="150.00" cy="542.20" r="0.9" fill="#111"/>
<circle cx="148.60" cy="544.00" r="0.9" fill="#111"/>
<path d="M154.60,551.20V526.80H161.50V551.20" fill="none" stroke="#d03838" stroke-width="1.3"/>
<line x1="158.05" y1="526.80" x2="158.05" y2="521.60" stroke="#d03838" stroke-width="1.0" />
<line x1="156.25" y1="521.60" x2="159.85" y2="521.60" stroke="#d03838" stroke-width="1.0" />
<circle cx="156.40" cy="529.00" r="0.9" fill="#d03838"/>
<circle cx="159.40" cy="527.50" r="0.9" fill="#d03838"/>
<circle cx="158.00" cy="532.00" r="0.9" fill="#d03838"/>
<path d="M180.30,551.20V534.40H186.90V551.20" fill="none" stroke="#111" stroke-width="1.3"/>
<line x1="183.60" y1="534.40" x2="183.60" y2="527.30" stroke="#111" stroke-width="1.0" />
<line x1="181.80" y1="527.30" x2="185.40" y2="527.30" stroke="#111" stroke-width="1.0" />
<circle cx="183.60" cy="542.50" r="0.9" fill="#111"/>
<path d="M189.50,551.20V525.20H196.60V551.20" fill="none" stroke="#d03838" stroke-width="1.3"/>
<line x1="193.05" y1="525.20" x2="193.05" y2="518.60" stroke="#d03838" stroke-width="1.0" />
<line x1="191.25" y1="518.60" x2="194.85" y2="518.60" stroke="#d03838" stroke-width="1.0" />
<circle cx="191.50" cy="529.50" r="0.9" fill="#d03838"/>
<circle cx="194.60" cy="527.60" r="0.9" fill="#d03838"/>
<circle cx="193.00" cy="522.50" r="0.9" fill="#d03838"/>
<path d="M122.80,468.10V464.50H158.00V468.10" fill="none" stroke="#111" stroke-width="1.0"/>
<text x="140.70" y="465.20" font-size="6.6" font-weight="bold" text-anchor="middle" >*</text>
<path d="M122.80,475.30V471.70H193.40V475.30" fill="none" stroke="#111" stroke-width="1.0"/>
<text x="158.00" y="472.50" font-size="6.6" font-weight="bold" text-anchor="middle" >**</text>
<path d="M89.30,483.10V479.50H193.40V483.10" fill="none" stroke="#111" stroke-width="1.0"/>
<text x="142.00" y="480.20" font-size="6.6" font-weight="bold" text-anchor="middle" >*</text>
<path d="M89.30,489.80V486.20H158.00V489.80" fill="none" stroke="#111" stroke-width="1.0"/>
<text x="123.40" y="487.00" font-size="6.6" font-weight="bold" text-anchor="middle" >*</text>
<rect x="216.90" y="470.60" width="8.00" height="4.60" fill="#fff" stroke="#111" stroke-width="1.2" />
<text x="228.80" y="475.40" font-size="7.0" font-style="italic" textLength="19.40" lengthAdjust="spacingAndGlyphs" >Nkx2-1</text>
<rect x="216.90" y="480.90" width="8.00" height="4.60" fill="#fff" stroke="#d03838" stroke-width="1.2" />
<text x="228.80" y="485.70" font-size="7.0" font-style="italic" textLength="14.50" lengthAdjust="spacingAndGlyphs" >Pax8</text>
<rect x="216.90" y="491.00" width="8.00" height="4.60" fill="#fff" stroke="#2828c8" stroke-width="1.2" />
<text x="228.80" y="495.80" font-size="7.0" font-style="italic" textLength="7.40" lengthAdjust="spacingAndGlyphs" >Tg</text>
<text transform="translate(89.00,559.4) rotate(-45)" font-size="6.2" font-weight="bold" text-anchor="end" textLength="45.5" lengthAdjust="spacingAndGlyphs">Vector+Vehicle</text>
<text transform="translate(124.00,559.4) rotate(-45)" font-size="6.2" font-weight="bold" text-anchor="end" textLength="51.4" lengthAdjust="spacingAndGlyphs">Vector+Tipifarnib</text>
<text transform="translate(159.00,559.4) rotate(-45)" font-size="6.2" font-weight="bold" text-anchor="end" textLength="53.7" lengthAdjust="spacingAndGlyphs">Gnas<tspan font-size="4.2" dy="-2.4">R201S</tspan><tspan dy="2.4">+Vehicle</tspan></text>
<text transform="translate(193.90,559.4) rotate(-45)" font-size="6.2" font-weight="bold" text-anchor="end" textLength="63.0" lengthAdjust="spacingAndGlyphs">Gnas<tspan font-size="4.2" dy="-2.4">R201S</tspan><tspan dy="2.4">+Tipifarnib</tspan></text>
<line x1="72.10" y1="606.60" x2="205.50" y2="606.60" stroke="#000" stroke-width="2.0" />
<text x="97.30" y="619.10" font-size="10.5" fill="#222" textLength="70.40" lengthAdjust="spacingAndGlyphs" style="stroke-width:0.45px;stroke:#222;stroke-opacity:0.8"><tspan font-style="italic">Hras;p53</tspan> PDTC</text>
</svg>
</body></html>
